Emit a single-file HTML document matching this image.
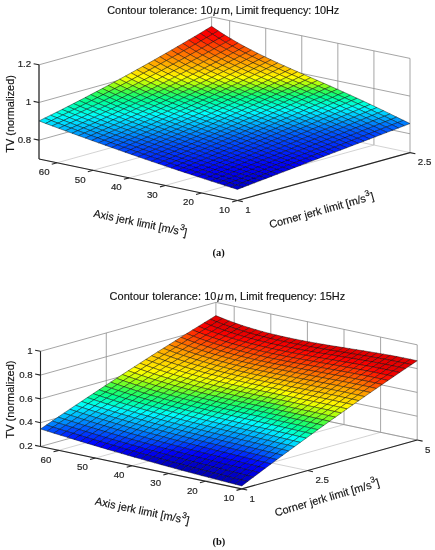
<!DOCTYPE html>
<html><head><meta charset="utf-8"><title>Figure</title>
<style>
html,body{margin:0;padding:0;background:#fff;}
svg{display:block;}
.g{stroke:#8e8e8e;stroke-width:0.8;fill:none}
.f{stroke:#c8c8c8;stroke-width:0.8;fill:none}
.a{stroke:#262626;stroke-width:1.1;fill:none;stroke-linecap:butt}
.s polygon{stroke:#000;stroke-width:0.42;stroke-linejoin:round}
.t{font-family:"Liberation Sans",sans-serif;font-size:9.7px;fill:#262626;stroke:#262626;stroke-width:0.2}
.l{font-family:"Liberation Sans",sans-serif;font-size:10.9px;fill:#111;stroke:#111;stroke-width:0.15}
.c{font-family:"Liberation Serif",serif;font-weight:bold;font-size:10.5px;fill:#111}
</style></head><body>
<svg width="435" height="550" viewBox="0 0 435 550">
<rect width="435" height="550" fill="#fff"/>
<g id="plot-a">
<line class="f" x1="237.4" y1="200.5" x2="410" y2="152.6"/>
<line class="g" x1="410" y1="152.6" x2="410" y2="58.4"/>
<line class="f" x1="201.33" y1="192.95" x2="373.93" y2="145.05"/>
<line class="g" x1="373.93" y1="145.05" x2="373.93" y2="50.85"/>
<line class="f" x1="165.25" y1="185.41" x2="337.85" y2="137.51"/>
<line class="g" x1="337.85" y1="137.51" x2="337.85" y2="43.31"/>
<line class="f" x1="129.18" y1="177.86" x2="301.78" y2="129.96"/>
<line class="g" x1="301.78" y1="129.96" x2="301.78" y2="35.76"/>
<line class="f" x1="93.11" y1="170.32" x2="265.71" y2="122.42"/>
<line class="g" x1="265.71" y1="122.42" x2="265.71" y2="28.22"/>
<line class="f" x1="57.04" y1="162.77" x2="229.64" y2="114.87"/>
<line class="g" x1="229.64" y1="114.87" x2="229.64" y2="20.67"/>
<line class="f" x1="237.4" y1="200.5" x2="39" y2="159"/>
<line class="g" x1="39" y1="159" x2="39" y2="64.8"/>
<line class="f" x1="410" y1="152.6" x2="211.6" y2="111.1"/>
<line class="g" x1="211.6" y1="111.1" x2="211.6" y2="16.9"/>
<line class="g" x1="39" y1="140.16" x2="211.6" y2="92.26"/>
<line class="g" x1="211.6" y1="92.26" x2="410" y2="133.76"/>
<line class="g" x1="39" y1="102.48" x2="211.6" y2="54.58"/>
<line class="g" x1="211.6" y1="54.58" x2="410" y2="96.08"/>
<line class="g" x1="39" y1="64.8" x2="211.6" y2="16.9"/>
<line class="g" x1="211.6" y1="16.9" x2="410" y2="58.4"/>
<g class="s">
<polygon fill="#f60000" points="212.46,34.22 205.85,29.79 211.6,26.32 218.21,30.82"/>
<polygon fill="#ff0000" points="219.07,38.4 212.46,34.22 218.21,30.82 224.83,35.08"/>
<polygon fill="#fd0000" points="206.71,37.59 200.09,33.24 205.85,29.79 212.46,34.22"/>
<polygon fill="#ff1200" points="225.69,42.36 219.07,38.4 224.83,35.08 231.44,39.1"/>
<polygon fill="#ff0c00" points="213.32,41.7 206.71,37.59 212.46,34.22 219.07,38.4"/>
<polygon fill="#ff0600" points="200.95,40.94 194.34,36.66 200.09,33.24 206.71,37.59"/>
<polygon fill="#ff2e00" points="232.3,46.13 225.69,42.36 231.44,39.1 238.05,42.93"/>
<polygon fill="#ff2a00" points="219.93,45.6 213.32,41.7 219.07,38.4 225.69,42.36"/>
<polygon fill="#ff2400" points="207.57,44.98 200.95,40.94 206.71,37.59 213.32,41.7"/>
<polygon fill="#ff1e00" points="195.2,44.27 188.59,40.07 194.34,36.66 200.95,40.94"/>
<polygon fill="#ff4600" points="238.91,49.72 232.3,46.13 238.05,42.93 244.67,46.57"/>
<polygon fill="#ff4300" points="226.55,49.31 219.93,45.6 225.69,42.36 232.3,46.13"/>
<polygon fill="#ff4000" points="214.18,48.82 207.57,44.98 213.32,41.7 219.93,45.6"/>
<polygon fill="#ff3c00" points="201.81,48.24 195.2,44.27 200.95,40.94 207.57,44.98"/>
<polygon fill="#ff3700" points="189.45,47.57 182.83,43.45 188.59,40.07 195.2,44.27"/>
<polygon fill="#ff5a00" points="245.53,53.17 238.91,49.72 244.67,46.57 251.28,50.06"/>
<polygon fill="#ff5800" points="233.16,52.86 226.55,49.31 232.3,46.13 238.91,49.72"/>
<polygon fill="#ff5600" points="220.79,52.48 214.18,48.82 219.93,45.6 226.55,49.31"/>
<polygon fill="#ff5200" points="208.43,52.02 201.81,48.24 207.57,44.98 214.18,48.82"/>
<polygon fill="#ff4f00" points="196.06,51.48 189.45,47.57 195.2,44.27 201.81,48.24"/>
<polygon fill="#ff4b00" points="183.69,50.86 177.08,46.81 182.83,43.45 189.45,47.57"/>
<polygon fill="#ff6e00" points="252.14,56.48 245.53,53.17 251.28,50.06 257.89,53.42"/>
<polygon fill="#ff6d00" points="239.77,56.26 233.16,52.86 238.91,49.72 245.53,53.17"/>
<polygon fill="#ff6b00" points="227.41,55.97 220.79,52.48 226.55,49.31 233.16,52.86"/>
<polygon fill="#ff6800" points="215.04,55.62 208.43,52.02 214.18,48.82 220.79,52.48"/>
<polygon fill="#ff6500" points="202.67,55.2 196.06,51.48 201.81,48.24 208.43,52.02"/>
<polygon fill="#ff6200" points="190.31,54.7 183.69,50.86 189.45,47.57 196.06,51.48"/>
<polygon fill="#ff5e00" points="177.94,54.13 171.33,50.15 177.08,46.81 183.69,50.86"/>
<polygon fill="#ff8100" points="258.75,59.69 252.14,56.48 257.89,53.42 264.51,56.66"/>
<polygon fill="#ff8000" points="246.39,59.53 239.77,56.26 245.53,53.17 252.14,56.48"/>
<polygon fill="#ff7f00" points="234.02,59.33 227.41,55.97 233.16,52.86 239.77,56.26"/>
<polygon fill="#ff7d00" points="221.65,59.07 215.04,55.62 220.79,52.48 227.41,55.97"/>
<polygon fill="#ff7b00" points="209.29,58.75 202.67,55.2 208.43,52.02 215.04,55.62"/>
<polygon fill="#ff7800" points="196.92,58.36 190.31,54.7 196.06,51.48 202.67,55.2"/>
<polygon fill="#ff7500" points="184.55,57.9 177.94,54.13 183.69,50.86 190.31,54.7"/>
<polygon fill="#ff7100" points="172.19,57.37 165.57,53.47 171.33,50.15 177.94,54.13"/>
<polygon fill="#ff9400" points="265.37,62.8 258.75,59.69 264.51,56.66 271.12,59.81"/>
<polygon fill="#ff9300" points="253,62.7 246.39,59.53 252.14,56.48 258.75,59.69"/>
<polygon fill="#ff9200" points="240.63,62.56 234.02,59.33 239.77,56.26 246.39,59.53"/>
<polygon fill="#ff9100" points="228.27,62.38 221.65,59.07 227.41,55.97 234.02,59.33"/>
<polygon fill="#ff8f00" points="215.9,62.15 209.29,58.75 215.04,55.62 221.65,59.07"/>
<polygon fill="#ff8d00" points="203.53,61.86 196.92,58.36 202.67,55.2 209.29,58.75"/>
<polygon fill="#ff8a00" points="191.17,61.51 184.55,57.9 190.31,54.7 196.92,58.36"/>
<polygon fill="#ff8700" points="178.8,61.08 172.19,57.37 177.94,54.13 184.55,57.9"/>
<polygon fill="#ff8400" points="166.43,60.59 159.82,56.76 165.57,53.47 172.19,57.37"/>
<polygon fill="#ffa600" points="271.98,65.83 265.37,62.8 271.12,59.81 277.73,62.88"/>
<polygon fill="#ffa500" points="259.61,65.77 253,62.7 258.75,59.69 265.37,62.8"/>
<polygon fill="#ffa500" points="247.25,65.69 240.63,62.56 246.39,59.53 253,62.7"/>
<polygon fill="#ffa400" points="234.88,65.57 228.27,62.38 234.02,59.33 240.63,62.56"/>
<polygon fill="#ffa300" points="222.51,65.42 215.9,62.15 221.65,59.07 228.27,62.38"/>
<polygon fill="#ffa100" points="210.15,65.21 203.53,61.86 209.29,58.75 215.9,62.15"/>
<polygon fill="#ff9f00" points="197.78,64.95 191.17,61.51 196.92,58.36 203.53,61.86"/>
<polygon fill="#ff9d00" points="185.41,64.63 178.8,61.08 184.55,57.9 191.17,61.51"/>
<polygon fill="#ff9a00" points="173.05,64.24 166.43,60.59 172.19,57.37 178.8,61.08"/>
<polygon fill="#ff9700" points="160.68,63.8 154.07,60.04 159.82,56.76 166.43,60.59"/>
<polygon fill="#ffb700" points="278.59,68.81 271.98,65.83 277.73,62.88 284.35,65.89"/>
<polygon fill="#ffb700" points="266.23,68.77 259.61,65.77 265.37,62.8 271.98,65.83"/>
<polygon fill="#ffb700" points="253.86,68.73 247.25,65.69 253,62.7 259.61,65.77"/>
<polygon fill="#ffb600" points="241.49,68.67 234.88,65.57 240.63,62.56 247.25,65.69"/>
<polygon fill="#ffb500" points="229.13,68.57 222.51,65.42 228.27,62.38 234.88,65.57"/>
<polygon fill="#ffb400" points="216.76,68.44 210.15,65.21 215.9,62.15 222.51,65.42"/>
<polygon fill="#ffb300" points="204.39,68.26 197.78,64.95 203.53,61.86 210.15,65.21"/>
<polygon fill="#ffb100" points="192.03,68.02 185.41,64.63 191.17,61.51 197.78,64.95"/>
<polygon fill="#ffaf00" points="179.66,67.73 173.05,64.24 178.8,61.08 185.41,64.63"/>
<polygon fill="#ffad00" points="167.29,67.38 160.68,63.8 166.43,60.59 173.05,64.24"/>
<polygon fill="#ffaa00" points="154.93,66.98 148.31,63.29 154.07,60.04 160.68,63.8"/>
<polygon fill="#ffc900" points="285.21,71.74 278.59,68.81 284.35,65.89 290.96,68.85"/>
<polygon fill="#ffc900" points="272.84,71.72 266.23,68.77 271.98,65.83 278.59,68.81"/>
<polygon fill="#ffc800" points="260.47,71.7 253.86,68.73 259.61,65.77 266.23,68.77"/>
<polygon fill="#ffc800" points="248.11,71.67 241.49,68.67 247.25,65.69 253.86,68.73"/>
<polygon fill="#ffc800" points="235.74,71.63 229.13,68.57 234.88,65.57 241.49,68.67"/>
<polygon fill="#ffc700" points="223.37,71.55 216.76,68.44 222.51,65.42 229.13,68.57"/>
<polygon fill="#ffc600" points="211.01,71.44 204.39,68.26 210.15,65.21 216.76,68.44"/>
<polygon fill="#ffc500" points="198.64,71.28 192.03,68.02 197.78,64.95 204.39,68.26"/>
<polygon fill="#ffc300" points="186.27,71.07 179.66,67.73 185.41,64.63 192.03,68.02"/>
<polygon fill="#ffc100" points="173.91,70.81 167.29,67.38 173.05,64.24 179.66,67.73"/>
<polygon fill="#ffbf00" points="161.54,70.5 154.93,66.98 160.68,63.8 167.29,67.38"/>
<polygon fill="#ffbd00" points="149.17,70.14 142.56,66.52 148.31,63.29 154.93,66.98"/>
<polygon fill="#ffda00" points="291.82,74.63 285.21,71.74 290.96,68.85 297.57,71.77"/>
<polygon fill="#ffda00" points="279.45,74.61 272.84,71.72 278.59,68.81 285.21,71.74"/>
<polygon fill="#ffda00" points="267.09,74.61 260.47,71.7 266.23,68.77 272.84,71.72"/>
<polygon fill="#ffd900" points="254.72,74.61 248.11,71.67 253.86,68.73 260.47,71.7"/>
<polygon fill="#ffd900" points="242.35,74.6 235.74,71.63 241.49,68.67 248.11,71.67"/>
<polygon fill="#ffd900" points="229.99,74.57 223.37,71.55 229.13,68.57 235.74,71.63"/>
<polygon fill="#ffd800" points="217.62,74.51 211.01,71.44 216.76,68.44 223.37,71.55"/>
<polygon fill="#ffd800" points="205.25,74.42 198.64,71.28 204.39,68.26 211.01,71.44"/>
<polygon fill="#ffd600" points="192.89,74.29 186.27,71.07 192.03,68.02 198.64,71.28"/>
<polygon fill="#ffd500" points="180.52,74.11 173.91,70.81 179.66,67.73 186.27,71.07"/>
<polygon fill="#ffd300" points="168.15,73.88 161.54,70.5 167.29,67.38 173.91,70.81"/>
<polygon fill="#ffd100" points="155.79,73.6 149.17,70.14 154.93,66.98 161.54,70.5"/>
<polygon fill="#ffcf00" points="143.42,73.28 136.81,69.73 142.56,66.52 149.17,70.14"/>
<polygon fill="#ffed00" points="298.43,77.51 291.82,74.63 297.57,71.77 304.19,74.68"/>
<polygon fill="#ffec00" points="286.07,77.48 279.45,74.61 285.21,71.74 291.82,74.63"/>
<polygon fill="#ffec00" points="273.7,77.48 267.09,74.61 272.84,71.72 279.45,74.61"/>
<polygon fill="#ffec00" points="261.33,77.49 254.72,74.61 260.47,71.7 267.09,74.61"/>
<polygon fill="#ffec00" points="248.97,77.5 242.35,74.6 248.11,71.67 254.72,74.61"/>
<polygon fill="#ffec00" points="236.6,77.51 229.99,74.57 235.74,71.63 242.35,74.6"/>
<polygon fill="#ffec00" points="224.23,77.5 217.62,74.51 223.37,71.55 229.99,74.57"/>
<polygon fill="#ffeb00" points="211.87,77.46 205.25,74.42 211.01,71.44 217.62,74.51"/>
<polygon fill="#ffeb00" points="199.5,77.39 192.89,74.29 198.64,71.28 205.25,74.42"/>
<polygon fill="#ffea00" points="187.13,77.28 180.52,74.11 186.27,71.07 192.89,74.29"/>
<polygon fill="#ffe800" points="174.77,77.12 168.15,73.88 173.91,70.81 180.52,74.11"/>
<polygon fill="#ffe700" points="162.4,76.92 155.79,73.6 161.54,70.5 168.15,73.88"/>
<polygon fill="#ffe500" points="150.03,76.68 143.42,73.28 149.17,70.14 155.79,73.6"/>
<polygon fill="#ffe200" points="137.67,76.4 131.05,72.92 136.81,69.73 143.42,73.28"/>
<polygon fill="#feff00" points="305.05,80.37 298.43,77.51 304.19,74.68 310.8,77.57"/>
<polygon fill="#ffff00" points="292.68,80.32 286.07,77.48 291.82,74.63 298.43,77.51"/>
<polygon fill="#ffff00" points="280.31,80.31 273.7,77.48 279.45,74.61 286.07,77.48"/>
<polygon fill="#ffff00" points="267.95,80.33 261.33,77.49 267.09,74.61 273.7,77.48"/>
<polygon fill="#ffff00" points="255.58,80.36 248.97,77.5 254.72,74.61 261.33,77.49"/>
<polygon fill="#feff00" points="243.21,80.39 236.6,77.51 242.35,74.6 248.97,77.5"/>
<polygon fill="#feff00" points="230.85,80.41 224.23,77.5 229.99,74.57 236.6,77.51"/>
<polygon fill="#ffff00" points="218.48,80.41 211.87,77.46 217.62,74.51 224.23,77.5"/>
<polygon fill="#ffff00" points="206.11,80.39 199.5,77.39 205.25,74.42 211.87,77.46"/>
<polygon fill="#fffe00" points="193.75,80.34 187.13,77.28 192.89,74.29 199.5,77.39"/>
<polygon fill="#fffd00" points="181.38,80.25 174.77,77.12 180.52,74.11 187.13,77.28"/>
<polygon fill="#fffc00" points="169.01,80.12 162.4,76.92 168.15,73.88 174.77,77.12"/>
<polygon fill="#fffb00" points="156.65,79.95 150.03,76.68 155.79,73.6 162.4,76.92"/>
<polygon fill="#fff900" points="144.28,79.74 137.67,76.4 143.42,73.28 150.03,76.68"/>
<polygon fill="#fff700" points="131.91,79.49 125.3,76.08 131.05,72.92 137.67,76.4"/>
<polygon fill="#dcff07" points="311.66,83.23 305.05,80.37 310.8,77.57 317.41,80.47"/>
<polygon fill="#ddff07" points="299.29,83.16 292.68,80.32 298.43,77.51 305.05,80.37"/>
<polygon fill="#ddff06" points="286.93,83.13 280.31,80.31 286.07,77.48 292.68,80.32"/>
<polygon fill="#ddff06" points="274.56,83.13 267.95,80.33 273.7,77.48 280.31,80.31"/>
<polygon fill="#ddff06" points="262.19,83.16 255.58,80.36 261.33,77.49 267.95,80.33"/>
<polygon fill="#dcff07" points="249.83,83.21 243.21,80.39 248.97,77.5 255.58,80.36"/>
<polygon fill="#dcff07" points="237.46,83.25 230.85,80.41 236.6,77.51 243.21,80.39"/>
<polygon fill="#dcff07" points="225.09,83.29 218.48,80.41 224.23,77.5 230.85,80.41"/>
<polygon fill="#dcff07" points="212.73,83.31 206.11,80.39 211.87,77.46 218.48,80.41"/>
<polygon fill="#ddff07" points="200.36,83.3 193.75,80.34 199.5,77.39 206.11,80.39"/>
<polygon fill="#deff06" points="187.99,83.27 181.38,80.25 187.13,77.28 193.75,80.34"/>
<polygon fill="#dfff06" points="175.63,83.2 169.01,80.12 174.77,77.12 181.38,80.25"/>
<polygon fill="#e1ff06" points="163.26,83.09 156.65,79.95 162.4,76.92 169.01,80.12"/>
<polygon fill="#e4ff05" points="150.89,82.95 144.28,79.74 150.03,76.68 156.65,79.95"/>
<polygon fill="#e7ff05" points="138.53,82.78 131.91,79.49 137.67,76.4 144.28,79.74"/>
<polygon fill="#eaff04" points="126.16,82.57 119.55,79.22 125.3,76.08 131.91,79.49"/>
<polygon fill="#b5ff0e" points="318.27,86.1 311.66,83.23 317.41,80.47 324.03,83.37"/>
<polygon fill="#b6ff0e" points="305.91,85.99 299.29,83.16 305.05,80.37 311.66,83.23"/>
<polygon fill="#b7ff0e" points="293.54,85.93 286.93,83.13 292.68,80.32 299.29,83.16"/>
<polygon fill="#b7ff0e" points="281.17,85.92 274.56,83.13 280.31,80.31 286.93,83.13"/>
<polygon fill="#b7ff0e" points="268.81,85.94 262.19,83.16 267.95,80.33 274.56,83.13"/>
<polygon fill="#b7ff0e" points="256.44,85.99 249.83,83.21 255.58,80.36 262.19,83.16"/>
<polygon fill="#b6ff0e" points="244.07,86.05 237.46,83.25 243.21,80.39 249.83,83.21"/>
<polygon fill="#b5ff0e" points="231.71,86.1 225.09,83.29 230.85,80.41 237.46,83.25"/>
<polygon fill="#b5ff0e" points="219.34,86.15 212.73,83.31 218.48,80.41 225.09,83.29"/>
<polygon fill="#b5ff0e" points="206.97,86.19 200.36,83.3 206.11,80.39 212.73,83.31"/>
<polygon fill="#b5ff0e" points="194.61,86.2 187.99,83.27 193.75,80.34 200.36,83.3"/>
<polygon fill="#b6ff0e" points="182.24,86.18 175.63,83.2 181.38,80.25 187.99,83.27"/>
<polygon fill="#b7ff0e" points="169.87,86.13 163.26,83.09 169.01,80.12 175.63,83.2"/>
<polygon fill="#b9ff0d" points="157.51,86.05 150.89,82.95 156.65,79.95 163.26,83.09"/>
<polygon fill="#bbff0d" points="145.14,85.94 138.53,82.78 144.28,79.74 150.89,82.95"/>
<polygon fill="#beff0c" points="132.77,85.79 126.16,82.57 131.91,79.49 138.53,82.78"/>
<polygon fill="#c1ff0c" points="120.41,85.63 113.79,82.35 119.55,79.22 126.16,82.57"/>
<polygon fill="#89ff1c" points="324.89,88.99 318.27,86.1 324.03,83.37 330.64,86.29"/>
<polygon fill="#8cff1a" points="312.52,88.83 305.91,85.99 311.66,83.23 318.27,86.1"/>
<polygon fill="#8eff19" points="300.15,88.74 293.54,85.93 299.29,83.16 305.91,85.99"/>
<polygon fill="#8fff18" points="287.79,88.7 281.17,85.92 286.93,83.13 293.54,85.93"/>
<polygon fill="#8fff18" points="275.42,88.7 268.81,85.94 274.56,83.13 281.17,85.92"/>
<polygon fill="#8eff19" points="263.05,88.74 256.44,85.99 262.19,83.16 268.81,85.94"/>
<polygon fill="#8eff19" points="250.69,88.8 244.07,86.05 249.83,83.21 256.44,85.99"/>
<polygon fill="#8dff19" points="238.32,88.87 231.71,86.1 237.46,83.25 244.07,86.05"/>
<polygon fill="#8dff1a" points="225.95,88.94 219.34,86.15 225.09,83.29 231.71,86.1"/>
<polygon fill="#8cff1a" points="213.59,89.01 206.97,86.19 212.73,83.31 219.34,86.15"/>
<polygon fill="#8cff1a" points="201.22,89.05 194.61,86.2 200.36,83.3 206.97,86.19"/>
<polygon fill="#8cff1a" points="188.85,89.08 182.24,86.18 187.99,83.27 194.61,86.2"/>
<polygon fill="#8dff19" points="176.49,89.08 169.87,86.13 175.63,83.2 182.24,86.18"/>
<polygon fill="#8eff19" points="164.12,89.05 157.51,86.05 163.26,83.09 169.87,86.13"/>
<polygon fill="#90ff18" points="151.75,88.99 145.14,85.94 150.89,82.95 157.51,86.05"/>
<polygon fill="#92ff16" points="139.39,88.9 132.77,85.79 138.53,82.78 145.14,85.94"/>
<polygon fill="#94ff15" points="127.02,88.79 120.41,85.63 126.16,82.57 132.77,85.79"/>
<polygon fill="#97ff14" points="114.65,88.66 108.04,85.45 113.79,82.35 120.41,85.63"/>
<polygon fill="#53ff3c" points="331.5,91.9 324.89,88.99 330.64,86.29 337.25,89.23"/>
<polygon fill="#58ff39" points="319.13,91.68 312.52,88.83 318.27,86.1 324.89,88.99"/>
<polygon fill="#5cff37" points="306.77,91.54 300.15,88.74 305.91,85.99 312.52,88.83"/>
<polygon fill="#5eff36" points="294.4,91.47 287.79,88.7 293.54,85.93 300.15,88.74"/>
<polygon fill="#5fff35" points="282.03,91.45 275.42,88.7 281.17,85.92 287.79,88.7"/>
<polygon fill="#60ff34" points="269.67,91.47 263.05,88.74 268.81,85.94 275.42,88.7"/>
<polygon fill="#60ff34" points="257.3,91.53 250.69,88.8 256.44,85.99 263.05,88.74"/>
<polygon fill="#60ff34" points="244.93,91.6 238.32,88.87 244.07,86.05 250.69,88.8"/>
<polygon fill="#60ff34" points="232.57,91.68 225.95,88.94 231.71,86.1 238.32,88.87"/>
<polygon fill="#60ff34" points="220.2,91.77 213.59,89.01 219.34,86.15 225.95,88.94"/>
<polygon fill="#61ff34" points="207.83,91.84 201.22,89.05 206.97,86.19 213.59,89.01"/>
<polygon fill="#61ff34" points="195.47,91.9 188.85,89.08 194.61,86.2 201.22,89.05"/>
<polygon fill="#61ff34" points="183.1,91.94 176.49,89.08 182.24,86.18 188.85,89.08"/>
<polygon fill="#62ff33" points="170.73,91.96 164.12,89.05 169.87,86.13 176.49,89.08"/>
<polygon fill="#63ff33" points="158.37,91.95 151.75,88.99 157.51,86.05 164.12,89.05"/>
<polygon fill="#65ff32" points="146,91.91 139.39,88.9 145.14,85.94 151.75,88.99"/>
<polygon fill="#67ff30" points="133.63,91.85 127.02,88.79 132.77,85.79 139.39,88.9"/>
<polygon fill="#69ff2f" points="121.27,91.77 114.65,88.66 120.41,85.63 127.02,88.79"/>
<polygon fill="#6bff2e" points="108.9,91.67 102.29,88.52 108.04,85.45 114.65,88.66"/>
<polygon fill="#29ff5d" points="338.11,94.83 331.5,91.9 337.25,89.23 343.87,92.2"/>
<polygon fill="#2cff59" points="325.75,94.56 319.13,91.68 324.89,88.99 331.5,91.9"/>
<polygon fill="#2eff55" points="313.38,94.37 306.77,91.54 312.52,88.83 319.13,91.68"/>
<polygon fill="#30ff53" points="301.01,94.25 294.4,91.47 300.15,88.74 306.77,91.54"/>
<polygon fill="#31ff51" points="288.65,94.2 282.03,91.45 287.79,88.7 294.4,91.47"/>
<polygon fill="#32ff50" points="276.28,94.19 269.67,91.47 275.42,88.7 282.03,91.45"/>
<polygon fill="#33ff4f" points="263.91,94.23 257.3,91.53 263.05,88.74 269.67,91.47"/>
<polygon fill="#34ff4f" points="251.55,94.3 244.93,91.6 250.69,88.8 257.3,91.53"/>
<polygon fill="#34ff4f" points="239.18,94.38 232.57,91.68 238.32,88.87 244.93,91.6"/>
<polygon fill="#35ff4e" points="226.81,94.48 220.2,91.77 225.95,88.94 232.57,91.68"/>
<polygon fill="#36ff4e" points="214.45,94.57 207.83,91.84 213.59,89.01 220.2,91.77"/>
<polygon fill="#36ff4e" points="202.08,94.66 195.47,91.9 201.22,89.05 207.83,91.84"/>
<polygon fill="#36ff4e" points="189.71,94.73 183.1,91.94 188.85,89.08 195.47,91.9"/>
<polygon fill="#37ff4d" points="177.35,94.79 170.73,91.96 176.49,89.08 183.1,91.94"/>
<polygon fill="#37ff4d" points="164.98,94.82 158.37,91.95 164.12,89.05 170.73,91.96"/>
<polygon fill="#38ff4c" points="152.61,94.83 146,91.91 151.75,88.99 158.37,91.95"/>
<polygon fill="#3aff4b" points="140.25,94.81 133.63,91.85 139.39,88.9 146,91.91"/>
<polygon fill="#3cff4a" points="127.88,94.77 121.27,91.77 127.02,88.79 133.63,91.85"/>
<polygon fill="#3eff49" points="115.51,94.72 108.9,91.67 114.65,88.66 121.27,91.77"/>
<polygon fill="#40ff47" points="103.15,94.67 96.53,91.58 102.29,88.52 108.9,91.67"/>
<polygon fill="#0fff80" points="344.73,97.79 338.11,94.83 343.87,92.2 350.48,95.2"/>
<polygon fill="#13ff7b" points="332.36,97.46 325.75,94.56 331.5,91.9 338.11,94.83"/>
<polygon fill="#17ff76" points="319.99,97.21 313.38,94.37 319.13,91.68 325.75,94.56"/>
<polygon fill="#19ff73" points="307.63,97.04 301.01,94.25 306.77,91.54 313.38,94.37"/>
<polygon fill="#1bff70" points="295.26,96.95 288.65,94.2 294.4,91.47 301.01,94.25"/>
<polygon fill="#1cff6e" points="282.89,96.91 276.28,94.19 282.03,91.45 288.65,94.2"/>
<polygon fill="#1dff6d" points="270.53,96.93 263.91,94.23 269.67,91.47 276.28,94.19"/>
<polygon fill="#1eff6c" points="258.16,96.98 251.55,94.3 257.3,91.53 263.91,94.23"/>
<polygon fill="#1fff6b" points="245.79,97.06 239.18,94.38 244.93,91.6 251.55,94.3"/>
<polygon fill="#20ff6a" points="233.43,97.16 226.81,94.48 232.57,91.68 239.18,94.38"/>
<polygon fill="#20ff69" points="221.06,97.26 214.45,94.57 220.2,91.77 226.81,94.48"/>
<polygon fill="#21ff68" points="208.69,97.37 202.08,94.66 207.83,91.84 214.45,94.57"/>
<polygon fill="#21ff68" points="196.33,97.47 189.71,94.73 195.47,91.9 202.08,94.66"/>
<polygon fill="#21ff68" points="183.96,97.55 177.35,94.79 183.1,91.94 189.71,94.73"/>
<polygon fill="#21ff68" points="171.59,97.62 164.98,94.82 170.73,91.96 177.35,94.79"/>
<polygon fill="#22ff67" points="159.23,97.66 152.61,94.83 158.37,91.95 164.98,94.82"/>
<polygon fill="#22ff66" points="146.86,97.69 140.25,94.81 146,91.91 152.61,94.83"/>
<polygon fill="#23ff65" points="134.49,97.69 127.88,94.77 133.63,91.85 140.25,94.81"/>
<polygon fill="#24ff64" points="122.13,97.68 115.51,94.72 121.27,91.77 127.88,94.77"/>
<polygon fill="#25ff62" points="109.76,97.66 103.15,94.67 108.9,91.67 115.51,94.72"/>
<polygon fill="#26ff61" points="97.39,97.64 90.78,94.61 96.53,91.58 103.15,94.67"/>
<polygon fill="#00ff9b" points="351.34,100.79 344.73,97.79 350.48,95.2 357.09,98.23"/>
<polygon fill="#01ff95" points="338.97,100.38 332.36,97.46 338.11,94.83 344.73,97.79"/>
<polygon fill="#03ff92" points="326.61,100.07 319.99,97.21 325.75,94.56 332.36,97.46"/>
<polygon fill="#05ff8e" points="314.24,99.85 307.63,97.04 313.38,94.37 319.99,97.21"/>
<polygon fill="#07ff8c" points="301.87,99.71 295.26,96.95 301.01,94.25 307.63,97.04"/>
<polygon fill="#09ff8a" points="289.51,99.63 282.89,96.91 288.65,94.2 295.26,96.95"/>
<polygon fill="#0aff89" points="277.14,99.62 270.53,96.93 276.28,94.19 282.89,96.91"/>
<polygon fill="#0aff87" points="264.77,99.65 258.16,96.98 263.91,94.23 270.53,96.93"/>
<polygon fill="#0bff86" points="252.41,99.71 245.79,97.06 251.55,94.3 258.16,96.98"/>
<polygon fill="#0cff85" points="240.04,99.81 233.43,97.16 239.18,94.38 245.79,97.06"/>
<polygon fill="#0cff85" points="227.67,99.92 221.06,97.26 226.81,94.48 233.43,97.16"/>
<polygon fill="#0dff83" points="215.31,100.03 208.69,97.37 214.45,94.57 221.06,97.26"/>
<polygon fill="#0eff83" points="202.94,100.15 196.33,97.47 202.08,94.66 208.69,97.37"/>
<polygon fill="#0eff83" points="190.57,100.26 183.96,97.55 189.71,94.73 196.33,97.47"/>
<polygon fill="#0eff82" points="178.21,100.35 171.59,97.62 177.35,94.79 183.96,97.55"/>
<polygon fill="#0eff82" points="165.84,100.43 159.23,97.66 164.98,94.82 171.59,97.62"/>
<polygon fill="#0fff81" points="153.47,100.49 146.86,97.69 152.61,94.83 159.23,97.66"/>
<polygon fill="#10ff80" points="141.11,100.53 134.49,97.69 140.25,94.81 146.86,97.69"/>
<polygon fill="#10ff7f" points="128.74,100.56 122.13,97.68 127.88,94.77 134.49,97.69"/>
<polygon fill="#11ff7e" points="116.37,100.57 109.76,97.66 115.51,94.72 122.13,97.68"/>
<polygon fill="#12ff7d" points="104.01,100.58 97.39,97.64 103.15,94.67 109.76,97.66"/>
<polygon fill="#13ff7b" points="91.64,100.59 85.03,97.63 90.78,94.61 97.39,97.64"/>
<polygon fill="#00ffbd" points="357.95,103.81 351.34,100.79 357.09,98.23 363.71,101.3"/>
<polygon fill="#00ffb6" points="345.59,103.34 338.97,100.38 344.73,97.79 351.34,100.79"/>
<polygon fill="#00ffaf" points="333.22,102.96 326.61,100.07 332.36,97.46 338.97,100.38"/>
<polygon fill="#00ffaa" points="320.85,102.68 314.24,99.85 319.99,97.21 326.61,100.07"/>
<polygon fill="#00ffa6" points="308.49,102.49 301.87,99.71 307.63,97.04 314.24,99.85"/>
<polygon fill="#00ffa2" points="296.12,102.37 289.51,99.63 295.26,96.95 301.87,99.71"/>
<polygon fill="#00ff9f" points="283.75,102.31 277.14,99.62 282.89,96.91 289.51,99.63"/>
<polygon fill="#00ff9d" points="271.39,102.31 264.77,99.65 270.53,96.93 277.14,99.62"/>
<polygon fill="#00ff9b" points="259.02,102.36 252.41,99.71 258.16,96.98 264.77,99.65"/>
<polygon fill="#00ff99" points="246.65,102.44 240.04,99.81 245.79,97.06 252.41,99.71"/>
<polygon fill="#00ff97" points="234.29,102.54 227.67,99.92 233.43,97.16 240.04,99.81"/>
<polygon fill="#00ff96" points="221.92,102.66 215.31,100.03 221.06,97.26 227.67,99.92"/>
<polygon fill="#01ff95" points="209.55,102.79 202.94,100.15 208.69,97.37 215.31,100.03"/>
<polygon fill="#01ff95" points="197.19,102.91 190.57,100.26 196.33,97.47 202.94,100.15"/>
<polygon fill="#01ff95" points="184.82,103.03 178.21,100.35 183.96,97.55 190.57,100.26"/>
<polygon fill="#01ff94" points="172.45,103.14 165.84,100.43 171.59,97.62 178.21,100.35"/>
<polygon fill="#02ff94" points="160.09,103.23 153.47,100.49 159.23,97.66 165.84,100.43"/>
<polygon fill="#02ff93" points="147.72,103.3 141.11,100.53 146.86,97.69 153.47,100.49"/>
<polygon fill="#02ff93" points="135.35,103.36 128.74,100.56 134.49,97.69 141.11,100.53"/>
<polygon fill="#03ff92" points="122.99,103.4 116.37,100.57 122.13,97.68 128.74,100.56"/>
<polygon fill="#04ff91" points="110.62,103.44 104.01,100.58 109.76,97.66 116.37,100.57"/>
<polygon fill="#04ff90" points="98.25,103.47 91.64,100.59 97.39,97.64 104.01,100.58"/>
<polygon fill="#05ff8f" points="85.89,103.52 79.27,100.62 85.03,97.63 91.64,100.59"/>
<polygon fill="#00ffd9" points="364.57,106.88 357.95,103.81 363.71,101.3 370.32,104.4"/>
<polygon fill="#00ffd2" points="352.2,106.33 345.59,103.34 351.34,100.79 357.95,103.81"/>
<polygon fill="#00ffcc" points="339.83,105.88 333.22,102.96 338.97,100.38 345.59,103.34"/>
<polygon fill="#00ffc7" points="327.47,105.54 320.85,102.68 326.61,100.07 333.22,102.96"/>
<polygon fill="#00ffc3" points="315.1,105.28 308.49,102.49 314.24,99.85 320.85,102.68"/>
<polygon fill="#00ffbf" points="302.73,105.11 296.12,102.37 301.87,99.71 308.49,102.49"/>
<polygon fill="#00ffbb" points="290.37,105.02 283.75,102.31 289.51,99.63 296.12,102.37"/>
<polygon fill="#00ffb8" points="278,104.98 271.39,102.31 277.14,99.62 283.75,102.31"/>
<polygon fill="#00ffb5" points="265.63,105 259.02,102.36 264.77,99.65 271.39,102.31"/>
<polygon fill="#00ffb3" points="253.27,105.06 246.65,102.44 252.41,99.71 259.02,102.36"/>
<polygon fill="#00ffb1" points="240.9,105.15 234.29,102.54 240.04,99.81 246.65,102.44"/>
<polygon fill="#00ffaf" points="228.53,105.27 221.92,102.66 227.67,99.92 234.29,102.54"/>
<polygon fill="#00ffad" points="216.17,105.39 209.55,102.79 215.31,100.03 221.92,102.66"/>
<polygon fill="#00ffac" points="203.8,105.53 197.19,102.91 202.94,100.15 209.55,102.79"/>
<polygon fill="#00ffac" points="191.43,105.66 184.82,103.03 190.57,100.26 197.19,102.91"/>
<polygon fill="#00ffac" points="179.07,105.79 172.45,103.14 178.21,100.35 184.82,103.03"/>
<polygon fill="#00ffab" points="166.7,105.91 160.09,103.23 165.84,100.43 172.45,103.14"/>
<polygon fill="#00ffaa" points="154.33,106.01 147.72,103.3 153.47,100.49 160.09,103.23"/>
<polygon fill="#00ffa9" points="141.97,106.09 135.35,103.36 141.11,100.53 147.72,103.3"/>
<polygon fill="#00ffa8" points="129.6,106.16 122.99,103.4 128.74,100.56 135.35,103.36"/>
<polygon fill="#00ffa7" points="117.23,106.23 110.62,103.44 116.37,100.57 122.99,103.4"/>
<polygon fill="#00ffa6" points="104.87,106.28 98.25,103.47 104.01,100.58 110.62,103.44"/>
<polygon fill="#00ffa5" points="92.5,106.35 85.89,103.52 91.64,100.59 98.25,103.47"/>
<polygon fill="#00ffa4" points="80.13,106.42 73.52,103.59 79.27,100.62 85.89,103.52"/>
<polygon fill="#00fff9" points="371.18,109.97 364.57,106.88 370.32,104.4 376.93,107.54"/>
<polygon fill="#00ffee" points="358.81,109.34 352.2,106.33 357.95,103.81 364.57,106.88"/>
<polygon fill="#00ffe7" points="346.45,108.83 339.83,105.88 345.59,103.34 352.2,106.33"/>
<polygon fill="#00ffe1" points="334.08,108.42 327.47,105.54 333.22,102.96 339.83,105.88"/>
<polygon fill="#00ffdb" points="321.71,108.11 315.1,105.28 320.85,102.68 327.47,105.54"/>
<polygon fill="#00ffd7" points="309.35,107.88 302.73,105.11 308.49,102.49 315.1,105.28"/>
<polygon fill="#00ffd3" points="296.98,107.73 290.37,105.02 296.12,102.37 302.73,105.11"/>
<polygon fill="#00ffd0" points="284.61,107.66 278,104.98 283.75,102.31 290.37,105.02"/>
<polygon fill="#00ffcd" points="272.25,107.64 265.63,105 271.39,102.31 278,104.98"/>
<polygon fill="#00ffcb" points="259.88,107.67 253.27,105.06 259.02,102.36 265.63,105"/>
<polygon fill="#00ffc8" points="247.51,107.75 240.9,105.15 246.65,102.44 253.27,105.06"/>
<polygon fill="#00ffc6" points="235.15,107.85 228.53,105.27 234.29,102.54 240.9,105.15"/>
<polygon fill="#00ffc5" points="222.78,107.98 216.17,105.39 221.92,102.66 228.53,105.27"/>
<polygon fill="#00ffc3" points="210.41,108.11 203.8,105.53 209.55,102.79 216.17,105.39"/>
<polygon fill="#00ffc3" points="198.05,108.26 191.43,105.66 197.19,102.91 203.8,105.53"/>
<polygon fill="#00ffc2" points="185.68,108.4 179.07,105.79 184.82,103.03 191.43,105.66"/>
<polygon fill="#00ffc2" points="173.31,108.53 166.7,105.91 172.45,103.14 179.07,105.79"/>
<polygon fill="#00ffc1" points="160.95,108.66 154.33,106.01 160.09,103.23 166.7,105.91"/>
<polygon fill="#00ffc1" points="148.58,108.77 141.97,106.09 147.72,103.3 154.33,106.01"/>
<polygon fill="#00ffc0" points="136.21,108.87 129.6,106.16 135.35,103.36 141.97,106.09"/>
<polygon fill="#00ffbf" points="123.85,108.95 117.23,106.23 122.99,103.4 129.6,106.16"/>
<polygon fill="#00ffbe" points="111.48,109.03 104.87,106.28 110.62,103.44 117.23,106.23"/>
<polygon fill="#00ffbd" points="99.11,109.11 92.5,106.35 98.25,103.47 104.87,106.28"/>
<polygon fill="#00ffbc" points="86.75,109.2 80.13,106.42 85.89,103.52 92.5,106.35"/>
<polygon fill="#00ffbb" points="74.38,109.31 67.77,106.53 73.52,103.59 80.13,106.42"/>
<polygon fill="#00e9ff" points="377.79,113.09 371.18,109.97 376.93,107.54 383.55,110.7"/>
<polygon fill="#00f1ff" points="365.43,112.39 358.81,109.34 364.57,106.88 371.18,109.97"/>
<polygon fill="#00f9ff" points="353.06,111.81 346.45,108.83 352.2,106.33 358.81,109.34"/>
<polygon fill="#00ffff" points="340.69,111.33 334.08,108.42 339.83,105.88 346.45,108.83"/>
<polygon fill="#00fff7" points="328.33,110.95 321.71,108.11 327.47,105.54 334.08,108.42"/>
<polygon fill="#00ffef" points="315.96,110.67 309.35,107.88 315.1,105.28 321.71,108.11"/>
<polygon fill="#00ffea" points="303.59,110.47 296.98,107.73 302.73,105.11 309.35,107.88"/>
<polygon fill="#00ffe7" points="291.23,110.35 284.61,107.66 290.37,105.02 296.98,107.73"/>
<polygon fill="#00ffe3" points="278.86,110.29 272.25,107.64 278,104.98 284.61,107.66"/>
<polygon fill="#00ffe0" points="266.49,110.29 259.88,107.67 265.63,105 272.25,107.64"/>
<polygon fill="#00ffdd" points="254.13,110.34 247.51,107.75 253.27,105.06 259.88,107.67"/>
<polygon fill="#00ffdb" points="241.76,110.42 235.15,107.85 240.9,105.15 247.51,107.75"/>
<polygon fill="#00ffd9" points="229.39,110.54 222.78,107.98 228.53,105.27 235.15,107.85"/>
<polygon fill="#00ffd7" points="217.03,110.67 210.41,108.11 216.17,105.39 222.78,107.98"/>
<polygon fill="#00ffd5" points="204.66,110.82 198.05,108.26 203.8,105.53 210.41,108.11"/>
<polygon fill="#00ffd5" points="192.29,110.97 185.68,108.4 191.43,105.66 198.05,108.26"/>
<polygon fill="#00ffd4" points="179.93,111.12 173.31,108.53 179.07,105.79 185.68,108.4"/>
<polygon fill="#00ffd4" points="167.56,111.26 160.95,108.66 166.7,105.91 173.31,108.53"/>
<polygon fill="#00ffd3" points="155.19,111.39 148.58,108.77 154.33,106.01 160.95,108.66"/>
<polygon fill="#00ffd3" points="142.83,111.52 136.21,108.87 141.97,106.09 148.58,108.77"/>
<polygon fill="#00ffd2" points="130.46,111.62 123.85,108.95 129.6,106.16 136.21,108.87"/>
<polygon fill="#00ffd1" points="118.09,111.72 111.48,109.03 117.23,106.23 123.85,108.95"/>
<polygon fill="#00ffd0" points="105.73,111.82 99.11,109.11 104.87,106.28 111.48,109.03"/>
<polygon fill="#00ffcf" points="93.36,111.92 86.75,109.2 92.5,106.35 99.11,109.11"/>
<polygon fill="#00ffce" points="80.99,112.04 74.38,109.31 80.13,106.42 86.75,109.2"/>
<polygon fill="#00ffcd" points="68.63,112.18 62.01,109.46 67.77,106.53 74.38,109.31"/>
<polygon fill="#00cfff" points="384.41,116.24 377.79,113.09 383.55,110.7 390.16,113.9"/>
<polygon fill="#00d8ff" points="372.04,115.47 365.43,112.39 371.18,109.97 377.79,113.09"/>
<polygon fill="#00e0ff" points="359.67,114.82 353.06,111.81 358.81,109.34 365.43,112.39"/>
<polygon fill="#00e7ff" points="347.31,114.27 340.69,111.33 346.45,108.83 353.06,111.81"/>
<polygon fill="#00eeff" points="334.94,113.83 328.33,110.95 334.08,108.42 340.69,111.33"/>
<polygon fill="#00f3ff" points="322.57,113.48 315.96,110.67 321.71,108.11 328.33,110.95"/>
<polygon fill="#00f8ff" points="310.21,113.22 303.59,110.47 309.35,107.88 315.96,110.67"/>
<polygon fill="#00fcff" points="297.84,113.05 291.23,110.35 296.98,107.73 303.59,110.47"/>
<polygon fill="#00fffe" points="285.47,112.95 278.86,110.29 284.61,107.66 291.23,110.35"/>
<polygon fill="#00fff9" points="273.11,112.91 266.49,110.29 272.25,107.64 278.86,110.29"/>
<polygon fill="#00fff4" points="260.74,112.93 254.13,110.34 259.88,107.67 266.49,110.29"/>
<polygon fill="#00fff0" points="248.37,112.99 241.76,110.42 247.51,107.75 254.13,110.34"/>
<polygon fill="#00ffed" points="236.01,113.09 229.39,110.54 235.15,107.85 241.76,110.42"/>
<polygon fill="#00ffeb" points="223.64,113.22 217.03,110.67 222.78,107.98 229.39,110.54"/>
<polygon fill="#00ffe8" points="211.27,113.36 204.66,110.82 210.41,108.11 217.03,110.67"/>
<polygon fill="#00ffe8" points="198.91,113.52 192.29,110.97 198.05,108.26 204.66,110.82"/>
<polygon fill="#00ffe7" points="186.54,113.67 179.93,111.12 185.68,108.4 192.29,110.97"/>
<polygon fill="#00ffe6" points="174.17,113.83 167.56,111.26 173.31,108.53 179.93,111.12"/>
<polygon fill="#00ffe6" points="161.81,113.98 155.19,111.39 160.95,108.66 167.56,111.26"/>
<polygon fill="#00ffe5" points="149.44,114.12 142.83,111.52 148.58,108.77 155.19,111.39"/>
<polygon fill="#00ffe4" points="137.07,114.24 130.46,111.62 136.21,108.87 142.83,111.52"/>
<polygon fill="#00ffe3" points="124.71,114.36 118.09,111.72 123.85,108.95 130.46,111.62"/>
<polygon fill="#00ffe2" points="112.34,114.48 105.73,111.82 111.48,109.03 118.09,111.72"/>
<polygon fill="#00ffe1" points="99.97,114.59 93.36,111.92 99.11,109.11 105.73,111.82"/>
<polygon fill="#00ffe0" points="87.61,114.71 80.99,112.04 86.75,109.2 93.36,111.92"/>
<polygon fill="#00ffdf" points="75.24,114.85 68.63,112.18 74.38,109.31 80.99,112.04"/>
<polygon fill="#00ffdf" points="62.87,115.02 56.26,112.36 62.01,109.46 68.63,112.18"/>
<polygon fill="#00b4ff" points="391.02,119.4 384.41,116.24 390.16,113.9 396.77,117.11"/>
<polygon fill="#00beff" points="378.65,118.57 372.04,115.47 377.79,113.09 384.41,116.24"/>
<polygon fill="#00c7ff" points="366.29,117.85 359.67,114.82 365.43,112.39 372.04,115.47"/>
<polygon fill="#00cfff" points="353.92,117.24 347.31,114.27 353.06,111.81 359.67,114.82"/>
<polygon fill="#00d7ff" points="341.55,116.73 334.94,113.83 340.69,111.33 347.31,114.27"/>
<polygon fill="#00ddff" points="329.19,116.32 322.57,113.48 328.33,110.95 334.94,113.83"/>
<polygon fill="#00e2ff" points="316.82,116 310.21,113.22 315.96,110.67 322.57,113.48"/>
<polygon fill="#00e7ff" points="304.45,115.77 297.84,113.05 303.59,110.47 310.21,113.22"/>
<polygon fill="#00ecff" points="292.09,115.62 285.47,112.95 291.23,110.35 297.84,113.05"/>
<polygon fill="#00efff" points="279.72,115.54 273.11,112.91 278.86,110.29 285.47,112.95"/>
<polygon fill="#00f3ff" points="267.35,115.53 260.74,112.93 266.49,110.29 273.11,112.91"/>
<polygon fill="#00f6ff" points="254.99,115.56 248.37,112.99 254.13,110.34 260.74,112.93"/>
<polygon fill="#00f9ff" points="242.62,115.64 236.01,113.09 241.76,110.42 248.37,112.99"/>
<polygon fill="#00fbff" points="230.25,115.75 223.64,113.22 229.39,110.54 236.01,113.09"/>
<polygon fill="#00feff" points="217.89,115.88 211.27,113.36 217.03,110.67 223.64,113.22"/>
<polygon fill="#00ffff" points="205.52,116.04 198.91,113.52 204.66,110.82 211.27,113.36"/>
<polygon fill="#00fffe" points="193.15,116.2 186.54,113.67 192.29,110.97 198.91,113.52"/>
<polygon fill="#00fffd" points="180.79,116.36 174.17,113.83 179.93,111.12 186.54,113.67"/>
<polygon fill="#00fffc" points="168.42,116.52 161.81,113.98 167.56,111.26 174.17,113.83"/>
<polygon fill="#00fffb" points="156.05,116.67 149.44,114.12 155.19,111.39 161.81,113.98"/>
<polygon fill="#00fff9" points="143.69,116.82 137.07,114.24 142.83,111.52 149.44,114.12"/>
<polygon fill="#00fff8" points="131.32,116.96 124.71,114.36 130.46,111.62 137.07,114.24"/>
<polygon fill="#00fff7" points="118.95,117.09 112.34,114.48 118.09,111.72 124.71,114.36"/>
<polygon fill="#00fff5" points="106.59,117.21 99.97,114.59 105.73,111.82 112.34,114.48"/>
<polygon fill="#00fff4" points="94.22,117.34 87.61,114.71 93.36,111.92 99.97,114.59"/>
<polygon fill="#00fff2" points="81.85,117.48 75.24,114.85 80.99,112.04 87.61,114.71"/>
<polygon fill="#00fff1" points="69.49,117.64 62.87,115.02 68.63,112.18 75.24,114.85"/>
<polygon fill="#00fff0" points="57.12,117.85 50.51,115.24 56.26,112.36 62.87,115.02"/>
<polygon fill="#0099ff" points="397.63,122.59 391.02,119.4 396.77,117.11 403.39,120.35"/>
<polygon fill="#00a4ff" points="385.27,121.69 378.65,118.57 384.41,116.24 391.02,119.4"/>
<polygon fill="#00aeff" points="372.9,120.91 366.29,117.85 372.04,115.47 378.65,118.57"/>
<polygon fill="#00b7ff" points="360.53,120.23 353.92,117.24 359.67,114.82 366.29,117.85"/>
<polygon fill="#00bfff" points="348.17,119.65 341.55,116.73 347.31,114.27 353.92,117.24"/>
<polygon fill="#00c6ff" points="335.8,119.18 329.19,116.32 334.94,113.83 341.55,116.73"/>
<polygon fill="#00ccff" points="323.43,118.8 316.82,116 322.57,113.48 329.19,116.32"/>
<polygon fill="#00d2ff" points="311.07,118.52 304.45,115.77 310.21,113.22 316.82,116"/>
<polygon fill="#00d7ff" points="298.7,118.32 292.09,115.62 297.84,113.05 304.45,115.77"/>
<polygon fill="#00dbff" points="286.33,118.19 279.72,115.54 285.47,112.95 292.09,115.62"/>
<polygon fill="#00dfff" points="273.97,118.13 267.35,115.53 273.11,112.91 279.72,115.54"/>
<polygon fill="#00e3ff" points="261.6,118.13 254.99,115.56 260.74,112.93 267.35,115.53"/>
<polygon fill="#00e6ff" points="249.23,118.18 242.62,115.64 248.37,112.99 254.99,115.56"/>
<polygon fill="#00e9ff" points="236.87,118.27 230.25,115.75 236.01,113.09 242.62,115.64"/>
<polygon fill="#00ecff" points="224.5,118.39 217.89,115.88 223.64,113.22 230.25,115.75"/>
<polygon fill="#00efff" points="212.13,118.54 205.52,116.04 211.27,113.36 217.89,115.88"/>
<polygon fill="#00f0ff" points="199.77,118.7 193.15,116.2 198.91,113.52 205.52,116.04"/>
<polygon fill="#00f0ff" points="187.4,118.86 180.79,116.36 186.54,113.67 193.15,116.2"/>
<polygon fill="#00f1ff" points="175.03,119.03 168.42,116.52 174.17,113.83 180.79,116.36"/>
<polygon fill="#00f2ff" points="162.67,119.2 156.05,116.67 161.81,113.98 168.42,116.52"/>
<polygon fill="#00f3ff" points="150.3,119.36 143.69,116.82 149.44,114.12 156.05,116.67"/>
<polygon fill="#00f3ff" points="137.93,119.51 131.32,116.96 137.07,114.24 143.69,116.82"/>
<polygon fill="#00f4ff" points="125.57,119.65 118.95,117.09 124.71,114.36 131.32,116.96"/>
<polygon fill="#00f5ff" points="113.2,119.79 106.59,117.21 112.34,114.48 118.95,117.09"/>
<polygon fill="#00f6ff" points="100.83,119.93 94.22,117.34 99.97,114.59 106.59,117.21"/>
<polygon fill="#00f7ff" points="88.47,120.07 81.85,117.48 87.61,114.71 94.22,117.34"/>
<polygon fill="#00f8ff" points="76.1,120.23 69.49,117.64 75.24,114.85 81.85,117.48"/>
<polygon fill="#00f9ff" points="63.73,120.42 57.12,117.85 62.87,115.02 69.49,117.64"/>
<polygon fill="#00f9ff" points="51.37,120.65 44.75,118.1 50.51,115.24 57.12,117.85"/>
<polygon fill="#007dff" points="404.25,125.78 397.63,122.59 403.39,120.35 410,123.59"/>
<polygon fill="#0089ff" points="391.88,124.83 385.27,121.69 391.02,119.4 397.63,122.59"/>
<polygon fill="#0094ff" points="379.51,123.98 372.9,120.91 378.65,118.57 385.27,121.69"/>
<polygon fill="#009eff" points="367.15,123.24 360.53,120.23 366.29,117.85 372.9,120.91"/>
<polygon fill="#00a7ff" points="354.78,122.6 348.17,119.65 353.92,117.24 360.53,120.23"/>
<polygon fill="#00afff" points="342.41,122.06 335.8,119.18 341.55,116.73 348.17,119.65"/>
<polygon fill="#00b6ff" points="330.05,121.63 323.43,118.8 329.19,116.32 335.8,119.18"/>
<polygon fill="#00bcff" points="317.68,121.28 311.07,118.52 316.82,116 323.43,118.8"/>
<polygon fill="#00c2ff" points="305.31,121.03 298.7,118.32 304.45,115.77 311.07,118.52"/>
<polygon fill="#00c7ff" points="292.95,120.85 286.33,118.19 292.09,115.62 298.7,118.32"/>
<polygon fill="#00ccff" points="280.58,120.75 273.97,118.13 279.72,115.54 286.33,118.19"/>
<polygon fill="#00d0ff" points="268.21,120.71 261.6,118.13 267.35,115.53 273.97,118.13"/>
<polygon fill="#00d3ff" points="255.85,120.73 249.23,118.18 254.99,115.56 261.6,118.13"/>
<polygon fill="#00d7ff" points="243.48,120.79 236.87,118.27 242.62,115.64 249.23,118.18"/>
<polygon fill="#00daff" points="231.11,120.9 224.5,118.39 230.25,115.75 236.87,118.27"/>
<polygon fill="#00ddff" points="218.75,121.03 212.13,118.54 217.89,115.88 224.5,118.39"/>
<polygon fill="#00dfff" points="206.38,121.18 199.77,118.7 205.52,116.04 212.13,118.54"/>
<polygon fill="#00e0ff" points="194.01,121.35 187.4,118.86 193.15,116.2 199.77,118.7"/>
<polygon fill="#00e1ff" points="181.65,121.52 175.03,119.03 180.79,116.36 187.4,118.86"/>
<polygon fill="#00e2ff" points="169.28,121.69 162.67,119.2 168.42,116.52 175.03,119.03"/>
<polygon fill="#00e3ff" points="156.91,121.86 150.3,119.36 156.05,116.67 162.67,119.2"/>
<polygon fill="#00e4ff" points="144.55,122.03 137.93,119.51 143.69,116.82 150.3,119.36"/>
<polygon fill="#00e5ff" points="132.18,122.18 125.57,119.65 131.32,116.96 137.93,119.51"/>
<polygon fill="#00e6ff" points="119.81,122.33 113.2,119.79 118.95,117.09 125.57,119.65"/>
<polygon fill="#00e7ff" points="107.45,122.48 100.83,119.93 106.59,117.21 113.2,119.79"/>
<polygon fill="#00e8ff" points="95.08,122.63 88.47,120.07 94.22,117.34 100.83,119.93"/>
<polygon fill="#00e9ff" points="82.71,122.78 76.1,120.23 81.85,117.48 88.47,120.07"/>
<polygon fill="#00eaff" points="70.35,122.96 63.73,120.42 69.49,117.64 76.1,120.23"/>
<polygon fill="#00eaff" points="57.98,123.17 51.37,120.65 57.12,117.85 63.73,120.42"/>
<polygon fill="#00ebff" points="45.61,123.43 39,120.94 44.75,118.1 51.37,120.65"/>
<polygon fill="#006eff" points="398.49,127.97 391.88,124.83 397.63,122.59 404.25,125.78"/>
<polygon fill="#0079ff" points="386.13,127.07 379.51,123.98 385.27,121.69 391.88,124.83"/>
<polygon fill="#0084ff" points="373.76,126.27 367.15,123.24 372.9,120.91 379.51,123.98"/>
<polygon fill="#008eff" points="361.39,125.57 354.78,122.6 360.53,120.23 367.15,123.24"/>
<polygon fill="#0097ff" points="349.03,124.97 342.41,122.06 348.17,119.65 354.78,122.6"/>
<polygon fill="#009fff" points="336.66,124.47 330.05,121.63 335.8,119.18 342.41,122.06"/>
<polygon fill="#00a6ff" points="324.29,124.07 317.68,121.28 323.43,118.8 330.05,121.63"/>
<polygon fill="#00acff" points="311.93,123.76 305.31,121.03 311.07,118.52 317.68,121.28"/>
<polygon fill="#00b2ff" points="299.56,123.53 292.95,120.85 298.7,118.32 305.31,121.03"/>
<polygon fill="#00b7ff" points="287.19,123.38 280.58,120.75 286.33,118.19 292.95,120.85"/>
<polygon fill="#00bcff" points="274.83,123.3 268.21,120.71 273.97,118.13 280.58,120.75"/>
<polygon fill="#00c0ff" points="262.46,123.28 255.85,120.73 261.6,118.13 268.21,120.71"/>
<polygon fill="#00c4ff" points="250.09,123.32 243.48,120.79 249.23,118.18 255.85,120.73"/>
<polygon fill="#00c8ff" points="237.73,123.4 231.11,120.9 236.87,118.27 243.48,120.79"/>
<polygon fill="#00ccff" points="225.36,123.51 218.75,121.03 224.5,118.39 231.11,120.9"/>
<polygon fill="#00cfff" points="212.99,123.65 206.38,121.18 212.13,118.54 218.75,121.03"/>
<polygon fill="#00d0ff" points="200.63,123.81 194.01,121.35 199.77,118.7 206.38,121.18"/>
<polygon fill="#00d1ff" points="188.26,123.98 181.65,121.52 187.4,118.86 194.01,121.35"/>
<polygon fill="#00d2ff" points="175.89,124.16 169.28,121.69 175.03,119.03 181.65,121.52"/>
<polygon fill="#00d3ff" points="163.53,124.34 156.91,121.86 162.67,119.2 169.28,121.69"/>
<polygon fill="#00d4ff" points="151.16,124.51 144.55,122.03 150.3,119.36 156.91,121.86"/>
<polygon fill="#00d5ff" points="138.79,124.68 132.18,122.18 137.93,119.51 144.55,122.03"/>
<polygon fill="#00d6ff" points="126.43,124.84 119.81,122.33 125.57,119.65 132.18,122.18"/>
<polygon fill="#00d7ff" points="114.06,125 107.45,122.48 113.2,119.79 119.81,122.33"/>
<polygon fill="#00d8ff" points="101.69,125.15 95.08,122.63 100.83,119.93 107.45,122.48"/>
<polygon fill="#00d9ff" points="89.33,125.31 82.71,122.78 88.47,120.07 95.08,122.63"/>
<polygon fill="#00dbff" points="76.96,125.48 70.35,122.96 76.1,120.23 82.71,122.78"/>
<polygon fill="#00dbff" points="64.59,125.67 57.98,123.17 63.73,120.42 70.35,122.96"/>
<polygon fill="#00dcff" points="52.23,125.9 45.61,123.43 51.37,120.65 57.98,123.17"/>
<polygon fill="#0063ff" points="392.74,130.17 386.13,127.07 391.88,124.83 398.49,127.97"/>
<polygon fill="#006cff" points="380.37,129.31 373.76,126.27 379.51,123.98 386.13,127.07"/>
<polygon fill="#0074ff" points="368.01,128.56 361.39,125.57 367.15,123.24 373.76,126.27"/>
<polygon fill="#007eff" points="355.64,127.9 349.03,124.97 354.78,122.6 361.39,125.57"/>
<polygon fill="#0087ff" points="343.27,127.34 336.66,124.47 342.41,122.06 349.03,124.97"/>
<polygon fill="#008fff" points="330.91,126.88 324.29,124.07 330.05,121.63 336.66,124.47"/>
<polygon fill="#0096ff" points="318.54,126.51 311.93,123.76 317.68,121.28 324.29,124.07"/>
<polygon fill="#009dff" points="306.17,126.23 299.56,123.53 305.31,121.03 311.93,123.76"/>
<polygon fill="#00a3ff" points="293.81,126.03 287.19,123.38 292.95,120.85 299.56,123.53"/>
<polygon fill="#00a8ff" points="281.44,125.9 274.83,123.3 280.58,120.75 287.19,123.38"/>
<polygon fill="#00adff" points="269.07,125.85 262.46,123.28 268.21,120.71 274.83,123.3"/>
<polygon fill="#00b1ff" points="256.71,125.85 250.09,123.32 255.85,120.73 262.46,123.28"/>
<polygon fill="#00b6ff" points="244.34,125.9 237.73,123.4 243.48,120.79 250.09,123.32"/>
<polygon fill="#00b9ff" points="231.97,125.99 225.36,123.51 231.11,120.9 237.73,123.4"/>
<polygon fill="#00bdff" points="219.61,126.11 212.99,123.65 218.75,121.03 225.36,123.51"/>
<polygon fill="#00c0ff" points="207.24,126.26 200.63,123.81 206.38,121.18 212.99,123.65"/>
<polygon fill="#00c1ff" points="194.87,126.43 188.26,123.98 194.01,121.35 200.63,123.81"/>
<polygon fill="#00c2ff" points="182.51,126.61 175.89,124.16 181.65,121.52 188.26,123.98"/>
<polygon fill="#00c3ff" points="170.14,126.79 163.53,124.34 169.28,121.69 175.89,124.16"/>
<polygon fill="#00c4ff" points="157.77,126.97 151.16,124.51 156.91,121.86 163.53,124.34"/>
<polygon fill="#00c5ff" points="145.41,127.15 138.79,124.68 144.55,122.03 151.16,124.51"/>
<polygon fill="#00c6ff" points="133.04,127.32 126.43,124.84 132.18,122.18 138.79,124.68"/>
<polygon fill="#00c8ff" points="120.67,127.48 114.06,125 119.81,122.33 126.43,124.84"/>
<polygon fill="#00c9ff" points="108.31,127.64 101.69,125.15 107.45,122.48 114.06,125"/>
<polygon fill="#00caff" points="95.94,127.8 89.33,125.31 95.08,122.63 101.69,125.15"/>
<polygon fill="#00cbff" points="83.57,127.97 76.96,125.48 82.71,122.78 89.33,125.31"/>
<polygon fill="#00ccff" points="71.21,128.15 64.59,125.67 70.35,122.96 76.96,125.48"/>
<polygon fill="#00cdff" points="58.84,128.36 52.23,125.9 57.98,123.17 64.59,125.67"/>
<polygon fill="#0059ff" points="386.99,132.36 380.37,129.31 386.13,127.07 392.74,130.17"/>
<polygon fill="#0061ff" points="374.62,131.55 368.01,128.56 373.76,126.27 380.37,129.31"/>
<polygon fill="#0068ff" points="362.25,130.84 355.64,127.9 361.39,125.57 368.01,128.56"/>
<polygon fill="#006fff" points="349.89,130.22 343.27,127.34 349.03,124.97 355.64,127.9"/>
<polygon fill="#0078ff" points="337.52,129.7 330.91,126.88 336.66,124.47 343.27,127.34"/>
<polygon fill="#0080ff" points="325.15,129.28 318.54,126.51 324.29,124.07 330.91,126.88"/>
<polygon fill="#0087ff" points="312.79,128.94 306.17,126.23 311.93,123.76 318.54,126.51"/>
<polygon fill="#008eff" points="300.42,128.69 293.81,126.03 299.56,123.53 306.17,126.23"/>
<polygon fill="#0094ff" points="288.05,128.52 281.44,125.9 287.19,123.38 293.81,126.03"/>
<polygon fill="#0099ff" points="275.69,128.42 269.07,125.85 274.83,123.3 281.44,125.9"/>
<polygon fill="#009eff" points="263.32,128.38 256.71,125.85 262.46,123.28 269.07,125.85"/>
<polygon fill="#00a3ff" points="250.95,128.4 244.34,125.9 250.09,123.32 256.71,125.85"/>
<polygon fill="#00a7ff" points="238.59,128.47 231.97,125.99 237.73,123.4 244.34,125.9"/>
<polygon fill="#00abff" points="226.22,128.57 219.61,126.11 225.36,123.51 231.97,125.99"/>
<polygon fill="#00afff" points="213.85,128.71 207.24,126.26 212.99,123.65 219.61,126.11"/>
<polygon fill="#00b1ff" points="201.49,128.87 194.87,126.43 200.63,123.81 207.24,126.26"/>
<polygon fill="#00b2ff" points="189.12,129.04 182.51,126.61 188.26,123.98 194.87,126.43"/>
<polygon fill="#00b3ff" points="176.75,129.22 170.14,126.79 175.89,124.16 182.51,126.61"/>
<polygon fill="#00b4ff" points="164.39,129.4 157.77,126.97 163.53,124.34 170.14,126.79"/>
<polygon fill="#00b6ff" points="152.02,129.59 145.41,127.15 151.16,124.51 157.77,126.97"/>
<polygon fill="#00b7ff" points="139.65,129.77 133.04,127.32 138.79,124.68 145.41,127.15"/>
<polygon fill="#00b8ff" points="127.29,129.94 120.67,127.48 126.43,124.84 133.04,127.32"/>
<polygon fill="#00b9ff" points="114.92,130.11 108.31,127.64 114.06,125 120.67,127.48"/>
<polygon fill="#00bbff" points="102.55,130.27 95.94,127.8 101.69,125.15 108.31,127.64"/>
<polygon fill="#00bcff" points="90.19,130.44 83.57,127.97 89.33,125.31 95.94,127.8"/>
<polygon fill="#00bdff" points="77.82,130.61 71.21,128.15 76.96,125.48 83.57,127.97"/>
<polygon fill="#00bfff" points="65.45,130.81 58.84,128.36 64.59,125.67 71.21,128.15"/>
<polygon fill="#004eff" points="381.23,134.55 374.62,131.55 380.37,129.31 386.99,132.36"/>
<polygon fill="#0056ff" points="368.87,133.79 362.25,130.84 368.01,128.56 374.62,131.55"/>
<polygon fill="#005eff" points="356.5,133.12 349.89,130.22 355.64,127.9 362.25,130.84"/>
<polygon fill="#0065ff" points="344.13,132.55 337.52,129.7 343.27,127.34 349.89,130.22"/>
<polygon fill="#006bff" points="331.77,132.07 325.15,129.28 330.91,126.88 337.52,129.7"/>
<polygon fill="#0071ff" points="319.4,131.68 312.79,128.94 318.54,126.51 325.15,129.28"/>
<polygon fill="#0078ff" points="307.03,131.37 300.42,128.69 306.17,126.23 312.79,128.94"/>
<polygon fill="#007fff" points="294.67,131.15 288.05,128.52 293.81,126.03 300.42,128.69"/>
<polygon fill="#0085ff" points="282.3,131.01 275.69,128.42 281.44,125.9 288.05,128.52"/>
<polygon fill="#008aff" points="269.93,130.93 263.32,128.38 269.07,125.85 275.69,128.42"/>
<polygon fill="#008fff" points="257.57,130.91 250.95,128.4 256.71,125.85 263.32,128.38"/>
<polygon fill="#0094ff" points="245.2,130.95 238.59,128.47 244.34,125.9 250.95,128.4"/>
<polygon fill="#0099ff" points="232.83,131.03 226.22,128.57 231.97,125.99 238.59,128.47"/>
<polygon fill="#009dff" points="220.47,131.15 213.85,128.71 219.61,126.11 226.22,128.57"/>
<polygon fill="#00a1ff" points="208.1,131.29 201.49,128.87 207.24,126.26 213.85,128.71"/>
<polygon fill="#00a2ff" points="195.73,131.46 189.12,129.04 194.87,126.43 201.49,128.87"/>
<polygon fill="#00a3ff" points="183.37,131.63 176.75,129.22 182.51,126.61 189.12,129.04"/>
<polygon fill="#00a5ff" points="171,131.82 164.39,129.4 170.14,126.79 176.75,129.22"/>
<polygon fill="#00a6ff" points="158.63,132.01 152.02,129.59 157.77,126.97 164.39,129.4"/>
<polygon fill="#00a7ff" points="146.27,132.19 139.65,129.77 145.41,127.15 152.02,129.59"/>
<polygon fill="#00a9ff" points="133.9,132.37 127.29,129.94 133.04,127.32 139.65,129.77"/>
<polygon fill="#00aaff" points="121.53,132.55 114.92,130.11 120.67,127.48 127.29,129.94"/>
<polygon fill="#00acff" points="109.17,132.72 102.55,130.27 108.31,127.64 114.92,130.11"/>
<polygon fill="#00adff" points="96.8,132.88 90.19,130.44 95.94,127.8 102.55,130.27"/>
<polygon fill="#00aeff" points="84.43,133.06 77.82,130.61 83.57,127.97 90.19,130.44"/>
<polygon fill="#00b0ff" points="72.07,133.24 65.45,130.81 71.21,128.15 77.82,130.61"/>
<polygon fill="#0046ff" points="375.48,136.75 368.87,133.79 374.62,131.55 381.23,134.55"/>
<polygon fill="#004cff" points="363.11,136.03 356.5,133.12 362.25,130.84 368.87,133.79"/>
<polygon fill="#0053ff" points="350.75,135.4 344.13,132.55 349.89,130.22 356.5,133.12"/>
<polygon fill="#005aff" points="338.38,134.87 331.77,132.07 337.52,129.7 344.13,132.55"/>
<polygon fill="#0060ff" points="326.01,134.43 319.4,131.68 325.15,129.28 331.77,132.07"/>
<polygon fill="#0066ff" points="313.65,134.07 307.03,131.37 312.79,128.94 319.4,131.68"/>
<polygon fill="#006bff" points="301.28,133.8 294.67,131.15 300.42,128.69 307.03,131.37"/>
<polygon fill="#0070ff" points="288.91,133.61 282.3,131.01 288.05,128.52 294.67,131.15"/>
<polygon fill="#0076ff" points="276.55,133.49 269.93,130.93 275.69,128.42 282.3,131.01"/>
<polygon fill="#007cff" points="264.18,133.43 257.57,130.91 263.32,128.38 269.93,130.93"/>
<polygon fill="#0081ff" points="251.81,133.44 245.2,130.95 250.95,128.4 257.57,130.91"/>
<polygon fill="#0086ff" points="239.45,133.49 232.83,131.03 238.59,128.47 245.2,130.95"/>
<polygon fill="#008bff" points="227.08,133.58 220.47,131.15 226.22,128.57 232.83,131.03"/>
<polygon fill="#0090ff" points="214.71,133.71 208.1,131.29 213.85,128.71 220.47,131.15"/>
<polygon fill="#0092ff" points="202.35,133.86 195.73,131.46 201.49,128.87 208.1,131.29"/>
<polygon fill="#0094ff" points="189.98,134.04 183.37,131.63 189.12,129.04 195.73,131.46"/>
<polygon fill="#0095ff" points="177.61,134.22 171,131.82 176.75,129.22 183.37,131.63"/>
<polygon fill="#0096ff" points="165.25,134.41 158.63,132.01 164.39,129.4 171,131.82"/>
<polygon fill="#0098ff" points="152.88,134.6 146.27,132.19 152.02,129.59 158.63,132.01"/>
<polygon fill="#0099ff" points="140.51,134.78 133.9,132.37 139.65,129.77 146.27,132.19"/>
<polygon fill="#009bff" points="128.15,134.96 121.53,132.55 127.29,129.94 133.9,132.37"/>
<polygon fill="#009cff" points="115.78,135.14 109.17,132.72 114.92,130.11 121.53,132.55"/>
<polygon fill="#009eff" points="103.41,135.31 96.8,132.88 102.55,130.27 109.17,132.72"/>
<polygon fill="#009fff" points="91.05,135.48 84.43,133.06 90.19,130.44 96.8,132.88"/>
<polygon fill="#00a1ff" points="78.68,135.66 72.07,133.24 77.82,130.61 84.43,133.06"/>
<polygon fill="#0040ff" points="369.73,138.94 363.11,136.03 368.87,133.79 375.48,136.75"/>
<polygon fill="#0045ff" points="357.36,138.27 350.75,135.4 356.5,133.12 363.11,136.03"/>
<polygon fill="#004aff" points="344.99,137.68 338.38,134.87 344.13,132.55 350.75,135.4"/>
<polygon fill="#0050ff" points="332.63,137.19 326.01,134.43 331.77,132.07 338.38,134.87"/>
<polygon fill="#0056ff" points="320.26,136.78 313.65,134.07 319.4,131.68 326.01,134.43"/>
<polygon fill="#005cff" points="307.89,136.46 301.28,133.8 307.03,131.37 313.65,134.07"/>
<polygon fill="#0061ff" points="295.53,136.22 288.91,133.61 294.67,131.15 301.28,133.8"/>
<polygon fill="#0066ff" points="283.16,136.06 276.55,133.49 282.3,131.01 288.91,133.61"/>
<polygon fill="#006aff" points="270.79,135.96 264.18,133.43 269.93,130.93 276.55,133.49"/>
<polygon fill="#006fff" points="258.43,135.93 251.81,133.44 257.57,130.91 264.18,133.43"/>
<polygon fill="#0073ff" points="246.06,135.95 239.45,133.49 245.2,130.95 251.81,133.44"/>
<polygon fill="#0079ff" points="233.69,136.02 227.08,133.58 232.83,131.03 239.45,133.49"/>
<polygon fill="#007eff" points="221.33,136.13 214.71,133.71 220.47,131.15 227.08,133.58"/>
<polygon fill="#0082ff" points="208.96,136.27 202.35,133.86 208.1,131.29 214.71,133.71"/>
<polygon fill="#0084ff" points="196.59,136.43 189.98,134.04 195.73,131.46 202.35,133.86"/>
<polygon fill="#0085ff" points="184.23,136.6 177.61,134.22 183.37,131.63 189.98,134.04"/>
<polygon fill="#0087ff" points="171.86,136.79 165.25,134.41 171,131.82 177.61,134.22"/>
<polygon fill="#0088ff" points="159.49,136.98 152.88,134.6 158.63,132.01 165.25,134.41"/>
<polygon fill="#008aff" points="147.13,137.17 140.51,134.78 146.27,132.19 152.88,134.6"/>
<polygon fill="#008bff" points="134.76,137.36 128.15,134.96 133.9,132.37 140.51,134.78"/>
<polygon fill="#008dff" points="122.39,137.54 115.78,135.14 121.53,132.55 128.15,134.96"/>
<polygon fill="#008eff" points="110.03,137.71 103.41,135.31 109.17,132.72 115.78,135.14"/>
<polygon fill="#0090ff" points="97.66,137.89 91.05,135.48 96.8,132.88 103.41,135.31"/>
<polygon fill="#0092ff" points="85.29,138.06 78.68,135.66 84.43,133.06 91.05,135.48"/>
<polygon fill="#003bff" points="363.97,141.13 357.36,138.27 363.11,136.03 369.73,138.94"/>
<polygon fill="#0040ff" points="351.61,140.5 344.99,137.68 350.75,135.4 357.36,138.27"/>
<polygon fill="#0044ff" points="339.24,139.96 332.63,137.19 338.38,134.87 344.99,137.68"/>
<polygon fill="#0049ff" points="326.87,139.51 320.26,136.78 326.01,134.43 332.63,137.19"/>
<polygon fill="#004dff" points="314.51,139.14 307.89,136.46 313.65,134.07 320.26,136.78"/>
<polygon fill="#0053ff" points="302.14,138.85 295.53,136.22 301.28,133.8 307.89,136.46"/>
<polygon fill="#0058ff" points="289.77,138.64 283.16,136.06 288.91,133.61 295.53,136.22"/>
<polygon fill="#005cff" points="277.41,138.5 270.79,135.96 276.55,133.49 283.16,136.06"/>
<polygon fill="#0061ff" points="265.04,138.43 258.43,135.93 264.18,133.43 270.79,135.96"/>
<polygon fill="#0065ff" points="252.67,138.42 246.06,135.95 251.81,133.44 258.43,135.93"/>
<polygon fill="#0069ff" points="240.31,138.46 233.69,136.02 239.45,133.49 246.06,135.95"/>
<polygon fill="#006dff" points="227.94,138.54 221.33,136.13 227.08,133.58 233.69,136.02"/>
<polygon fill="#0071ff" points="215.57,138.66 208.96,136.27 214.71,133.71 221.33,136.13"/>
<polygon fill="#0074ff" points="203.21,138.81 196.59,136.43 202.35,133.86 208.96,136.27"/>
<polygon fill="#0075ff" points="190.84,138.98 184.23,136.6 189.98,134.04 196.59,136.43"/>
<polygon fill="#0077ff" points="178.47,139.16 171.86,136.79 177.61,134.22 184.23,136.6"/>
<polygon fill="#0078ff" points="166.11,139.35 159.49,136.98 165.25,134.41 171.86,136.79"/>
<polygon fill="#007aff" points="153.74,139.54 147.13,137.17 152.88,134.6 159.49,136.98"/>
<polygon fill="#007bff" points="141.37,139.73 134.76,137.36 140.51,134.78 147.13,137.17"/>
<polygon fill="#007dff" points="129.01,139.92 122.39,137.54 128.15,134.96 134.76,137.36"/>
<polygon fill="#007eff" points="116.64,140.1 110.03,137.71 115.78,135.14 122.39,137.54"/>
<polygon fill="#0080ff" points="104.27,140.27 97.66,137.89 103.41,135.31 110.03,137.71"/>
<polygon fill="#0082ff" points="91.91,140.45 85.29,138.06 91.05,135.48 97.66,137.89"/>
<polygon fill="#0035ff" points="358.22,143.33 351.61,140.5 357.36,138.27 363.97,141.13"/>
<polygon fill="#003aff" points="345.85,142.74 339.24,139.96 344.99,137.68 351.61,140.5"/>
<polygon fill="#003fff" points="333.49,142.24 326.87,139.51 332.63,137.19 339.24,139.96"/>
<polygon fill="#0043ff" points="321.12,141.82 314.51,139.14 320.26,136.78 326.87,139.51"/>
<polygon fill="#0047ff" points="308.75,141.49 302.14,138.85 307.89,136.46 314.51,139.14"/>
<polygon fill="#004bff" points="296.39,141.23 289.77,138.64 295.53,136.22 302.14,138.85"/>
<polygon fill="#004fff" points="284.02,141.05 277.41,138.5 283.16,136.06 289.77,138.64"/>
<polygon fill="#0054ff" points="271.65,140.94 265.04,138.43 270.79,135.96 277.41,138.5"/>
<polygon fill="#0058ff" points="259.29,140.89 252.67,138.42 258.43,135.93 265.04,138.43"/>
<polygon fill="#005cff" points="246.92,140.9 240.31,138.46 246.06,135.95 252.67,138.42"/>
<polygon fill="#0060ff" points="234.55,140.96 227.94,138.54 233.69,136.02 240.31,138.46"/>
<polygon fill="#0064ff" points="222.19,141.06 215.57,138.66 221.33,136.13 227.94,138.54"/>
<polygon fill="#0067ff" points="209.82,141.19 203.21,138.81 208.96,136.27 215.57,138.66"/>
<polygon fill="#0068ff" points="197.45,141.35 190.84,138.98 196.59,136.43 203.21,138.81"/>
<polygon fill="#0069ff" points="185.09,141.52 178.47,139.16 184.23,136.6 190.84,138.98"/>
<polygon fill="#006bff" points="172.72,141.71 166.11,139.35 171.86,136.79 178.47,139.16"/>
<polygon fill="#006cff" points="160.35,141.9 153.74,139.54 159.49,136.98 166.11,139.35"/>
<polygon fill="#006dff" points="147.99,142.1 141.37,139.73 147.13,137.17 153.74,139.54"/>
<polygon fill="#006eff" points="135.62,142.29 129.01,139.92 134.76,137.36 141.37,139.73"/>
<polygon fill="#006fff" points="123.25,142.47 116.64,140.1 122.39,137.54 129.01,139.92"/>
<polygon fill="#0070ff" points="110.89,142.65 104.27,140.27 110.03,137.71 116.64,140.1"/>
<polygon fill="#0071ff" points="98.52,142.82 91.91,140.45 97.66,137.89 104.27,140.27"/>
<polygon fill="#0030ff" points="352.47,145.52 345.85,142.74 351.61,140.5 358.22,143.33"/>
<polygon fill="#0035ff" points="340.1,144.97 333.49,142.24 339.24,139.96 345.85,142.74"/>
<polygon fill="#0039ff" points="327.73,144.51 321.12,141.82 326.87,139.51 333.49,142.24"/>
<polygon fill="#003dff" points="315.37,144.13 308.75,141.49 314.51,139.14 321.12,141.82"/>
<polygon fill="#0041ff" points="303,143.83 296.39,141.23 302.14,138.85 308.75,141.49"/>
<polygon fill="#0045ff" points="290.63,143.61 284.02,141.05 289.77,138.64 296.39,141.23"/>
<polygon fill="#0048ff" points="278.27,143.46 271.65,140.94 277.41,138.5 284.02,141.05"/>
<polygon fill="#004bff" points="265.9,143.38 259.29,140.89 265.04,138.43 271.65,140.94"/>
<polygon fill="#004fff" points="253.53,143.35 246.92,140.9 252.67,138.42 259.29,140.89"/>
<polygon fill="#0053ff" points="241.17,143.38 234.55,140.96 240.31,138.46 246.92,140.9"/>
<polygon fill="#0057ff" points="228.8,143.45 222.19,141.06 227.94,138.54 234.55,140.96"/>
<polygon fill="#005bff" points="216.43,143.57 209.82,141.19 215.57,138.66 222.19,141.06"/>
<polygon fill="#005dff" points="204.07,143.71 197.45,141.35 203.21,138.81 209.82,141.19"/>
<polygon fill="#005eff" points="191.7,143.88 185.09,141.52 190.84,138.98 197.45,141.35"/>
<polygon fill="#005fff" points="179.33,144.06 172.72,141.71 178.47,139.16 185.09,141.52"/>
<polygon fill="#0060ff" points="166.97,144.25 160.35,141.9 166.11,139.35 172.72,141.71"/>
<polygon fill="#0061ff" points="154.6,144.44 147.99,142.1 153.74,139.54 160.35,141.9"/>
<polygon fill="#0062ff" points="142.23,144.63 135.62,142.29 141.37,139.73 147.99,142.1"/>
<polygon fill="#0063ff" points="129.87,144.82 123.25,142.47 129.01,139.92 135.62,142.29"/>
<polygon fill="#0065ff" points="117.5,145 110.89,142.65 116.64,140.1 123.25,142.47"/>
<polygon fill="#0066ff" points="105.13,145.18 98.52,142.82 104.27,140.27 110.89,142.65"/>
<polygon fill="#002bff" points="346.71,147.71 340.1,144.97 345.85,142.74 352.47,145.52"/>
<polygon fill="#002fff" points="334.35,147.21 327.73,144.51 333.49,142.24 340.1,144.97"/>
<polygon fill="#0033ff" points="321.98,146.79 315.37,144.13 321.12,141.82 327.73,144.51"/>
<polygon fill="#0037ff" points="309.61,146.44 303,143.83 308.75,141.49 315.37,144.13"/>
<polygon fill="#003bff" points="297.25,146.18 290.63,143.61 296.39,141.23 303,143.83"/>
<polygon fill="#003fff" points="284.88,145.99 278.27,143.46 284.02,141.05 290.63,143.61"/>
<polygon fill="#0042ff" points="272.51,145.86 265.9,143.38 271.65,140.94 278.27,143.46"/>
<polygon fill="#0045ff" points="260.15,145.8 253.53,143.35 259.29,140.89 265.9,143.38"/>
<polygon fill="#0048ff" points="247.78,145.8 241.17,143.38 246.92,140.9 253.53,143.35"/>
<polygon fill="#004bff" points="235.41,145.85 228.8,143.45 234.55,140.96 241.17,143.38"/>
<polygon fill="#004eff" points="223.05,145.94 216.43,143.57 222.19,141.06 228.8,143.45"/>
<polygon fill="#0052ff" points="210.68,146.07 204.07,143.71 209.82,141.19 216.43,143.57"/>
<polygon fill="#0053ff" points="198.31,146.22 191.7,143.88 197.45,141.35 204.07,143.71"/>
<polygon fill="#0054ff" points="185.95,146.39 179.33,144.06 185.09,141.52 191.7,143.88"/>
<polygon fill="#0055ff" points="173.58,146.58 166.97,144.25 172.72,141.71 179.33,144.06"/>
<polygon fill="#0056ff" points="161.21,146.77 154.6,144.44 160.35,141.9 166.97,144.25"/>
<polygon fill="#0057ff" points="148.85,146.97 142.23,144.63 147.99,142.1 154.6,144.44"/>
<polygon fill="#0058ff" points="136.48,147.16 129.87,144.82 135.62,142.29 142.23,144.63"/>
<polygon fill="#0059ff" points="124.11,147.35 117.5,145 123.25,142.47 129.87,144.82"/>
<polygon fill="#005aff" points="111.75,147.53 105.13,145.18 110.89,142.65 117.5,145"/>
<polygon fill="#0025ff" points="340.96,149.91 334.35,147.21 340.1,144.97 346.71,147.71"/>
<polygon fill="#0029ff" points="328.59,149.44 321.98,146.79 327.73,144.51 334.35,147.21"/>
<polygon fill="#002eff" points="316.23,149.06 309.61,146.44 315.37,144.13 321.98,146.79"/>
<polygon fill="#0032ff" points="303.86,148.75 297.25,146.18 303,143.83 309.61,146.44"/>
<polygon fill="#0035ff" points="291.49,148.52 284.88,145.99 290.63,143.61 297.25,146.18"/>
<polygon fill="#0039ff" points="279.13,148.36 272.51,145.86 278.27,143.46 284.88,145.99"/>
<polygon fill="#003cff" points="266.76,148.26 260.15,145.8 265.9,143.38 272.51,145.86"/>
<polygon fill="#003fff" points="254.39,148.23 247.78,145.8 253.53,143.35 260.15,145.8"/>
<polygon fill="#0042ff" points="242.03,148.25 235.41,145.85 241.17,143.38 247.78,145.8"/>
<polygon fill="#0045ff" points="229.66,148.31 223.05,145.94 228.8,143.45 235.41,145.85"/>
<polygon fill="#0047ff" points="217.29,148.42 210.68,146.07 216.43,143.57 223.05,145.94"/>
<polygon fill="#0049ff" points="204.93,148.56 198.31,146.22 204.07,143.71 210.68,146.07"/>
<polygon fill="#004aff" points="192.56,148.72 185.95,146.39 191.7,143.88 198.31,146.22"/>
<polygon fill="#004bff" points="180.19,148.9 173.58,146.58 179.33,144.06 185.95,146.39"/>
<polygon fill="#004bff" points="167.83,149.09 161.21,146.77 166.97,144.25 173.58,146.58"/>
<polygon fill="#004cff" points="155.46,149.29 148.85,146.97 154.6,144.44 161.21,146.77"/>
<polygon fill="#004dff" points="143.09,149.48 136.48,147.16 142.23,144.63 148.85,146.97"/>
<polygon fill="#004eff" points="130.73,149.67 124.11,147.35 129.87,144.82 136.48,147.16"/>
<polygon fill="#004fff" points="118.36,149.86 111.75,147.53 117.5,145 124.11,147.35"/>
<polygon fill="#0020ff" points="335.21,152.1 328.59,149.44 334.35,147.21 340.96,149.91"/>
<polygon fill="#0024ff" points="322.84,151.68 316.23,149.06 321.98,146.79 328.59,149.44"/>
<polygon fill="#0028ff" points="310.47,151.33 303.86,148.75 309.61,146.44 316.23,149.06"/>
<polygon fill="#002cff" points="298.11,151.06 291.49,148.52 297.25,146.18 303.86,148.75"/>
<polygon fill="#002fff" points="285.74,150.86 279.13,148.36 284.88,145.99 291.49,148.52"/>
<polygon fill="#0033ff" points="273.37,150.73 266.76,148.26 272.51,145.86 279.13,148.36"/>
<polygon fill="#0036ff" points="261.01,150.66 254.39,148.23 260.15,145.8 266.76,148.26"/>
<polygon fill="#0039ff" points="248.64,150.65 242.03,148.25 247.78,145.8 254.39,148.23"/>
<polygon fill="#003cff" points="236.27,150.69 229.66,148.31 235.41,145.85 242.03,148.25"/>
<polygon fill="#003eff" points="223.91,150.77 217.29,148.42 223.05,145.94 229.66,148.31"/>
<polygon fill="#0041ff" points="211.54,150.89 204.93,148.56 210.68,146.07 217.29,148.42"/>
<polygon fill="#0042ff" points="199.17,151.04 192.56,148.72 198.31,146.22 204.93,148.56"/>
<polygon fill="#0043ff" points="186.81,151.21 180.19,148.9 185.95,146.39 192.56,148.72"/>
<polygon fill="#0044ff" points="174.44,151.4 167.83,149.09 173.58,146.58 180.19,148.9"/>
<polygon fill="#0044ff" points="162.07,151.59 155.46,149.29 161.21,146.77 167.83,149.09"/>
<polygon fill="#0045ff" points="149.71,151.79 143.09,149.48 148.85,146.97 155.46,149.29"/>
<polygon fill="#0046ff" points="137.34,151.99 130.73,149.67 136.48,147.16 143.09,149.48"/>
<polygon fill="#0047ff" points="124.97,152.17 118.36,149.86 124.11,147.35 130.73,149.67"/>
<polygon fill="#001bff" points="329.45,154.29 322.84,151.68 328.59,149.44 335.21,152.1"/>
<polygon fill="#001fff" points="317.09,153.91 310.47,151.33 316.23,149.06 322.84,151.68"/>
<polygon fill="#0022ff" points="304.72,153.6 298.11,151.06 303.86,148.75 310.47,151.33"/>
<polygon fill="#0026ff" points="292.35,153.36 285.74,150.86 291.49,148.52 298.11,151.06"/>
<polygon fill="#0029ff" points="279.99,153.19 273.37,150.73 279.13,148.36 285.74,150.86"/>
<polygon fill="#002dff" points="267.62,153.09 261.01,150.66 266.76,148.26 273.37,150.73"/>
<polygon fill="#0030ff" points="255.25,153.05 248.64,150.65 254.39,148.23 261.01,150.66"/>
<polygon fill="#0033ff" points="242.89,153.06 236.27,150.69 242.03,148.25 248.64,150.65"/>
<polygon fill="#0036ff" points="230.52,153.12 223.91,150.77 229.66,148.31 236.27,150.69"/>
<polygon fill="#0038ff" points="218.15,153.22 211.54,150.89 217.29,148.42 223.91,150.77"/>
<polygon fill="#003aff" points="205.79,153.36 199.17,151.04 204.93,148.56 211.54,150.89"/>
<polygon fill="#003bff" points="193.42,153.52 186.81,151.21 192.56,148.72 199.17,151.04"/>
<polygon fill="#003cff" points="181.05,153.7 174.44,151.4 180.19,148.9 186.81,151.21"/>
<polygon fill="#003cff" points="168.69,153.89 162.07,151.59 167.83,149.09 174.44,151.4"/>
<polygon fill="#003dff" points="156.32,154.09 149.71,151.79 155.46,149.29 162.07,151.59"/>
<polygon fill="#003eff" points="143.95,154.28 137.34,151.99 143.09,149.48 149.71,151.79"/>
<polygon fill="#003fff" points="131.59,154.48 124.97,152.17 130.73,149.67 137.34,151.99"/>
<polygon fill="#0016ff" points="323.7,156.49 317.09,153.91 322.84,151.68 329.45,154.29"/>
<polygon fill="#0019ff" points="311.33,156.14 304.72,153.6 310.47,151.33 317.09,153.91"/>
<polygon fill="#001dff" points="298.97,155.87 292.35,153.36 298.11,151.06 304.72,153.6"/>
<polygon fill="#0020ff" points="286.6,155.66 279.99,153.19 285.74,150.86 292.35,153.36"/>
<polygon fill="#0024ff" points="274.23,155.53 267.62,153.09 273.37,150.73 279.99,153.19"/>
<polygon fill="#0027ff" points="261.87,155.45 255.25,153.05 261.01,150.66 267.62,153.09"/>
<polygon fill="#002aff" points="249.5,155.44 242.89,153.06 248.64,150.65 255.25,153.05"/>
<polygon fill="#002dff" points="237.13,155.47 230.52,153.12 236.27,150.69 242.89,153.06"/>
<polygon fill="#002fff" points="224.77,155.55 218.15,153.22 223.91,150.77 230.52,153.12"/>
<polygon fill="#0032ff" points="212.4,155.67 205.79,153.36 211.54,150.89 218.15,153.22"/>
<polygon fill="#0033ff" points="200.03,155.82 193.42,153.52 199.17,151.04 205.79,153.36"/>
<polygon fill="#0034ff" points="187.67,155.99 181.05,153.7 186.81,151.21 193.42,153.52"/>
<polygon fill="#0035ff" points="175.3,156.17 168.69,153.89 174.44,151.4 181.05,153.7"/>
<polygon fill="#0035ff" points="162.93,156.37 156.32,154.09 162.07,151.59 168.69,153.89"/>
<polygon fill="#0036ff" points="150.57,156.57 143.95,154.28 149.71,151.79 156.32,154.09"/>
<polygon fill="#0037ff" points="138.2,156.77 131.59,154.48 137.34,151.99 143.95,154.28"/>
<polygon fill="#0010ff" points="317.95,158.68 311.33,156.14 317.09,153.91 323.7,156.49"/>
<polygon fill="#0014ff" points="305.58,158.37 298.97,155.87 304.72,153.6 311.33,156.14"/>
<polygon fill="#0018ff" points="293.21,158.13 286.6,155.66 292.35,153.36 298.97,155.87"/>
<polygon fill="#001bff" points="280.85,157.96 274.23,155.53 279.99,153.19 286.6,155.66"/>
<polygon fill="#001eff" points="268.48,157.86 261.87,155.45 267.62,153.09 274.23,155.53"/>
<polygon fill="#0021ff" points="256.11,157.81 249.5,155.44 255.25,153.05 261.87,155.45"/>
<polygon fill="#0024ff" points="243.75,157.82 237.13,155.47 242.89,153.06 249.5,155.44"/>
<polygon fill="#0027ff" points="231.38,157.88 224.77,155.55 230.52,153.12 237.13,155.47"/>
<polygon fill="#0029ff" points="219.01,157.97 212.4,155.67 218.15,153.22 224.77,155.55"/>
<polygon fill="#002bff" points="206.65,158.11 200.03,155.82 205.79,153.36 212.4,155.67"/>
<polygon fill="#002cff" points="194.28,158.27 187.67,155.99 193.42,153.52 200.03,155.82"/>
<polygon fill="#002dff" points="181.91,158.45 175.3,156.17 181.05,153.7 187.67,155.99"/>
<polygon fill="#002eff" points="169.55,158.64 162.93,156.37 168.69,153.89 175.3,156.17"/>
<polygon fill="#002eff" points="157.18,158.84 150.57,156.57 156.32,154.09 162.93,156.37"/>
<polygon fill="#002fff" points="144.81,159.04 138.2,156.77 143.95,154.28 150.57,156.57"/>
<polygon fill="#000bff" points="312.19,160.87 305.58,158.37 311.33,156.14 317.95,158.68"/>
<polygon fill="#000fff" points="299.83,160.6 293.21,158.13 298.97,155.87 305.58,158.37"/>
<polygon fill="#0012ff" points="287.46,160.4 280.85,157.96 286.6,155.66 293.21,158.13"/>
<polygon fill="#0016ff" points="275.09,160.26 268.48,157.86 274.23,155.53 280.85,157.96"/>
<polygon fill="#0019ff" points="262.73,160.18 256.11,157.81 261.87,155.45 268.48,157.86"/>
<polygon fill="#001bff" points="250.36,160.17 243.75,157.82 249.5,155.44 256.11,157.81"/>
<polygon fill="#001eff" points="237.99,160.2 231.38,157.88 237.13,155.47 243.75,157.82"/>
<polygon fill="#0021ff" points="225.63,160.27 219.01,157.97 224.77,155.55 231.38,157.88"/>
<polygon fill="#0023ff" points="213.26,160.39 206.65,158.11 212.4,155.67 219.01,157.97"/>
<polygon fill="#0024ff" points="200.89,160.54 194.28,158.27 200.03,155.82 206.65,158.11"/>
<polygon fill="#0025ff" points="188.53,160.71 181.91,158.45 187.67,155.99 194.28,158.27"/>
<polygon fill="#0026ff" points="176.16,160.9 169.55,158.64 175.3,156.17 181.91,158.45"/>
<polygon fill="#0027ff" points="163.79,161.1 157.18,158.84 162.93,156.37 169.55,158.64"/>
<polygon fill="#0027ff" points="151.43,161.3 144.81,159.04 150.57,156.57 157.18,158.84"/>
<polygon fill="#0006ff" points="306.44,163.07 299.83,160.6 305.58,158.37 312.19,160.87"/>
<polygon fill="#000aff" points="294.07,162.83 287.46,160.4 293.21,158.13 299.83,160.6"/>
<polygon fill="#000dff" points="281.71,162.66 275.09,160.26 280.85,157.96 287.46,160.4"/>
<polygon fill="#0010ff" points="269.34,162.56 262.73,160.18 268.48,157.86 275.09,160.26"/>
<polygon fill="#0013ff" points="256.97,162.51 250.36,160.17 256.11,157.81 262.73,160.18"/>
<polygon fill="#0016ff" points="244.61,162.52 237.99,160.2 243.75,157.82 250.36,160.17"/>
<polygon fill="#0018ff" points="232.24,162.57 225.63,160.27 231.38,157.88 237.99,160.2"/>
<polygon fill="#001bff" points="219.87,162.67 213.26,160.39 219.01,157.97 225.63,160.27"/>
<polygon fill="#001dff" points="207.51,162.8 200.89,160.54 206.65,158.11 213.26,160.39"/>
<polygon fill="#001eff" points="195.14,162.96 188.53,160.71 194.28,158.27 200.89,160.54"/>
<polygon fill="#001eff" points="182.77,163.14 176.16,160.9 181.91,158.45 188.53,160.71"/>
<polygon fill="#001fff" points="170.41,163.34 163.79,161.1 169.55,158.64 176.16,160.9"/>
<polygon fill="#0020ff" points="158.04,163.55 151.43,161.3 157.18,158.84 163.79,161.1"/>
<polygon fill="#0001ff" points="300.69,165.26 294.07,162.83 299.83,160.6 306.44,163.07"/>
<polygon fill="#0004ff" points="288.32,165.06 281.71,162.66 287.46,160.4 294.07,162.83"/>
<polygon fill="#0008ff" points="275.95,164.93 269.34,162.56 275.09,160.26 281.71,162.66"/>
<polygon fill="#000bff" points="263.59,164.85 256.97,162.51 262.73,160.18 269.34,162.56"/>
<polygon fill="#000eff" points="251.22,164.83 244.61,162.52 250.36,160.17 256.97,162.51"/>
<polygon fill="#0010ff" points="238.85,164.86 232.24,162.57 237.99,160.2 244.61,162.52"/>
<polygon fill="#0013ff" points="226.49,164.94 219.87,162.67 225.63,160.27 232.24,162.57"/>
<polygon fill="#0015ff" points="214.12,165.06 207.51,162.8 213.26,160.39 219.87,162.67"/>
<polygon fill="#0016ff" points="201.75,165.21 195.14,162.96 200.89,160.54 207.51,162.8"/>
<polygon fill="#0017ff" points="189.39,165.38 182.77,163.14 188.53,160.71 195.14,162.96"/>
<polygon fill="#0018ff" points="177.02,165.57 170.41,163.34 176.16,160.9 182.77,163.14"/>
<polygon fill="#0019ff" points="164.65,165.78 158.04,163.55 163.79,161.1 170.41,163.34"/>
<polygon fill="#0000fb" points="294.93,167.45 288.32,165.06 294.07,162.83 300.69,165.26"/>
<polygon fill="#0000fe" points="282.57,167.29 275.95,164.93 281.71,162.66 288.32,165.06"/>
<polygon fill="#0002ff" points="270.2,167.19 263.59,164.85 269.34,162.56 275.95,164.93"/>
<polygon fill="#0005ff" points="257.83,167.14 251.22,164.83 256.97,162.51 263.59,164.85"/>
<polygon fill="#0008ff" points="245.47,167.15 238.85,164.86 244.61,162.52 251.22,164.83"/>
<polygon fill="#000bff" points="233.1,167.21 226.49,164.94 232.24,162.57 238.85,164.86"/>
<polygon fill="#000dff" points="220.73,167.3 214.12,165.06 219.87,162.67 226.49,164.94"/>
<polygon fill="#000fff" points="208.37,167.44 201.75,165.21 207.51,162.8 214.12,165.06"/>
<polygon fill="#0010ff" points="196,167.6 189.39,165.38 195.14,162.96 201.75,165.21"/>
<polygon fill="#0011ff" points="183.63,167.79 177.02,165.57 182.77,163.14 189.39,165.38"/>
<polygon fill="#0011ff" points="171.27,167.99 164.65,165.78 170.41,163.34 177.02,165.57"/>
<polygon fill="#0000f7" points="289.18,169.64 282.57,167.29 288.32,165.06 294.93,167.45"/>
<polygon fill="#0000fa" points="276.81,169.52 270.2,167.19 275.95,164.93 282.57,167.29"/>
<polygon fill="#0000fc" points="264.45,169.45 257.83,167.14 263.59,164.85 270.2,167.19"/>
<polygon fill="#0000ff" points="252.08,169.43 245.47,167.15 251.22,164.83 257.83,167.14"/>
<polygon fill="#0003ff" points="239.71,169.46 233.1,167.21 238.85,164.86 245.47,167.15"/>
<polygon fill="#0005ff" points="227.35,169.55 220.73,167.3 226.49,164.94 233.1,167.21"/>
<polygon fill="#0008ff" points="214.98,169.67 208.37,167.44 214.12,165.06 220.73,167.3"/>
<polygon fill="#0009ff" points="202.61,169.82 196,167.6 201.75,165.21 208.37,167.44"/>
<polygon fill="#000aff" points="190.25,170 183.63,167.79 189.39,165.38 196,167.6"/>
<polygon fill="#000aff" points="177.88,170.2 171.27,167.99 177.02,165.57 183.63,167.79"/>
<polygon fill="#0000f3" points="283.43,171.84 276.81,169.52 282.57,167.29 289.18,169.64"/>
<polygon fill="#0000f5" points="271.06,171.74 264.45,169.45 270.2,167.19 276.81,169.52"/>
<polygon fill="#0000f8" points="258.69,171.7 252.08,169.43 257.83,167.14 264.45,169.45"/>
<polygon fill="#0000fa" points="246.33,171.72 239.71,169.46 245.47,167.15 252.08,169.43"/>
<polygon fill="#0000fc" points="233.96,171.78 227.35,169.55 233.1,167.21 239.71,169.46"/>
<polygon fill="#0000ff" points="221.59,171.88 214.98,169.67 220.73,167.3 227.35,169.55"/>
<polygon fill="#0002ff" points="209.23,172.02 202.61,169.82 208.37,167.44 214.98,169.67"/>
<polygon fill="#0002ff" points="196.86,172.19 190.25,170 196,167.6 202.61,169.82"/>
<polygon fill="#0003ff" points="184.49,172.39 177.88,170.2 183.63,167.79 190.25,170"/>
<polygon fill="#0000ef" points="277.67,174.03 271.06,171.74 276.81,169.52 283.43,171.84"/>
<polygon fill="#0000f1" points="265.31,173.97 258.69,171.7 264.45,169.45 271.06,171.74"/>
<polygon fill="#0000f4" points="252.94,173.96 246.33,171.72 252.08,169.43 258.69,171.7"/>
<polygon fill="#0000f6" points="240.57,174 233.96,171.78 239.71,169.46 246.33,171.72"/>
<polygon fill="#0000f8" points="228.21,174.09 221.59,171.88 227.35,169.55 233.96,171.78"/>
<polygon fill="#0000fa" points="215.84,174.21 209.23,172.02 214.98,169.67 221.59,171.88"/>
<polygon fill="#0000fb" points="203.47,174.37 196.86,172.19 202.61,169.82 209.23,172.02"/>
<polygon fill="#0000fc" points="191.11,174.56 184.49,172.39 190.25,170 196.86,172.19"/>
<polygon fill="#0000eb" points="271.92,176.22 265.31,173.97 271.06,171.74 277.67,174.03"/>
<polygon fill="#0000ed" points="259.55,176.19 252.94,173.96 258.69,171.7 265.31,173.97"/>
<polygon fill="#0000ef" points="247.19,176.21 240.57,174 246.33,171.72 252.94,173.96"/>
<polygon fill="#0000f1" points="234.82,176.28 228.21,174.09 233.96,171.78 240.57,174"/>
<polygon fill="#0000f3" points="222.45,176.39 215.84,174.21 221.59,171.88 228.21,174.09"/>
<polygon fill="#0000f5" points="210.09,176.54 203.47,174.37 209.23,172.02 215.84,174.21"/>
<polygon fill="#0000f6" points="197.72,176.72 191.11,174.56 196.86,172.19 203.47,174.37"/>
<polygon fill="#0000e6" points="266.17,178.42 259.55,176.19 265.31,173.97 271.92,176.22"/>
<polygon fill="#0000e9" points="253.8,178.42 247.19,176.21 252.94,173.96 259.55,176.19"/>
<polygon fill="#0000eb" points="241.43,178.47 234.82,176.28 240.57,174 247.19,176.21"/>
<polygon fill="#0000ed" points="229.07,178.56 222.45,176.39 228.21,174.09 234.82,176.28"/>
<polygon fill="#0000ef" points="216.7,178.7 210.09,176.54 215.84,174.21 222.45,176.39"/>
<polygon fill="#0000f0" points="204.33,178.87 197.72,176.72 203.47,174.37 210.09,176.54"/>
<polygon fill="#0000e2" points="260.41,180.61 253.8,178.42 259.55,176.19 266.17,178.42"/>
<polygon fill="#0000e4" points="248.05,180.64 241.43,178.47 247.19,176.21 253.8,178.42"/>
<polygon fill="#0000e7" points="235.68,180.72 229.07,178.56 234.82,176.28 241.43,178.47"/>
<polygon fill="#0000e9" points="223.31,180.84 216.7,178.7 222.45,176.39 229.07,178.56"/>
<polygon fill="#0000ea" points="210.95,181 204.33,178.87 210.09,176.54 216.7,178.7"/>
<polygon fill="#0000de" points="254.66,182.8 248.05,180.64 253.8,178.42 260.41,180.61"/>
<polygon fill="#0000e0" points="242.29,182.87 235.68,180.72 241.43,178.47 248.05,180.64"/>
<polygon fill="#0000e2" points="229.93,182.97 223.31,180.84 229.07,178.56 235.68,180.72"/>
<polygon fill="#0000e4" points="217.56,183.12 210.95,181 216.7,178.7 223.31,180.84"/>
<polygon fill="#0000da" points="248.91,185 242.29,182.87 248.05,180.64 254.66,182.8"/>
<polygon fill="#0000dc" points="236.54,185.09 229.93,182.97 235.68,180.72 242.29,182.87"/>
<polygon fill="#0000de" points="224.17,185.22 217.56,183.12 223.31,180.84 229.93,182.97"/>
<polygon fill="#0000d6" points="243.15,187.19 236.54,185.09 242.29,182.87 248.91,185"/>
<polygon fill="#0000d8" points="230.79,187.31 224.17,185.22 229.93,182.97 236.54,185.09"/>
<polygon fill="#0000d2" points="237.4,189.38 230.79,187.31 236.54,185.09 243.15,187.19"/>
</g>
<line class="a" x1="39" y1="159" x2="39" y2="64.8"/>
<line class="a" x1="39" y1="159" x2="237.4" y2="200.5"/>
<line class="a" x1="237.4" y1="200.5" x2="410" y2="152.6"/>
<line class="a" x1="237.4" y1="200.5" x2="232.1" y2="201.97"/>
<text class="t" x="229.9" y="212.9" text-anchor="end">10</text>
<line class="a" x1="201.33" y1="192.95" x2="196.03" y2="194.43"/>
<text class="t" x="193.83" y="205.35" text-anchor="end">20</text>
<line class="a" x1="165.25" y1="185.41" x2="159.95" y2="186.88"/>
<text class="t" x="157.75" y="197.81" text-anchor="end">30</text>
<line class="a" x1="129.18" y1="177.86" x2="123.88" y2="179.33"/>
<text class="t" x="121.68" y="190.26" text-anchor="end">40</text>
<line class="a" x1="93.11" y1="170.32" x2="87.81" y2="171.79"/>
<text class="t" x="85.61" y="182.72" text-anchor="end">50</text>
<line class="a" x1="57.04" y1="162.77" x2="51.74" y2="164.24"/>
<text class="t" x="49.54" y="175.17" text-anchor="end">60</text>
<line class="a" x1="237.4" y1="200.5" x2="242.78" y2="201.63"/>
<text class="t" x="245.2" y="212.9">1</text>
<line class="a" x1="410" y1="152.6" x2="415.38" y2="153.73"/>
<text class="t" x="417.8" y="165">2.5</text>
<line class="a" x1="39" y1="140.16" x2="33.62" y2="139.03"/>
<text class="t" x="31.2" y="142.76" text-anchor="end">0.8</text>
<line class="a" x1="39" y1="102.48" x2="33.62" y2="101.35"/>
<text class="t" x="31.2" y="105.08" text-anchor="end">1</text>
<line class="a" x1="39" y1="64.8" x2="33.62" y2="63.67"/>
<text class="t" x="31.2" y="67.4" text-anchor="end">1.2</text>
<text class="l" style="font-size:10.9px" text-anchor="middle" transform="translate(14.3 113.9) rotate(-90)">TV (normalized)</text>
<text class="l" style="font-size:10.9px" text-anchor="middle" transform="translate(139.6 226.5) rotate(11.8)">Axis jerk limit [m/s<tspan dy="-5.3" dx="0.4" font-size="8.4">3</tspan><tspan dy="5.3" dx="0.2">]</tspan></text>
<text class="l" style="font-size:10.9px" text-anchor="middle" transform="translate(322.5 213.9) rotate(-15.5)">Corner jerk limit [m/s<tspan dy="-5.3" dx="0.4" font-size="8.4">3</tspan><tspan dy="5.3" dx="0.2">]</tspan></text>
<text class="l" style="font-size:10.9px" x="107.2" y="14.4" textLength="105.4" lengthAdjust="spacing">Contour tolerance: 10</text>
<text class="l" style="font-size:10.4px;font-style:italic" text-anchor="middle" x="216.4" y="14.4">μ</text>
<text class="l" style="font-size:10.9px" x="221" y="14.4" textLength="118.3" lengthAdjust="spacing">m, Limit frequency: 10Hz</text>
<text class="c" text-anchor="middle" x="218.7" y="255.6">(a)</text>
</g>
<g id="plot-b">
<line class="f" x1="241.8" y1="488.9" x2="417.2" y2="440"/>
<line class="g" x1="417.2" y1="440" x2="417.2" y2="344.8"/>
<line class="f" x1="205.2" y1="481.19" x2="380.6" y2="432.29"/>
<line class="g" x1="380.6" y1="432.29" x2="380.6" y2="337.09"/>
<line class="f" x1="168.6" y1="473.48" x2="344" y2="424.58"/>
<line class="g" x1="344" y1="424.58" x2="344" y2="329.38"/>
<line class="f" x1="132" y1="465.77" x2="307.4" y2="416.87"/>
<line class="g" x1="307.4" y1="416.87" x2="307.4" y2="321.67"/>
<line class="f" x1="95.4" y1="458.06" x2="270.8" y2="409.16"/>
<line class="g" x1="270.8" y1="409.16" x2="270.8" y2="313.96"/>
<line class="f" x1="58.8" y1="450.35" x2="234.2" y2="401.45"/>
<line class="g" x1="234.2" y1="401.45" x2="234.2" y2="306.25"/>
<line class="f" x1="241.8" y1="488.9" x2="40.5" y2="446.5"/>
<line class="g" x1="40.5" y1="446.5" x2="40.5" y2="351.3"/>
<line class="f" x1="307.57" y1="470.56" x2="106.27" y2="428.16"/>
<line class="g" x1="106.27" y1="428.16" x2="106.27" y2="332.96"/>
<line class="f" x1="417.2" y1="440" x2="215.9" y2="397.6"/>
<line class="g" x1="215.9" y1="397.6" x2="215.9" y2="302.4"/>
<line class="g" x1="40.5" y1="446.5" x2="215.9" y2="397.6"/>
<line class="g" x1="215.9" y1="397.6" x2="417.2" y2="440"/>
<line class="g" x1="40.5" y1="422.7" x2="215.9" y2="373.8"/>
<line class="g" x1="215.9" y1="373.8" x2="417.2" y2="416.2"/>
<line class="g" x1="40.5" y1="398.9" x2="215.9" y2="350"/>
<line class="g" x1="215.9" y1="350" x2="417.2" y2="392.4"/>
<line class="g" x1="40.5" y1="375.1" x2="215.9" y2="326.2"/>
<line class="g" x1="215.9" y1="326.2" x2="417.2" y2="368.6"/>
<line class="g" x1="40.5" y1="351.3" x2="215.9" y2="302.4"/>
<line class="g" x1="215.9" y1="302.4" x2="417.2" y2="344.8"/>
<g class="s">
<polygon fill="#e60000" points="216.76,321.92 210.05,319.19 215.9,315.61 222.61,318.36"/>
<polygon fill="#e60000" points="223.47,324.48 216.76,321.92 222.61,318.36 229.32,320.94"/>
<polygon fill="#e60000" points="210.92,325.49 204.21,322.78 210.05,319.19 216.76,321.92"/>
<polygon fill="#e60000" points="230.18,326.89 223.47,324.48 229.32,320.94 236.03,323.36"/>
<polygon fill="#e60000" points="217.63,328.03 210.92,325.49 216.76,321.92 223.47,324.48"/>
<polygon fill="#fa0000" points="205.07,329.07 198.36,326.39 204.21,322.78 210.92,325.49"/>
<polygon fill="#e60000" points="236.89,329.15 230.18,326.89 236.03,323.36 242.74,325.63"/>
<polygon fill="#e60000" points="224.34,330.43 217.63,328.03 223.47,324.48 230.18,326.89"/>
<polygon fill="#f50000" points="211.78,331.6 205.07,329.07 210.92,325.49 217.63,328.03"/>
<polygon fill="#ff1500" points="199.22,332.67 192.51,330.01 198.36,326.39 205.07,329.07"/>
<polygon fill="#e60000" points="243.6,331.27 236.89,329.15 242.74,325.63 249.45,327.76"/>
<polygon fill="#e60000" points="231.05,332.68 224.34,330.43 230.18,326.89 236.89,329.15"/>
<polygon fill="#f50000" points="218.49,333.98 211.78,331.6 217.63,328.03 224.34,330.43"/>
<polygon fill="#ff1000" points="205.93,335.18 199.22,332.67 205.07,329.07 211.78,331.6"/>
<polygon fill="#ff3000" points="193.38,336.28 186.67,333.65 192.51,330.01 199.22,332.67"/>
<polygon fill="#e60000" points="250.31,333.27 243.6,331.27 249.45,327.76 256.16,329.76"/>
<polygon fill="#e60000" points="237.76,334.8 231.05,332.68 236.89,329.15 243.6,331.27"/>
<polygon fill="#f70000" points="225.2,336.22 218.49,333.98 224.34,330.43 231.05,332.68"/>
<polygon fill="#ff0f00" points="212.64,337.55 205.93,335.18 211.78,331.6 218.49,333.98"/>
<polygon fill="#ff2d00" points="200.09,338.77 193.38,336.28 199.22,332.67 205.93,335.18"/>
<polygon fill="#ff4d00" points="187.53,339.91 180.82,337.3 186.67,333.65 193.38,336.28"/>
<polygon fill="#e60000" points="257.02,335.14 250.31,333.27 256.16,329.76 262.87,331.63"/>
<polygon fill="#e90000" points="244.47,336.79 237.76,334.8 243.6,331.27 250.31,333.27"/>
<polygon fill="#fb0000" points="231.91,338.34 225.2,336.22 231.05,332.68 237.76,334.8"/>
<polygon fill="#ff1100" points="219.35,339.78 212.64,337.55 218.49,333.98 225.2,336.22"/>
<polygon fill="#ff2b00" points="206.8,341.13 200.09,338.77 205.93,335.18 212.64,337.55"/>
<polygon fill="#ff4a00" points="194.24,342.38 187.53,339.91 193.38,336.28 200.09,338.77"/>
<polygon fill="#ff6900" points="181.68,343.55 174.97,340.96 180.82,337.3 187.53,339.91"/>
<polygon fill="#e60000" points="263.73,336.9 257.02,335.14 262.87,331.63 269.58,333.38"/>
<polygon fill="#ed0000" points="251.18,338.67 244.47,336.79 250.31,333.27 257.02,335.14"/>
<polygon fill="#ff0100" points="238.62,340.33 231.91,338.34 237.76,334.8 244.47,336.79"/>
<polygon fill="#ff1600" points="226.06,341.89 219.35,339.78 225.2,336.22 231.91,338.34"/>
<polygon fill="#ff2e00" points="213.51,343.36 206.8,341.13 212.64,337.55 219.35,339.78"/>
<polygon fill="#ff4a00" points="200.95,344.72 194.24,342.38 200.09,338.77 206.8,341.13"/>
<polygon fill="#ff6800" points="188.39,346 181.68,343.55 187.53,339.91 194.24,342.38"/>
<polygon fill="#ff8300" points="175.84,347.2 169.13,344.64 174.97,340.96 181.68,343.55"/>
<polygon fill="#e60000" points="270.44,338.56 263.73,336.9 269.58,333.38 276.29,335.03"/>
<polygon fill="#f00000" points="257.89,340.44 251.18,338.67 257.02,335.14 263.73,336.9"/>
<polygon fill="#ff0500" points="245.33,342.21 238.62,340.33 244.47,336.79 251.18,338.67"/>
<polygon fill="#ff1b00" points="232.77,343.88 226.06,341.89 231.91,338.34 238.62,340.33"/>
<polygon fill="#ff3200" points="220.22,345.46 213.51,343.36 219.35,339.78 226.06,341.89"/>
<polygon fill="#ff4c00" points="207.66,346.94 200.95,344.72 206.8,341.13 213.51,343.36"/>
<polygon fill="#ff6800" points="195.1,348.33 188.39,346 194.24,342.38 200.95,344.72"/>
<polygon fill="#ff8300" points="182.55,349.64 175.84,347.2 181.68,343.55 188.39,346"/>
<polygon fill="#ff9b00" points="169.99,350.87 163.28,348.33 169.13,344.64 175.84,347.2"/>
<polygon fill="#e60000" points="277.15,340.12 270.44,338.56 276.29,335.03 283,336.58"/>
<polygon fill="#f30000" points="264.6,342.1 257.89,340.44 263.73,336.9 270.44,338.56"/>
<polygon fill="#ff0900" points="252.04,343.98 245.33,342.21 251.18,338.67 257.89,340.44"/>
<polygon fill="#ff1f00" points="239.48,345.77 232.77,343.88 238.62,340.33 245.33,342.21"/>
<polygon fill="#ff3600" points="226.93,347.45 220.22,345.46 226.06,341.89 232.77,343.88"/>
<polygon fill="#ff4f00" points="214.37,349.04 207.66,346.94 213.51,343.36 220.22,345.46"/>
<polygon fill="#ff6a00" points="201.81,350.54 195.1,348.33 200.95,344.72 207.66,346.94"/>
<polygon fill="#ff8400" points="189.26,351.96 182.55,349.64 188.39,346 195.1,348.33"/>
<polygon fill="#ff9c00" points="176.7,353.29 169.99,350.87 175.84,347.2 182.55,349.64"/>
<polygon fill="#ffb100" points="164.14,354.55 157.43,352.03 163.28,348.33 169.99,350.87"/>
<polygon fill="#e60000" points="283.86,341.6 277.15,340.12 283,336.58 289.71,338.04"/>
<polygon fill="#f50000" points="271.31,343.68 264.6,342.1 270.44,338.56 277.15,340.12"/>
<polygon fill="#ff0c00" points="258.75,345.66 252.04,343.98 257.89,340.44 264.6,342.1"/>
<polygon fill="#ff2300" points="246.19,347.55 239.48,345.77 245.33,342.21 252.04,343.98"/>
<polygon fill="#ff3b00" points="233.64,349.34 226.93,347.45 232.77,343.88 239.48,345.77"/>
<polygon fill="#ff5300" points="221.08,351.04 214.37,349.04 220.22,345.46 226.93,347.45"/>
<polygon fill="#ff6d00" points="208.52,352.64 201.81,350.54 207.66,346.94 214.37,349.04"/>
<polygon fill="#ff8600" points="195.97,354.16 189.26,351.96 195.1,348.33 201.81,350.54"/>
<polygon fill="#ff9d00" points="183.41,355.6 176.7,353.29 182.55,349.64 189.26,351.96"/>
<polygon fill="#ffb200" points="170.85,356.96 164.14,354.55 169.99,350.87 176.7,353.29"/>
<polygon fill="#ffc200" points="158.3,358.25 151.59,355.75 157.43,352.03 164.14,354.55"/>
<polygon fill="#e60000" points="290.57,343 283.86,341.6 289.71,338.04 296.42,339.42"/>
<polygon fill="#f70000" points="278.02,345.17 271.31,343.68 277.15,340.12 283.86,341.6"/>
<polygon fill="#ff0e00" points="265.46,347.25 258.75,345.66 264.6,342.1 271.31,343.68"/>
<polygon fill="#ff2600" points="252.9,349.23 246.19,347.55 252.04,343.98 258.75,345.66"/>
<polygon fill="#ff3e00" points="240.35,351.13 233.64,349.34 239.48,345.77 246.19,347.55"/>
<polygon fill="#ff5800" points="227.79,352.93 221.08,351.04 226.93,347.45 233.64,349.34"/>
<polygon fill="#ff7100" points="215.23,354.63 208.52,352.64 214.37,349.04 221.08,351.04"/>
<polygon fill="#ff8a00" points="202.68,356.25 195.97,354.16 201.81,350.54 208.52,352.64"/>
<polygon fill="#ffa000" points="190.12,357.79 183.41,355.6 189.26,351.96 195.97,354.16"/>
<polygon fill="#ffb400" points="177.56,359.25 170.85,356.96 176.7,353.29 183.41,355.6"/>
<polygon fill="#ffc400" points="165.01,360.64 158.3,358.25 164.14,354.55 170.85,356.96"/>
<polygon fill="#ffd000" points="152.45,361.96 145.74,359.48 151.59,355.75 158.3,358.25"/>
<polygon fill="#e60000" points="297.28,344.33 290.57,343 296.42,339.42 303.13,340.73"/>
<polygon fill="#f70000" points="284.73,346.58 278.02,345.17 283.86,341.6 290.57,343"/>
<polygon fill="#ff0f00" points="272.17,348.75 265.46,347.25 271.31,343.68 278.02,345.17"/>
<polygon fill="#ff2700" points="259.61,350.83 252.9,349.23 258.75,345.66 265.46,347.25"/>
<polygon fill="#ff4100" points="247.06,352.82 240.35,351.13 246.19,347.55 252.9,349.23"/>
<polygon fill="#ff5b00" points="234.5,354.72 227.79,352.93 233.64,349.34 240.35,351.13"/>
<polygon fill="#ff7500" points="221.94,356.53 215.23,354.63 221.08,351.04 227.79,352.93"/>
<polygon fill="#ff8f00" points="209.39,358.25 202.68,356.25 208.52,352.64 215.23,354.63"/>
<polygon fill="#ffa500" points="196.83,359.88 190.12,357.79 195.97,354.16 202.68,356.25"/>
<polygon fill="#ffb800" points="184.27,361.43 177.56,359.25 183.41,355.6 190.12,357.79"/>
<polygon fill="#ffc700" points="171.72,362.92 165.01,360.64 170.85,356.96 177.56,359.25"/>
<polygon fill="#ffd300" points="159.16,364.33 152.45,361.96 158.3,358.25 165.01,360.64"/>
<polygon fill="#ffde00" points="146.6,365.68 139.89,363.23 145.74,359.48 152.45,361.96"/>
<polygon fill="#e60000" points="303.99,345.59 297.28,344.33 303.13,340.73 309.84,341.98"/>
<polygon fill="#f50000" points="291.44,347.93 284.73,346.58 290.57,343 297.28,344.33"/>
<polygon fill="#ff0e00" points="278.88,350.19 272.17,348.75 278.02,345.17 284.73,346.58"/>
<polygon fill="#ff2800" points="266.32,352.36 259.61,350.83 265.46,347.25 272.17,348.75"/>
<polygon fill="#ff4200" points="253.77,354.44 247.06,352.82 252.9,349.23 259.61,350.83"/>
<polygon fill="#ff5d00" points="241.21,356.43 234.5,354.72 240.35,351.13 247.06,352.82"/>
<polygon fill="#ff7800" points="228.65,358.33 221.94,356.53 227.79,352.93 234.5,354.72"/>
<polygon fill="#ff9300" points="216.1,360.14 209.39,358.25 215.23,354.63 221.94,356.53"/>
<polygon fill="#ffaa00" points="203.54,361.87 196.83,359.88 202.68,356.25 209.39,358.25"/>
<polygon fill="#ffbc00" points="190.98,363.52 184.27,361.43 190.12,357.79 196.83,359.88"/>
<polygon fill="#ffcc00" points="178.43,365.09 171.72,362.92 177.56,359.25 184.27,361.43"/>
<polygon fill="#ffd800" points="165.87,366.6 159.16,364.33 165.01,360.64 171.72,362.92"/>
<polygon fill="#ffe200" points="153.31,368.04 146.6,365.68 152.45,361.96 159.16,364.33"/>
<polygon fill="#ffed00" points="140.76,369.42 134.05,366.99 139.89,363.23 146.6,365.68"/>
<polygon fill="#e60000" points="310.7,346.81 303.99,345.59 309.84,341.98 316.55,343.18"/>
<polygon fill="#f20000" points="298.15,349.22 291.44,347.93 297.28,344.33 303.99,345.59"/>
<polygon fill="#ff0d00" points="285.59,351.55 278.88,350.19 284.73,346.58 291.44,347.93"/>
<polygon fill="#ff2700" points="273.03,353.8 266.32,352.36 272.17,348.75 278.88,350.19"/>
<polygon fill="#ff4200" points="260.48,355.97 253.77,354.44 259.61,350.83 266.32,352.36"/>
<polygon fill="#ff5d00" points="247.92,358.05 241.21,356.43 247.06,352.82 253.77,354.44"/>
<polygon fill="#ff7900" points="235.36,360.05 228.65,358.33 234.5,354.72 241.21,356.43"/>
<polygon fill="#ff9500" points="222.81,361.95 216.1,360.14 221.94,356.53 228.65,358.33"/>
<polygon fill="#ffae00" points="210.25,363.77 203.54,361.87 209.39,358.25 216.1,360.14"/>
<polygon fill="#ffc100" points="197.69,365.51 190.98,363.52 196.83,359.88 203.54,361.87"/>
<polygon fill="#ffd100" points="185.14,367.18 178.43,365.09 184.27,361.43 190.98,363.52"/>
<polygon fill="#ffdd00" points="172.58,368.77 165.87,366.6 171.72,362.92 178.43,365.09"/>
<polygon fill="#ffe800" points="160.02,370.29 153.31,368.04 159.16,364.33 165.87,366.6"/>
<polygon fill="#fff200" points="147.47,371.76 140.76,369.42 146.6,365.68 153.31,368.04"/>
<polygon fill="#ffff00" points="134.91,373.17 128.2,370.76 134.05,366.99 140.76,369.42"/>
<polygon fill="#e60000" points="317.41,347.98 310.7,346.81 316.55,343.18 323.26,344.33"/>
<polygon fill="#f10000" points="304.86,350.46 298.15,349.22 303.99,345.59 310.7,346.81"/>
<polygon fill="#ff0b00" points="292.3,352.86 285.59,351.55 291.44,347.93 298.15,349.22"/>
<polygon fill="#ff2600" points="279.74,355.19 273.03,353.8 278.88,350.19 285.59,351.55"/>
<polygon fill="#ff4100" points="267.19,357.44 260.48,355.97 266.32,352.36 273.03,353.8"/>
<polygon fill="#ff5d00" points="254.63,359.6 247.92,358.05 253.77,354.44 260.48,355.97"/>
<polygon fill="#ff7900" points="242.07,361.68 235.36,360.05 241.21,356.43 247.92,358.05"/>
<polygon fill="#ff9500" points="229.52,363.68 222.81,361.95 228.65,358.33 235.36,360.05"/>
<polygon fill="#ffb000" points="216.96,365.59 210.25,363.77 216.1,360.14 222.81,361.95"/>
<polygon fill="#ffc600" points="204.4,367.42 197.69,365.51 203.54,361.87 210.25,363.77"/>
<polygon fill="#ffd600" points="191.85,369.17 185.14,367.18 190.98,363.52 197.69,365.51"/>
<polygon fill="#ffe400" points="179.29,370.85 172.58,368.77 178.43,365.09 185.14,367.18"/>
<polygon fill="#ffef00" points="166.73,372.45 160.02,370.29 165.87,366.6 172.58,368.77"/>
<polygon fill="#fff900" points="154.18,374 147.47,371.76 153.31,368.04 160.02,370.29"/>
<polygon fill="#f7ff02" points="141.62,375.49 134.91,373.17 140.76,369.42 147.47,371.76"/>
<polygon fill="#dcff07" points="129.06,376.94 122.35,374.55 128.2,370.76 134.91,373.17"/>
<polygon fill="#e60000" points="324.12,349.12 317.41,347.98 323.26,344.33 329.97,345.44"/>
<polygon fill="#f00000" points="311.57,351.65 304.86,350.46 310.7,346.81 317.41,347.98"/>
<polygon fill="#ff0a00" points="299.01,354.12 292.3,352.86 298.15,349.22 304.86,350.46"/>
<polygon fill="#ff2400" points="286.45,356.52 279.74,355.19 285.59,351.55 292.3,352.86"/>
<polygon fill="#ff4000" points="273.9,358.84 267.19,357.44 273.03,353.8 279.74,355.19"/>
<polygon fill="#ff5c00" points="261.34,361.09 254.63,359.6 260.48,355.97 267.19,357.44"/>
<polygon fill="#ff7800" points="248.78,363.25 242.07,361.68 247.92,358.05 254.63,359.6"/>
<polygon fill="#ff9500" points="236.23,365.33 229.52,363.68 235.36,360.05 242.07,361.68"/>
<polygon fill="#ffb000" points="223.67,367.33 216.96,365.59 222.81,361.95 229.52,363.68"/>
<polygon fill="#ffc900" points="211.11,369.24 204.4,367.42 210.25,363.77 216.96,365.59"/>
<polygon fill="#ffdb00" points="198.56,371.08 191.85,369.17 197.69,365.51 204.4,367.42"/>
<polygon fill="#ffea00" points="186,372.84 179.29,370.85 185.14,367.18 191.85,369.17"/>
<polygon fill="#fff600" points="173.44,374.53 166.73,372.45 172.58,368.77 179.29,370.85"/>
<polygon fill="#fbff01" points="160.89,376.16 154.18,374 160.02,370.29 166.73,372.45"/>
<polygon fill="#e9ff04" points="148.33,377.72 141.62,375.49 147.47,371.76 154.18,374"/>
<polygon fill="#d3ff08" points="135.77,379.24 129.06,376.94 134.91,373.17 141.62,375.49"/>
<polygon fill="#aeff10" points="123.22,380.72 116.51,378.35 122.35,374.55 129.06,376.94"/>
<polygon fill="#e60000" points="330.83,350.23 324.12,349.12 329.97,345.44 336.68,346.53"/>
<polygon fill="#ef0000" points="318.28,352.82 311.57,351.65 317.41,347.98 324.12,349.12"/>
<polygon fill="#ff0900" points="305.72,355.34 299.01,354.12 304.86,350.46 311.57,351.65"/>
<polygon fill="#ff2300" points="293.16,357.8 286.45,356.52 292.3,352.86 299.01,354.12"/>
<polygon fill="#ff3e00" points="280.61,360.2 273.9,358.84 279.74,355.19 286.45,356.52"/>
<polygon fill="#ff5a00" points="268.05,362.51 261.34,361.09 267.19,357.44 273.9,358.84"/>
<polygon fill="#ff7700" points="255.49,364.75 248.78,363.25 254.63,359.6 261.34,361.09"/>
<polygon fill="#ff9400" points="242.94,366.91 236.23,365.33 242.07,361.68 248.78,363.25"/>
<polygon fill="#ffaf00" points="230.38,368.99 223.67,367.33 229.52,363.68 236.23,365.33"/>
<polygon fill="#ffc900" points="217.82,370.99 211.11,369.24 216.96,365.59 223.67,367.33"/>
<polygon fill="#ffde00" points="205.27,372.91 198.56,371.08 204.4,367.42 211.11,369.24"/>
<polygon fill="#ffef00" points="192.71,374.76 186,372.84 191.85,369.17 198.56,371.08"/>
<polygon fill="#fffd00" points="180.15,376.53 173.44,374.53 179.29,370.85 186,372.84"/>
<polygon fill="#eeff03" points="167.6,378.23 160.89,376.16 166.73,372.45 173.44,374.53"/>
<polygon fill="#dbff07" points="155.04,379.87 148.33,377.72 154.18,374 160.89,376.16"/>
<polygon fill="#c5ff0b" points="142.48,381.46 135.77,379.24 141.62,375.49 148.33,377.72"/>
<polygon fill="#a7ff11" points="129.93,383 123.22,380.72 129.06,376.94 135.77,379.24"/>
<polygon fill="#7aff25" points="117.37,384.51 110.66,382.16 116.51,378.35 123.22,380.72"/>
<polygon fill="#e60000" points="337.54,351.33 330.83,350.23 336.68,346.53 343.39,347.6"/>
<polygon fill="#ef0000" points="324.99,353.95 318.28,352.82 324.12,349.12 330.83,350.23"/>
<polygon fill="#ff0800" points="312.43,356.53 305.72,355.34 311.57,351.65 318.28,352.82"/>
<polygon fill="#ff2100" points="299.87,359.05 293.16,357.8 299.01,354.12 305.72,355.34"/>
<polygon fill="#ff3c00" points="287.32,361.5 280.61,360.2 286.45,356.52 293.16,357.8"/>
<polygon fill="#ff5900" points="274.76,363.89 268.05,362.51 273.9,358.84 280.61,360.2"/>
<polygon fill="#ff7600" points="262.2,366.2 255.49,364.75 261.34,361.09 268.05,362.51"/>
<polygon fill="#ff9300" points="249.65,368.43 242.94,366.91 248.78,363.25 255.49,364.75"/>
<polygon fill="#ffae00" points="237.09,370.59 230.38,368.99 236.23,365.33 242.94,366.91"/>
<polygon fill="#ffc900" points="224.53,372.67 217.82,370.99 223.67,367.33 230.38,368.99"/>
<polygon fill="#ffe000" points="211.98,374.67 205.27,372.91 211.11,369.24 217.82,370.99"/>
<polygon fill="#fff300" points="199.42,376.6 192.71,374.76 198.56,371.08 205.27,372.91"/>
<polygon fill="#f9ff01" points="186.86,378.45 180.15,376.53 186,372.84 192.71,374.76"/>
<polygon fill="#e2ff06" points="174.31,380.23 167.6,378.23 173.44,374.53 180.15,376.53"/>
<polygon fill="#ccff0a" points="161.75,381.94 155.04,379.87 160.89,376.16 167.6,378.23"/>
<polygon fill="#b5ff0e" points="149.19,383.6 142.48,381.46 148.33,377.72 155.04,379.87"/>
<polygon fill="#99ff13" points="136.64,385.21 129.93,383 135.77,379.24 142.48,381.46"/>
<polygon fill="#72ff29" points="124.08,386.78 117.37,384.51 123.22,380.72 129.93,383"/>
<polygon fill="#48ff43" points="111.52,388.32 104.81,385.99 110.66,382.16 117.37,384.51"/>
<polygon fill="#e60000" points="344.25,352.41 337.54,351.33 343.39,347.6 350.1,348.66"/>
<polygon fill="#ee0000" points="331.7,355.07 324.99,353.95 330.83,350.23 337.54,351.33"/>
<polygon fill="#ff0700" points="319.14,357.69 312.43,356.53 318.28,352.82 324.99,353.95"/>
<polygon fill="#ff2000" points="306.58,360.25 299.87,359.05 305.72,355.34 312.43,356.53"/>
<polygon fill="#ff3b00" points="294.03,362.76 287.32,361.5 293.16,357.8 299.87,359.05"/>
<polygon fill="#ff5700" points="281.47,365.21 274.76,363.89 280.61,360.2 287.32,361.5"/>
<polygon fill="#ff7500" points="268.91,367.59 262.2,366.2 268.05,362.51 274.76,363.89"/>
<polygon fill="#ff9200" points="256.36,369.9 249.65,368.43 255.49,364.75 262.2,366.2"/>
<polygon fill="#ffae00" points="243.8,372.13 237.09,370.59 242.94,366.91 249.65,368.43"/>
<polygon fill="#ffc800" points="231.24,374.28 224.53,372.67 230.38,368.99 237.09,370.59"/>
<polygon fill="#ffe000" points="218.69,376.36 211.98,374.67 217.82,370.99 224.53,372.67"/>
<polygon fill="#fff500" points="206.13,378.36 199.42,376.6 205.27,372.91 211.98,374.67"/>
<polygon fill="#f1ff03" points="193.57,380.29 186.86,378.45 192.71,374.76 199.42,376.6"/>
<polygon fill="#d7ff08" points="181.02,382.15 174.31,380.23 180.15,376.53 186.86,378.45"/>
<polygon fill="#beff0c" points="168.46,383.94 161.75,381.94 167.6,378.23 174.31,380.23"/>
<polygon fill="#a5ff11" points="155.9,385.67 149.19,383.6 155.04,379.87 161.75,381.94"/>
<polygon fill="#88ff1c" points="143.35,387.35 136.64,385.21 142.48,381.46 149.19,383.6"/>
<polygon fill="#65ff31" points="130.79,388.98 124.08,386.78 129.93,383 136.64,385.21"/>
<polygon fill="#3eff49" points="118.23,390.57 111.52,388.32 117.37,384.51 124.08,386.78"/>
<polygon fill="#25ff62" points="105.68,392.14 98.97,389.83 104.81,385.99 111.52,388.32"/>
<polygon fill="#e60000" points="350.96,353.5 344.25,352.41 350.1,348.66 356.81,349.72"/>
<polygon fill="#ec0000" points="338.41,356.18 331.7,355.07 337.54,351.33 344.25,352.41"/>
<polygon fill="#ff0600" points="325.85,358.83 319.14,357.69 324.99,353.95 331.7,355.07"/>
<polygon fill="#ff2000" points="313.29,361.44 306.58,360.25 312.43,356.53 319.14,357.69"/>
<polygon fill="#ff3a00" points="300.74,364 294.03,362.76 299.87,359.05 306.58,360.25"/>
<polygon fill="#ff5600" points="288.18,366.5 281.47,365.21 287.32,361.5 294.03,362.76"/>
<polygon fill="#ff7400" points="275.62,368.94 268.91,367.59 274.76,363.89 281.47,365.21"/>
<polygon fill="#ff9100" points="263.07,371.31 256.36,369.9 262.2,366.2 268.91,367.59"/>
<polygon fill="#ffad00" points="250.51,373.61 243.8,372.13 249.65,368.43 256.36,369.9"/>
<polygon fill="#ffc900" points="237.95,375.84 231.24,374.28 237.09,370.59 243.8,372.13"/>
<polygon fill="#ffe100" points="225.4,377.99 218.69,376.36 224.53,372.67 231.24,374.28"/>
<polygon fill="#fff700" points="212.84,380.07 206.13,378.36 211.98,374.67 218.69,376.36"/>
<polygon fill="#ecff04" points="200.28,382.07 193.57,380.29 199.42,376.6 206.13,378.36"/>
<polygon fill="#ceff09" points="187.73,384.01 181.02,382.15 186.86,378.45 193.57,380.29"/>
<polygon fill="#b2ff0f" points="175.17,385.87 168.46,383.94 174.31,380.23 181.02,382.15"/>
<polygon fill="#97ff14" points="162.61,387.67 155.9,385.67 161.75,381.94 168.46,383.94"/>
<polygon fill="#79ff25" points="150.06,389.41 143.35,387.35 149.19,383.6 155.9,385.67"/>
<polygon fill="#56ff3a" points="137.5,391.11 130.79,388.98 136.64,385.21 143.35,387.35"/>
<polygon fill="#31ff51" points="124.94,392.76 118.23,390.57 124.08,386.78 130.79,388.98"/>
<polygon fill="#1fff6b" points="112.39,394.38 105.68,392.14 111.52,388.32 118.23,390.57"/>
<polygon fill="#0eff82" points="99.83,395.97 93.12,393.69 98.97,389.83 105.68,392.14"/>
<polygon fill="#e60000" points="357.67,354.59 350.96,353.5 356.81,349.72 363.52,350.8"/>
<polygon fill="#ea0000" points="345.12,357.29 338.41,356.18 344.25,352.41 350.96,353.5"/>
<polygon fill="#ff0500" points="332.56,359.96 325.85,358.83 331.7,355.07 338.41,356.18"/>
<polygon fill="#ff2000" points="320,362.61 313.29,361.44 319.14,357.69 325.85,358.83"/>
<polygon fill="#ff3a00" points="307.45,365.21 300.74,364 306.58,360.25 313.29,361.44"/>
<polygon fill="#ff5600" points="294.89,367.76 288.18,366.5 294.03,362.76 300.74,364"/>
<polygon fill="#ff7300" points="282.33,370.25 275.62,368.94 281.47,365.21 288.18,366.5"/>
<polygon fill="#ff9000" points="269.78,372.68 263.07,371.31 268.91,367.59 275.62,368.94"/>
<polygon fill="#ffad00" points="257.22,375.05 250.51,373.61 256.36,369.9 263.07,371.31"/>
<polygon fill="#ffc900" points="244.66,377.34 237.95,375.84 243.8,372.13 250.51,373.61"/>
<polygon fill="#ffe200" points="232.11,379.57 225.4,377.99 231.24,374.28 237.95,375.84"/>
<polygon fill="#fff900" points="219.55,381.72 212.84,380.07 218.69,376.36 225.4,377.99"/>
<polygon fill="#e8ff04" points="206.99,383.79 200.28,382.07 206.13,378.36 212.84,380.07"/>
<polygon fill="#c7ff0b" points="194.44,385.8 187.73,384.01 193.57,380.29 200.28,382.07"/>
<polygon fill="#a8ff11" points="181.88,387.73 175.17,385.87 181.02,382.15 187.73,384.01"/>
<polygon fill="#8aff1b" points="169.32,389.6 162.61,387.67 168.46,383.94 175.17,385.87"/>
<polygon fill="#6bff2e" points="156.77,391.41 150.06,389.41 155.9,385.67 162.61,387.67"/>
<polygon fill="#49ff42" points="144.21,393.17 137.5,391.11 143.35,387.35 150.06,389.41"/>
<polygon fill="#2aff5b" points="131.65,394.88 124.94,392.76 130.79,388.98 137.5,391.11"/>
<polygon fill="#19ff74" points="119.1,396.55 112.39,394.38 118.23,390.57 124.94,392.76"/>
<polygon fill="#08ff8b" points="106.54,398.2 99.83,395.97 105.68,392.14 112.39,394.38"/>
<polygon fill="#00ffa5" points="93.98,399.82 87.27,397.56 93.12,393.69 99.83,395.97"/>
<polygon fill="#e60000" points="364.38,355.7 357.67,354.59 363.52,350.8 370.23,351.88"/>
<polygon fill="#e70000" points="351.83,358.4 345.12,357.29 350.96,353.5 357.67,354.59"/>
<polygon fill="#ff0400" points="339.27,361.09 332.56,359.96 338.41,356.18 345.12,357.29"/>
<polygon fill="#ff1f00" points="326.71,363.76 320,362.61 325.85,358.83 332.56,359.96"/>
<polygon fill="#ff3a00" points="314.16,366.4 307.45,365.21 313.29,361.44 320,362.61"/>
<polygon fill="#ff5600" points="301.6,368.99 294.89,367.76 300.74,364 307.45,365.21"/>
<polygon fill="#ff7200" points="289.04,371.53 282.33,370.25 288.18,366.5 294.89,367.76"/>
<polygon fill="#ff9000" points="276.49,374.02 269.78,372.68 275.62,368.94 282.33,370.25"/>
<polygon fill="#ffad00" points="263.93,376.44 257.22,375.05 263.07,371.31 269.78,372.68"/>
<polygon fill="#ffca00" points="251.37,378.8 244.66,377.34 250.51,373.61 257.22,375.05"/>
<polygon fill="#ffe500" points="238.82,381.09 232.11,379.57 237.95,375.84 244.66,377.34"/>
<polygon fill="#fffc00" points="226.26,383.31 219.55,381.72 225.4,377.99 232.11,379.57"/>
<polygon fill="#e3ff05" points="213.7,385.45 206.99,383.79 212.84,380.07 219.55,381.72"/>
<polygon fill="#c0ff0c" points="201.15,387.53 194.44,385.8 200.28,382.07 206.99,383.79"/>
<polygon fill="#9eff12" points="188.59,389.54 181.88,387.73 187.73,384.01 194.44,385.8"/>
<polygon fill="#7eff22" points="176.03,391.48 169.32,389.6 175.17,385.87 181.88,387.73"/>
<polygon fill="#5eff35" points="163.48,393.35 156.77,391.41 162.61,387.67 169.32,389.6"/>
<polygon fill="#3dff49" points="150.92,395.17 144.21,393.17 150.06,389.41 156.77,391.41"/>
<polygon fill="#25ff62" points="138.36,396.94 131.65,394.88 137.5,391.11 144.21,393.17"/>
<polygon fill="#13ff7c" points="125.81,398.67 119.1,396.55 124.94,392.76 131.65,394.88"/>
<polygon fill="#01ff94" points="113.25,400.36 106.54,398.2 112.39,394.38 119.1,396.55"/>
<polygon fill="#00ffb3" points="100.69,402.03 93.98,399.82 99.83,395.97 106.54,398.2"/>
<polygon fill="#00ffce" points="88.14,403.68 81.43,401.44 87.27,397.56 93.98,399.82"/>
<polygon fill="#e60000" points="371.09,356.84 364.38,355.7 370.23,351.88 376.94,353"/>
<polygon fill="#e60000" points="358.54,359.53 351.83,358.4 357.67,354.59 364.38,355.7"/>
<polygon fill="#ff0100" points="345.98,362.23 339.27,361.09 345.12,357.29 351.83,358.4"/>
<polygon fill="#ff1e00" points="333.42,364.92 326.71,363.76 332.56,359.96 339.27,361.09"/>
<polygon fill="#ff3a00" points="320.87,367.58 314.16,366.4 320,362.61 326.71,363.76"/>
<polygon fill="#ff5600" points="308.31,370.21 301.6,368.99 307.45,365.21 314.16,366.4"/>
<polygon fill="#ff7300" points="295.75,372.79 289.04,371.53 294.89,367.76 301.6,368.99"/>
<polygon fill="#ff9000" points="283.2,375.32 276.49,374.02 282.33,370.25 289.04,371.53"/>
<polygon fill="#ffad00" points="270.64,377.8 263.93,376.44 269.78,372.68 276.49,374.02"/>
<polygon fill="#ffcb00" points="258.08,380.22 251.37,378.8 257.22,375.05 263.93,376.44"/>
<polygon fill="#ffe700" points="245.53,382.57 238.82,381.09 244.66,377.34 251.37,378.8"/>
<polygon fill="#feff00" points="232.97,384.85 226.26,383.31 232.11,379.57 238.82,381.09"/>
<polygon fill="#dbff07" points="220.41,387.07 213.7,385.45 219.55,381.72 226.26,383.31"/>
<polygon fill="#b9ff0d" points="207.86,389.21 201.15,387.53 206.99,383.79 213.7,385.45"/>
<polygon fill="#95ff15" points="195.3,391.28 188.59,389.54 194.44,385.8 201.15,387.53"/>
<polygon fill="#72ff29" points="182.74,393.29 176.03,391.48 181.88,387.73 188.59,389.54"/>
<polygon fill="#52ff3d" points="170.19,395.23 163.48,393.35 169.32,389.6 176.03,391.48"/>
<polygon fill="#31ff51" points="157.63,397.12 150.92,395.17 156.77,391.41 163.48,393.35"/>
<polygon fill="#20ff69" points="145.07,398.95 138.36,396.94 144.21,393.17 150.92,395.17"/>
<polygon fill="#0eff82" points="132.52,400.73 125.81,398.67 131.65,394.88 138.36,396.94"/>
<polygon fill="#00ff9e" points="119.96,402.47 113.25,400.36 119.1,396.55 125.81,398.67"/>
<polygon fill="#00ffc0" points="107.4,404.18 100.69,402.03 106.54,398.2 113.25,400.36"/>
<polygon fill="#00ffdf" points="94.85,405.88 88.14,403.68 93.98,399.82 100.69,402.03"/>
<polygon fill="#00fff6" points="82.29,407.56 75.58,405.34 81.43,401.44 88.14,403.68"/>
<polygon fill="#e60000" points="377.8,358 371.09,356.84 376.94,353 383.65,354.15"/>
<polygon fill="#e60000" points="365.25,360.69 358.54,359.53 364.38,355.7 371.09,356.84"/>
<polygon fill="#fd0000" points="352.69,363.39 345.98,362.23 351.83,358.4 358.54,359.53"/>
<polygon fill="#ff1d00" points="340.13,366.08 333.42,364.92 339.27,361.09 345.98,362.23"/>
<polygon fill="#ff3a00" points="327.58,368.76 320.87,367.58 326.71,363.76 333.42,364.92"/>
<polygon fill="#ff5600" points="315.02,371.41 308.31,370.21 314.16,366.4 320.87,367.58"/>
<polygon fill="#ff7300" points="302.46,374.03 295.75,372.79 301.6,368.99 308.31,370.21"/>
<polygon fill="#ff8f00" points="289.91,376.61 283.2,375.32 289.04,371.53 295.75,372.79"/>
<polygon fill="#ffad00" points="277.35,379.13 270.64,377.8 276.49,374.02 283.2,375.32"/>
<polygon fill="#ffcc00" points="264.79,381.6 258.08,380.22 263.93,376.44 270.64,377.8"/>
<polygon fill="#ffe900" points="252.24,384.01 245.53,382.57 251.37,378.8 258.08,380.22"/>
<polygon fill="#f7ff01" points="239.68,386.35 232.97,384.85 238.82,381.09 245.53,382.57"/>
<polygon fill="#d1ff09" points="227.12,388.63 220.41,387.07 226.26,383.31 232.97,384.85"/>
<polygon fill="#aeff0f" points="214.57,390.84 207.86,389.21 213.7,385.45 220.41,387.07"/>
<polygon fill="#8aff1b" points="202.01,392.98 195.3,391.28 201.15,387.53 207.86,389.21"/>
<polygon fill="#66ff31" points="189.45,395.05 182.74,393.29 188.59,389.54 195.3,391.28"/>
<polygon fill="#45ff45" points="176.9,397.06 170.19,395.23 176.03,391.48 182.74,393.29"/>
<polygon fill="#2bff5a" points="164.34,399.01 157.63,397.12 163.48,393.35 170.19,395.23"/>
<polygon fill="#1bff71" points="151.78,400.89 145.07,398.95 150.92,395.17 157.63,397.12"/>
<polygon fill="#09ff89" points="139.23,402.73 132.52,400.73 138.36,396.94 145.07,398.95"/>
<polygon fill="#00ffa7" points="126.67,404.53 119.96,402.47 125.81,398.67 132.52,400.73"/>
<polygon fill="#00ffcc" points="114.11,406.29 107.4,404.18 113.25,400.36 119.96,402.47"/>
<polygon fill="#00ffee" points="101.56,408.02 94.85,405.88 100.69,402.03 107.4,404.18"/>
<polygon fill="#00f8ff" points="89,409.74 82.29,407.56 88.14,403.68 94.85,405.88"/>
<polygon fill="#00ecff" points="76.44,411.45 69.73,409.25 75.58,405.34 82.29,407.56"/>
<polygon fill="#e60000" points="384.51,359.22 377.8,358 383.65,354.15 390.36,355.34"/>
<polygon fill="#e60000" points="371.96,361.88 365.25,360.69 371.09,356.84 377.8,358"/>
<polygon fill="#fb0000" points="359.4,364.56 352.69,363.39 358.54,359.53 365.25,360.69"/>
<polygon fill="#ff1c00" points="346.84,367.25 340.13,366.08 345.98,362.23 352.69,363.39"/>
<polygon fill="#ff3900" points="334.29,369.94 327.58,368.76 333.42,364.92 340.13,366.08"/>
<polygon fill="#ff5500" points="321.73,372.61 315.02,371.41 320.87,367.58 327.58,368.76"/>
<polygon fill="#ff7100" points="309.17,375.26 302.46,374.03 308.31,370.21 315.02,371.41"/>
<polygon fill="#ff8e00" points="296.62,377.87 289.91,376.61 295.75,372.79 302.46,374.03"/>
<polygon fill="#ffac00" points="284.06,380.44 277.35,379.13 283.2,375.32 289.91,376.61"/>
<polygon fill="#ffcb00" points="271.5,382.96 264.79,381.6 270.64,377.8 277.35,379.13"/>
<polygon fill="#ffea00" points="258.95,385.42 252.24,384.01 258.08,380.22 264.79,381.6"/>
<polygon fill="#f2ff02" points="246.39,387.82 239.68,386.35 245.53,382.57 252.24,384.01"/>
<polygon fill="#c8ff0b" points="233.83,390.15 227.12,388.63 232.97,384.85 239.68,386.35"/>
<polygon fill="#a2ff12" points="221.28,392.42 214.57,390.84 220.41,387.07 227.12,388.63"/>
<polygon fill="#7dff23" points="208.72,394.63 202.01,392.98 207.86,389.21 214.57,390.84"/>
<polygon fill="#59ff39" points="196.16,396.76 189.45,395.05 195.3,391.28 202.01,392.98"/>
<polygon fill="#37ff4d" points="183.61,398.83 176.9,397.06 182.74,393.29 189.45,395.05"/>
<polygon fill="#24ff63" points="171.05,400.84 164.34,399.01 170.19,395.23 176.9,397.06"/>
<polygon fill="#14ff7a" points="158.49,402.79 151.78,400.89 157.63,397.12 164.34,399.01"/>
<polygon fill="#04ff91" points="145.94,404.69 139.23,402.73 145.07,398.95 151.78,400.89"/>
<polygon fill="#00ffb0" points="133.38,406.54 126.67,404.53 132.52,400.73 139.23,402.73"/>
<polygon fill="#00ffd5" points="120.82,408.34 114.11,406.29 119.96,402.47 126.67,404.53"/>
<polygon fill="#00fffb" points="108.27,410.12 101.56,408.02 107.4,404.18 114.11,406.29"/>
<polygon fill="#00edff" points="95.71,411.87 89,409.74 94.85,405.88 101.56,408.02"/>
<polygon fill="#00ddff" points="83.15,413.61 76.44,411.45 82.29,407.56 89,409.74"/>
<polygon fill="#00d3ff" points="70.6,415.35 63.89,413.17 69.73,409.25 76.44,411.45"/>
<polygon fill="#e60000" points="391.22,360.48 384.51,359.22 390.36,355.34 397.07,356.59"/>
<polygon fill="#e60000" points="378.67,363.1 371.96,361.88 377.8,358 384.51,359.22"/>
<polygon fill="#f70000" points="366.11,365.77 359.4,364.56 365.25,360.69 371.96,361.88"/>
<polygon fill="#ff1a00" points="353.55,368.45 346.84,367.25 352.69,363.39 359.4,364.56"/>
<polygon fill="#ff3900" points="341,371.14 334.29,369.94 340.13,366.08 346.84,367.25"/>
<polygon fill="#ff5500" points="328.44,373.82 321.73,372.61 327.58,368.76 334.29,369.94"/>
<polygon fill="#ff7000" points="315.88,376.49 309.17,375.26 315.02,371.41 321.73,372.61"/>
<polygon fill="#ff8c00" points="303.33,379.13 296.62,377.87 302.46,374.03 309.17,375.26"/>
<polygon fill="#ffaa00" points="290.77,381.73 284.06,380.44 289.91,376.61 296.62,377.87"/>
<polygon fill="#ffca00" points="278.21,384.29 271.5,382.96 277.35,379.13 284.06,380.44"/>
<polygon fill="#ffea00" points="265.66,386.8 258.95,385.42 264.79,381.6 271.5,382.96"/>
<polygon fill="#eeff03" points="253.1,389.25 246.39,387.82 252.24,384.01 258.95,385.42"/>
<polygon fill="#c0ff0c" points="240.54,391.64 233.83,390.15 239.68,386.35 246.39,387.82"/>
<polygon fill="#96ff14" points="227.99,393.97 221.28,392.42 227.12,388.63 233.83,390.15"/>
<polygon fill="#6eff2c" points="215.43,396.23 208.72,394.63 214.57,390.84 221.28,392.42"/>
<polygon fill="#49ff42" points="202.87,398.43 196.16,396.76 202.01,392.98 208.72,394.63"/>
<polygon fill="#2dff57" points="190.32,400.56 183.61,398.83 189.45,395.05 196.16,396.76"/>
<polygon fill="#1dff6d" points="177.76,402.63 171.05,400.84 176.9,397.06 183.61,398.83"/>
<polygon fill="#0eff83" points="165.2,404.64 158.49,402.79 164.34,399.01 171.05,400.84"/>
<polygon fill="#00ff9b" points="152.65,406.59 145.94,404.69 151.78,400.89 158.49,402.79"/>
<polygon fill="#00ffbc" points="140.09,408.5 133.38,406.54 139.23,402.73 145.94,404.69"/>
<polygon fill="#00ffdf" points="127.53,410.35 120.82,408.34 126.67,404.53 133.38,406.54"/>
<polygon fill="#00faff" points="114.98,412.17 108.27,410.12 114.11,406.29 120.82,408.34"/>
<polygon fill="#00e3ff" points="102.42,413.96 95.71,411.87 101.56,408.02 108.27,410.12"/>
<polygon fill="#00cfff" points="89.86,415.74 83.15,413.61 89,409.74 95.71,411.87"/>
<polygon fill="#00c2ff" points="77.31,417.5 70.6,415.35 76.44,411.45 83.15,413.61"/>
<polygon fill="#00bdff" points="64.75,419.27 58.04,417.11 63.89,413.17 70.6,415.35"/>
<polygon fill="#e60000" points="397.93,361.8 391.22,360.48 397.07,356.59 403.78,357.9"/>
<polygon fill="#e60000" points="385.38,364.38 378.67,363.1 384.51,359.22 391.22,360.48"/>
<polygon fill="#f00000" points="372.82,367.01 366.11,365.77 371.96,361.88 378.67,363.1"/>
<polygon fill="#ff1800" points="360.26,369.67 353.55,368.45 359.4,364.56 366.11,365.77"/>
<polygon fill="#ff3a00" points="347.71,372.35 341,371.14 346.84,367.25 353.55,368.45"/>
<polygon fill="#ff5600" points="335.15,375.04 328.44,373.82 334.29,369.94 341,371.14"/>
<polygon fill="#ff7000" points="322.59,377.72 315.88,376.49 321.73,372.61 328.44,373.82"/>
<polygon fill="#ff8a00" points="310.04,380.38 303.33,379.13 309.17,375.26 315.88,376.49"/>
<polygon fill="#ffa700" points="297.48,383.01 290.77,381.73 296.62,377.87 303.33,379.13"/>
<polygon fill="#ffc700" points="284.92,385.6 278.21,384.29 284.06,380.44 290.77,381.73"/>
<polygon fill="#ffe900" points="272.37,388.15 265.66,386.8 271.5,382.96 278.21,384.29"/>
<polygon fill="#edff03" points="259.81,390.65 253.1,389.25 258.95,385.42 265.66,386.8"/>
<polygon fill="#bbff0d" points="247.25,393.1 240.54,391.64 246.39,387.82 253.1,389.25"/>
<polygon fill="#8cff1a" points="234.7,395.48 227.99,393.97 233.83,390.15 240.54,391.64"/>
<polygon fill="#60ff35" points="222.14,397.8 215.43,396.23 221.28,392.42 227.99,393.97"/>
<polygon fill="#38ff4c" points="209.58,400.06 202.87,398.43 208.72,394.63 215.43,396.23"/>
<polygon fill="#25ff62" points="197.03,402.25 190.32,400.56 196.16,396.76 202.87,398.43"/>
<polygon fill="#16ff77" points="184.47,404.38 177.76,402.63 183.61,398.83 190.32,400.56"/>
<polygon fill="#06ff8d" points="171.91,406.45 165.2,404.64 171.05,400.84 177.76,402.63"/>
<polygon fill="#00ffa9" points="159.36,408.46 152.65,406.59 158.49,402.79 165.2,404.64"/>
<polygon fill="#00ffc9" points="146.8,410.41 140.09,408.5 145.94,404.69 152.65,406.59"/>
<polygon fill="#00ffeb" points="134.24,412.32 127.53,410.35 133.38,406.54 140.09,408.5"/>
<polygon fill="#00f4ff" points="121.69,414.18 114.98,412.17 120.82,408.34 127.53,410.35"/>
<polygon fill="#00daff" points="109.13,416.01 102.42,413.96 108.27,410.12 114.98,412.17"/>
<polygon fill="#00c3ff" points="96.57,417.82 89.86,415.74 95.71,411.87 102.42,413.96"/>
<polygon fill="#00b2ff" points="84.02,419.61 77.31,417.5 83.15,413.61 89.86,415.74"/>
<polygon fill="#00a8ff" points="71.46,421.4 64.75,419.27 70.6,415.35 77.31,417.5"/>
<polygon fill="#00a2ff" points="58.9,423.2 52.19,421.06 58.04,417.11 64.75,419.27"/>
<polygon fill="#e60000" points="404.64,363.19 397.93,361.8 403.78,357.9 410.49,359.28"/>
<polygon fill="#e60000" points="392.09,365.72 385.38,364.38 391.22,360.48 397.93,361.8"/>
<polygon fill="#e60000" points="379.53,368.3 372.82,367.01 378.67,363.1 385.38,364.38"/>
<polygon fill="#ff1100" points="366.97,370.94 360.26,369.67 366.11,365.77 372.82,367.01"/>
<polygon fill="#ff3900" points="354.42,373.6 347.71,372.35 353.55,368.45 360.26,369.67"/>
<polygon fill="#ff5700" points="341.86,376.28 335.15,375.04 341,371.14 347.71,372.35"/>
<polygon fill="#ff7100" points="329.3,378.96 322.59,377.72 328.44,373.82 335.15,375.04"/>
<polygon fill="#ff8a00" points="316.75,381.63 310.04,380.38 315.88,376.49 322.59,377.72"/>
<polygon fill="#ffa500" points="304.19,384.28 297.48,383.01 303.33,379.13 310.04,380.38"/>
<polygon fill="#ffc400" points="291.63,386.91 284.92,385.6 290.77,381.73 297.48,383.01"/>
<polygon fill="#ffe700" points="279.08,389.49 272.37,388.15 278.21,384.29 284.92,385.6"/>
<polygon fill="#eeff03" points="266.52,392.03 259.81,390.65 265.66,386.8 272.37,388.15"/>
<polygon fill="#b8ff0e" points="253.96,394.52 247.25,393.1 253.1,389.25 259.81,390.65"/>
<polygon fill="#85ff1e" points="241.41,396.96 234.7,395.48 240.54,391.64 247.25,393.1"/>
<polygon fill="#56ff3a" points="228.85,399.33 222.14,397.8 227.99,393.97 234.7,395.48"/>
<polygon fill="#2eff55" points="216.29,401.65 209.58,400.06 215.43,396.23 222.14,397.8"/>
<polygon fill="#1dff6e" points="203.74,403.9 197.03,402.25 202.87,398.43 209.58,400.06"/>
<polygon fill="#0eff82" points="191.18,406.08 184.47,404.38 190.32,400.56 197.03,402.25"/>
<polygon fill="#00ff97" points="178.62,408.21 171.91,406.45 177.76,402.63 184.47,404.38"/>
<polygon fill="#00ffb6" points="166.07,410.28 159.36,408.46 165.2,404.64 171.91,406.45"/>
<polygon fill="#00ffd6" points="153.51,412.28 146.8,410.41 152.65,406.59 159.36,408.46"/>
<polygon fill="#00fff8" points="140.95,414.24 134.24,412.32 140.09,408.5 146.8,410.41"/>
<polygon fill="#00ecff" points="128.4,416.16 121.69,414.18 127.53,410.35 134.24,412.32"/>
<polygon fill="#00d3ff" points="115.84,418.03 109.13,416.01 114.98,412.17 121.69,414.18"/>
<polygon fill="#00baff" points="103.28,419.87 96.57,417.82 102.42,413.96 109.13,416.01"/>
<polygon fill="#00a4ff" points="90.73,421.7 84.02,419.61 89.86,415.74 96.57,417.82"/>
<polygon fill="#0094ff" points="78.17,423.51 71.46,421.4 77.31,417.5 84.02,419.61"/>
<polygon fill="#008dff" points="65.61,425.32 58.9,423.2 64.75,419.27 71.46,421.4"/>
<polygon fill="#0081ff" points="53.06,427.15 46.35,425.03 52.19,421.06 58.9,423.2"/>
<polygon fill="#e60000" points="411.35,364.66 404.64,363.19 410.49,359.28 417.2,360.75"/>
<polygon fill="#e60000" points="398.8,367.11 392.09,365.72 397.93,361.8 404.64,363.19"/>
<polygon fill="#e60000" points="386.24,369.65 379.53,368.3 385.38,364.38 392.09,365.72"/>
<polygon fill="#ff0600" points="373.68,372.24 366.97,370.94 372.82,367.01 379.53,368.3"/>
<polygon fill="#ff3400" points="361.13,374.88 354.42,373.6 360.26,369.67 366.97,370.94"/>
<polygon fill="#ff5800" points="348.57,377.54 341.86,376.28 347.71,372.35 354.42,373.6"/>
<polygon fill="#ff7300" points="336.01,380.22 329.3,378.96 335.15,375.04 341.86,376.28"/>
<polygon fill="#ff8b00" points="323.46,382.9 316.75,381.63 322.59,377.72 329.3,378.96"/>
<polygon fill="#ffa300" points="310.9,385.56 304.19,384.28 310.04,380.38 316.75,381.63"/>
<polygon fill="#ffc100" points="298.34,388.21 291.63,386.91 297.48,383.01 304.19,384.28"/>
<polygon fill="#ffe300" points="285.79,390.82 279.08,389.49 284.92,385.6 291.63,386.91"/>
<polygon fill="#f0ff03" points="273.23,393.4 266.52,392.03 272.37,388.15 279.08,389.49"/>
<polygon fill="#b6ff0e" points="260.67,395.93 253.96,394.52 259.81,390.65 266.52,392.03"/>
<polygon fill="#80ff21" points="248.12,398.41 241.41,396.96 247.25,393.1 253.96,394.52"/>
<polygon fill="#4fff3e" points="235.56,400.84 228.85,399.33 234.7,395.48 241.41,396.96"/>
<polygon fill="#2aff5b" points="223,403.2 216.29,401.65 222.14,397.8 228.85,399.33"/>
<polygon fill="#17ff76" points="210.45,405.51 203.74,403.9 209.58,400.06 216.29,401.65"/>
<polygon fill="#07ff8c" points="197.89,407.75 191.18,406.08 197.03,402.25 203.74,403.9"/>
<polygon fill="#00ffa4" points="185.33,409.93 178.62,408.21 184.47,404.38 191.18,406.08"/>
<polygon fill="#00ffc3" points="172.78,412.06 166.07,410.28 171.91,406.45 178.62,408.21"/>
<polygon fill="#00ffe3" points="160.22,414.12 153.51,412.28 159.36,408.46 166.07,410.28"/>
<polygon fill="#00fbff" points="147.66,416.13 140.95,414.24 146.8,410.41 153.51,412.28"/>
<polygon fill="#00e5ff" points="135.11,418.09 128.4,416.16 134.24,412.32 140.95,414.24"/>
<polygon fill="#00ccff" points="122.55,420.01 115.84,418.03 121.69,414.18 128.4,416.16"/>
<polygon fill="#00b3ff" points="109.99,421.89 103.28,419.87 109.13,416.01 115.84,418.03"/>
<polygon fill="#009bff" points="97.44,423.75 90.73,421.7 96.57,417.82 103.28,419.87"/>
<polygon fill="#0086ff" points="84.88,425.58 78.17,423.51 84.02,419.61 90.73,421.7"/>
<polygon fill="#0078ff" points="72.32,427.42 65.61,425.32 71.46,421.4 78.17,423.51"/>
<polygon fill="#006fff" points="59.77,429.25 53.06,427.15 58.9,423.2 65.61,425.32"/>
<polygon fill="#005dff" points="47.21,431.11 40.5,429.01 46.35,425.03 53.06,427.15"/>
<polygon fill="#e60000" points="405.51,368.59 398.8,367.11 404.64,363.19 411.35,364.66"/>
<polygon fill="#e60000" points="392.95,371.06 386.24,369.65 392.09,365.72 398.8,367.11"/>
<polygon fill="#f90000" points="380.39,373.6 373.68,372.24 379.53,368.3 386.24,369.65"/>
<polygon fill="#ff2b00" points="367.84,376.2 361.13,374.88 366.97,370.94 373.68,372.24"/>
<polygon fill="#ff5600" points="355.28,378.84 348.57,377.54 354.42,373.6 361.13,374.88"/>
<polygon fill="#ff7400" points="342.72,381.5 336.01,380.22 341.86,376.28 348.57,377.54"/>
<polygon fill="#ff8c00" points="330.17,384.17 323.46,382.9 329.3,378.96 336.01,380.22"/>
<polygon fill="#ffa300" points="317.61,386.85 310.9,385.56 316.75,381.63 323.46,382.9"/>
<polygon fill="#ffbe00" points="305.05,389.51 298.34,388.21 304.19,384.28 310.9,385.56"/>
<polygon fill="#ffdf00" points="292.5,392.15 285.79,390.82 291.63,386.91 298.34,388.21"/>
<polygon fill="#f5ff02" points="279.94,394.76 273.23,393.4 279.08,389.49 285.79,390.82"/>
<polygon fill="#b6ff0e" points="267.38,397.32 260.67,395.93 266.52,392.03 273.23,393.4"/>
<polygon fill="#7cff23" points="254.83,399.85 248.12,398.41 253.96,394.52 260.67,395.93"/>
<polygon fill="#49ff42" points="242.27,402.32 235.56,400.84 241.41,396.96 248.12,398.41"/>
<polygon fill="#27ff5f" points="229.71,404.73 223,403.2 228.85,399.33 235.56,400.84"/>
<polygon fill="#13ff7b" points="217.16,407.09 210.45,405.51 216.29,401.65 223,403.2"/>
<polygon fill="#02ff93" points="204.6,409.39 197.89,407.75 203.74,403.9 210.45,405.51"/>
<polygon fill="#00ffb0" points="192.04,411.62 185.33,409.93 191.18,406.08 197.89,407.75"/>
<polygon fill="#00ffcf" points="179.49,413.8 172.78,412.06 178.62,408.21 185.33,409.93"/>
<polygon fill="#00fff0" points="166.93,415.92 160.22,414.12 166.07,410.28 172.78,412.06"/>
<polygon fill="#00f3ff" points="154.37,417.98 147.66,416.13 153.51,412.28 160.22,414.12"/>
<polygon fill="#00ddff" points="141.82,419.99 135.11,418.09 140.95,414.24 147.66,416.13"/>
<polygon fill="#00c5ff" points="129.26,421.95 122.55,420.01 128.4,416.16 135.11,418.09"/>
<polygon fill="#00adff" points="116.7,423.87 109.99,421.89 115.84,418.03 122.55,420.01"/>
<polygon fill="#0094ff" points="104.15,425.76 97.44,423.75 103.28,419.87 109.99,421.89"/>
<polygon fill="#007dff" points="91.59,427.63 84.88,425.58 90.73,421.7 97.44,423.75"/>
<polygon fill="#0067ff" points="79.03,429.49 72.32,427.42 78.17,423.51 84.88,425.58"/>
<polygon fill="#005aff" points="66.48,431.34 59.77,429.25 65.61,425.32 72.32,427.42"/>
<polygon fill="#004cff" points="53.92,433.2 47.21,431.11 53.06,427.15 59.77,429.25"/>
<polygon fill="#e60000" points="399.66,372.54 392.95,371.06 398.8,367.11 405.51,368.59"/>
<polygon fill="#f40000" points="387.1,375.02 380.39,373.6 386.24,369.65 392.95,371.06"/>
<polygon fill="#ff2000" points="374.55,377.57 367.84,376.2 373.68,372.24 380.39,373.6"/>
<polygon fill="#ff5000" points="361.99,380.17 355.28,378.84 361.13,374.88 367.84,376.2"/>
<polygon fill="#ff7500" points="349.43,382.81 342.72,381.5 348.57,377.54 355.28,378.84"/>
<polygon fill="#ff8f00" points="336.88,385.48 330.17,384.17 336.01,380.22 342.72,381.5"/>
<polygon fill="#ffa400" points="324.32,388.15 317.61,386.85 323.46,382.9 330.17,384.17"/>
<polygon fill="#ffbc00" points="311.76,390.82 305.05,389.51 310.9,385.56 317.61,386.85"/>
<polygon fill="#ffda00" points="299.21,393.47 292.5,392.15 298.34,388.21 305.05,389.51"/>
<polygon fill="#fcff01" points="286.65,396.11 279.94,394.76 285.79,390.82 292.5,392.15"/>
<polygon fill="#b9ff0d" points="274.09,398.7 267.38,397.32 273.23,393.4 279.94,394.76"/>
<polygon fill="#79ff25" points="261.54,401.26 254.83,399.85 260.67,395.93 267.38,397.32"/>
<polygon fill="#42ff46" points="248.98,403.78 242.27,402.32 248.12,398.41 254.83,399.85"/>
<polygon fill="#24ff64" points="236.42,406.24 229.71,404.73 235.56,400.84 242.27,402.32"/>
<polygon fill="#10ff7f" points="223.87,408.65 217.16,407.09 223,403.2 229.71,404.73"/>
<polygon fill="#00ff98" points="211.31,410.99 204.6,409.39 210.45,405.51 217.16,407.09"/>
<polygon fill="#00ffb8" points="198.75,413.28 192.04,411.62 197.89,407.75 204.6,409.39"/>
<polygon fill="#00ffda" points="186.2,415.51 179.49,413.8 185.33,409.93 192.04,411.62"/>
<polygon fill="#00fffb" points="173.64,417.68 166.93,415.92 172.78,412.06 179.49,413.8"/>
<polygon fill="#00ecff" points="161.08,419.79 154.37,417.98 160.22,414.12 166.93,415.92"/>
<polygon fill="#00d6ff" points="148.53,421.85 141.82,419.99 147.66,416.13 154.37,417.98"/>
<polygon fill="#00bfff" points="135.97,423.86 129.26,421.95 135.11,418.09 141.82,419.99"/>
<polygon fill="#00a7ff" points="123.41,425.83 116.7,423.87 122.55,420.01 129.26,421.95"/>
<polygon fill="#008eff" points="110.86,427.76 104.15,425.76 109.99,421.89 116.7,423.87"/>
<polygon fill="#0077ff" points="98.3,429.65 91.59,427.63 97.44,423.75 104.15,425.76"/>
<polygon fill="#005dff" points="85.74,431.53 79.03,429.49 84.88,425.58 91.59,427.63"/>
<polygon fill="#0048ff" points="73.19,433.4 66.48,431.34 72.32,427.42 79.03,429.49"/>
<polygon fill="#003bff" points="60.63,435.27 53.92,433.2 59.77,429.25 66.48,431.34"/>
<polygon fill="#f10000" points="393.81,376.5 387.1,375.02 392.95,371.06 399.66,372.54"/>
<polygon fill="#ff1600" points="381.26,378.99 374.55,377.57 380.39,373.6 387.1,375.02"/>
<polygon fill="#ff4600" points="368.7,381.55 361.99,380.17 367.84,376.2 374.55,377.57"/>
<polygon fill="#ff7200" points="356.14,384.16 349.43,382.81 355.28,378.84 361.99,380.17"/>
<polygon fill="#ff9000" points="343.59,386.81 336.88,385.48 342.72,381.5 349.43,382.81"/>
<polygon fill="#ffa700" points="331.03,389.47 324.32,388.15 330.17,384.17 336.88,385.48"/>
<polygon fill="#ffbc00" points="318.47,392.14 311.76,390.82 317.61,386.85 324.32,388.15"/>
<polygon fill="#ffd600" points="305.92,394.8 299.21,393.47 305.05,389.51 311.76,390.82"/>
<polygon fill="#fffa00" points="293.36,397.45 286.65,396.11 292.5,392.15 299.21,393.47"/>
<polygon fill="#bfff0c" points="280.8,400.08 274.09,398.7 279.94,394.76 286.65,396.11"/>
<polygon fill="#78ff26" points="268.25,402.67 261.54,401.26 267.38,397.32 274.09,398.7"/>
<polygon fill="#3cff4a" points="255.69,405.22 248.98,403.78 254.83,399.85 261.54,401.26"/>
<polygon fill="#1fff6a" points="243.13,407.72 236.42,406.24 242.27,402.32 248.98,403.78"/>
<polygon fill="#0cff85" points="230.58,410.18 223.87,408.65 229.71,404.73 236.42,406.24"/>
<polygon fill="#00ff9e" points="218.02,412.57 211.31,410.99 217.16,407.09 223.87,408.65"/>
<polygon fill="#00ffbe" points="205.46,414.91 198.75,413.28 204.6,409.39 211.31,410.99"/>
<polygon fill="#00ffe2" points="192.91,417.19 186.2,415.51 192.04,411.62 198.75,413.28"/>
<polygon fill="#00fbff" points="180.35,419.41 173.64,417.68 179.49,413.8 186.2,415.51"/>
<polygon fill="#00e5ff" points="167.79,421.58 161.08,419.79 166.93,415.92 173.64,417.68"/>
<polygon fill="#00cfff" points="155.24,423.69 148.53,421.85 154.37,417.98 161.08,419.79"/>
<polygon fill="#00b8ff" points="142.68,425.74 135.97,423.86 141.82,419.99 148.53,421.85"/>
<polygon fill="#00a1ff" points="130.12,427.75 123.41,425.83 129.26,421.95 135.97,423.86"/>
<polygon fill="#0089ff" points="117.57,429.72 110.86,427.76 116.7,423.87 123.41,425.83"/>
<polygon fill="#0072ff" points="105.01,431.65 98.3,429.65 104.15,425.76 110.86,427.76"/>
<polygon fill="#0057ff" points="92.45,433.56 85.74,431.53 91.59,427.63 98.3,429.65"/>
<polygon fill="#003eff" points="79.9,435.45 73.19,433.4 79.03,429.49 85.74,431.53"/>
<polygon fill="#002cff" points="67.34,437.33 60.63,435.27 66.48,431.34 73.19,433.4"/>
<polygon fill="#ff0e00" points="387.97,380.49 381.26,378.99 387.1,375.02 393.81,376.5"/>
<polygon fill="#ff3a00" points="375.41,382.99 368.7,381.55 374.55,377.57 381.26,378.99"/>
<polygon fill="#ff6c00" points="362.85,385.56 356.14,384.16 361.99,380.17 368.7,381.55"/>
<polygon fill="#ff9000" points="350.3,388.17 343.59,386.81 349.43,382.81 356.14,384.16"/>
<polygon fill="#ffa900" points="337.74,390.82 331.03,389.47 336.88,385.48 343.59,386.81"/>
<polygon fill="#ffbd00" points="325.18,393.48 318.47,392.14 324.32,388.15 331.03,389.47"/>
<polygon fill="#ffd400" points="312.63,396.15 305.92,394.8 311.76,390.82 318.47,392.14"/>
<polygon fill="#fff300" points="300.07,398.81 293.36,397.45 299.21,393.47 305.92,394.8"/>
<polygon fill="#cbff0a" points="287.51,401.45 280.8,400.08 286.65,396.11 293.36,397.45"/>
<polygon fill="#7cff24" points="274.96,404.07 268.25,402.67 274.09,398.7 280.8,400.08"/>
<polygon fill="#37ff4d" points="262.4,406.65 255.69,405.22 261.54,401.26 268.25,402.67"/>
<polygon fill="#1bff71" points="249.84,409.19 243.13,407.72 248.98,403.78 255.69,405.22"/>
<polygon fill="#06ff8d" points="237.29,411.69 230.58,410.18 236.42,406.24 243.13,407.72"/>
<polygon fill="#00ffaa" points="224.73,414.13 218.02,412.57 223.87,408.65 230.58,410.18"/>
<polygon fill="#00ffc5" points="212.17,416.52 205.46,414.91 211.31,410.99 218.02,412.57"/>
<polygon fill="#00ffea" points="199.62,418.85 192.91,417.19 198.75,413.28 205.46,414.91"/>
<polygon fill="#00f5ff" points="187.06,421.12 180.35,419.41 186.2,415.51 192.91,417.19"/>
<polygon fill="#00deff" points="174.5,423.33 167.79,421.58 173.64,417.68 180.35,419.41"/>
<polygon fill="#00c8ff" points="161.95,425.49 155.24,423.69 161.08,419.79 167.79,421.58"/>
<polygon fill="#00b2ff" points="149.39,427.59 142.68,425.74 148.53,421.85 155.24,423.69"/>
<polygon fill="#009bff" points="136.83,429.65 130.12,427.75 135.97,423.86 142.68,425.74"/>
<polygon fill="#0084ff" points="124.28,431.66 117.57,429.72 123.41,425.83 130.12,427.75"/>
<polygon fill="#006dff" points="111.72,433.62 105.01,431.65 110.86,427.76 117.57,429.72"/>
<polygon fill="#0052ff" points="99.16,435.56 92.45,433.56 98.3,429.65 105.01,431.65"/>
<polygon fill="#0037ff" points="86.61,437.48 79.9,435.45 85.74,431.53 92.45,433.56"/>
<polygon fill="#0020ff" points="74.05,439.38 67.34,437.33 73.19,433.4 79.9,435.45"/>
<polygon fill="#ff2f00" points="382.12,384.49 375.41,382.99 381.26,378.99 387.97,380.49"/>
<polygon fill="#ff6000" points="369.56,387 362.85,385.56 368.7,381.55 375.41,382.99"/>
<polygon fill="#ff8c00" points="357.01,389.58 350.3,388.17 356.14,384.16 362.85,385.56"/>
<polygon fill="#ffaa00" points="344.45,392.2 337.74,390.82 343.59,386.81 350.3,388.17"/>
<polygon fill="#ffc000" points="331.89,394.85 325.18,393.48 331.03,389.47 337.74,390.82"/>
<polygon fill="#ffd500" points="319.34,397.51 312.63,396.15 318.47,392.14 325.18,393.48"/>
<polygon fill="#ffee00" points="306.78,400.17 300.07,398.81 305.92,394.8 312.63,396.15"/>
<polygon fill="#dbff07" points="294.22,402.83 287.51,401.45 293.36,397.45 300.07,398.81"/>
<polygon fill="#89ff1c" points="281.67,405.47 274.96,404.07 280.8,400.08 287.51,401.45"/>
<polygon fill="#36ff4e" points="269.11,408.08 262.4,406.65 268.25,402.67 274.96,404.07"/>
<polygon fill="#17ff76" points="256.55,410.65 249.84,409.19 255.69,405.22 262.4,406.65"/>
<polygon fill="#01ff95" points="244,413.18 237.29,411.69 243.13,407.72 249.84,409.19"/>
<polygon fill="#00ffb8" points="231.44,415.67 224.73,414.13 230.58,410.18 237.29,411.69"/>
<polygon fill="#00ffd5" points="218.88,418.1 212.17,416.52 218.02,412.57 224.73,414.13"/>
<polygon fill="#00fff5" points="206.33,420.48 199.62,418.85 205.46,414.91 212.17,416.52"/>
<polygon fill="#00eeff" points="193.77,422.8 187.06,421.12 192.91,417.19 199.62,418.85"/>
<polygon fill="#00d8ff" points="181.21,425.06 174.5,423.33 180.35,419.41 187.06,421.12"/>
<polygon fill="#00c1ff" points="168.66,427.27 161.95,425.49 167.79,421.58 174.5,423.33"/>
<polygon fill="#00acff" points="156.1,429.42 149.39,427.59 155.24,423.69 161.95,425.49"/>
<polygon fill="#0096ff" points="143.54,431.52 136.83,429.65 142.68,425.74 149.39,427.59"/>
<polygon fill="#007fff" points="130.99,433.57 124.28,431.66 130.12,427.75 136.83,429.65"/>
<polygon fill="#0068ff" points="118.43,435.57 111.72,433.62 117.57,429.72 124.28,431.66"/>
<polygon fill="#004cff" points="105.87,437.55 99.16,435.56 105.01,431.65 111.72,433.62"/>
<polygon fill="#0031ff" points="93.32,439.49 86.61,437.48 92.45,433.56 99.16,435.56"/>
<polygon fill="#0019ff" points="80.76,441.41 74.05,439.38 79.9,435.45 86.61,437.48"/>
<polygon fill="#ff5500" points="376.27,388.51 369.56,387 375.41,382.99 382.12,384.49"/>
<polygon fill="#ff8500" points="363.72,391.03 357.01,389.58 362.85,385.56 369.56,387"/>
<polygon fill="#ffa900" points="351.16,393.62 344.45,392.2 350.3,388.17 357.01,389.58"/>
<polygon fill="#ffc200" points="338.6,396.24 331.89,394.85 337.74,390.82 344.45,392.2"/>
<polygon fill="#ffd700" points="326.05,398.89 319.34,397.51 325.18,393.48 331.89,394.85"/>
<polygon fill="#ffed00" points="313.49,401.55 306.78,400.17 312.63,396.15 319.34,397.51"/>
<polygon fill="#e8ff04" points="300.93,404.22 294.22,402.83 300.07,398.81 306.78,400.17"/>
<polygon fill="#9cff13" points="288.38,406.87 281.67,405.47 287.51,401.45 294.22,402.83"/>
<polygon fill="#42ff46" points="275.82,409.5 269.11,408.08 274.96,404.07 281.67,405.47"/>
<polygon fill="#16ff77" points="263.26,412.1 256.55,410.65 262.4,406.65 269.11,408.08"/>
<polygon fill="#00ff9d" points="250.71,414.67 244,413.18 249.84,409.19 256.55,410.65"/>
<polygon fill="#00ffc4" points="238.15,417.19 231.44,415.67 237.29,411.69 244,413.18"/>
<polygon fill="#00ffe5" points="225.59,419.66 218.88,418.1 224.73,414.13 231.44,415.67"/>
<polygon fill="#00fbff" points="213.04,422.08 206.33,420.48 212.17,416.52 218.88,418.1"/>
<polygon fill="#00e6ff" points="200.48,424.45 193.77,422.8 199.62,418.85 206.33,420.48"/>
<polygon fill="#00d0ff" points="187.92,426.76 181.21,425.06 187.06,421.12 193.77,422.8"/>
<polygon fill="#00bbff" points="175.37,429.02 168.66,427.27 174.5,423.33 181.21,425.06"/>
<polygon fill="#00a5ff" points="162.81,431.21 156.1,429.42 161.95,425.49 168.66,427.27"/>
<polygon fill="#0090ff" points="150.25,433.36 143.54,431.52 149.39,427.59 156.1,429.42"/>
<polygon fill="#007aff" points="137.7,435.45 130.99,433.57 136.83,429.65 143.54,431.52"/>
<polygon fill="#0062ff" points="125.14,437.5 118.43,435.57 124.28,431.66 130.99,433.57"/>
<polygon fill="#0047ff" points="112.58,439.51 105.87,437.55 111.72,433.62 118.43,435.57"/>
<polygon fill="#002bff" points="100.03,441.48 93.32,439.49 99.16,435.56 105.87,437.55"/>
<polygon fill="#0011ff" points="87.47,443.43 80.76,441.41 86.61,437.48 93.32,439.49"/>
<polygon fill="#ff7b00" points="370.43,392.54 363.72,391.03 369.56,387 376.27,388.51"/>
<polygon fill="#ffa500" points="357.87,395.08 351.16,393.62 357.01,389.58 363.72,391.03"/>
<polygon fill="#ffc300" points="345.31,397.67 338.6,396.24 344.45,392.2 351.16,393.62"/>
<polygon fill="#ffda00" points="332.76,400.3 326.05,398.89 331.89,394.85 338.6,396.24"/>
<polygon fill="#ffef00" points="320.2,402.95 313.49,401.55 319.34,397.51 326.05,398.89"/>
<polygon fill="#eeff03" points="307.64,405.62 300.93,404.22 306.78,400.17 313.49,401.55"/>
<polygon fill="#adff10" points="295.09,408.28 288.38,406.87 294.22,402.83 300.93,404.22"/>
<polygon fill="#57ff3a" points="282.53,410.92 275.82,409.5 281.67,405.47 288.38,406.87"/>
<polygon fill="#1aff72" points="269.97,413.55 263.26,412.1 269.11,408.08 275.82,409.5"/>
<polygon fill="#00ffa0" points="257.42,416.14 250.71,414.67 256.55,410.65 263.26,412.1"/>
<polygon fill="#00ffce" points="244.86,418.7 238.15,417.19 244,413.18 250.71,414.67"/>
<polygon fill="#00fff3" points="232.3,421.21 225.59,419.66 231.44,415.67 238.15,417.19"/>
<polygon fill="#00f2ff" points="219.75,423.67 213.04,422.08 218.88,418.1 225.59,419.66"/>
<polygon fill="#00ddff" points="207.19,426.09 200.48,424.45 206.33,420.48 213.04,422.08"/>
<polygon fill="#00c8ff" points="194.63,428.44 187.92,426.76 193.77,422.8 200.48,424.45"/>
<polygon fill="#00b3ff" points="182.08,430.74 175.37,429.02 181.21,425.06 187.92,426.76"/>
<polygon fill="#009eff" points="169.52,432.99 162.81,431.21 168.66,427.27 175.37,429.02"/>
<polygon fill="#0089ff" points="156.96,435.18 150.25,433.36 156.1,429.42 162.81,431.21"/>
<polygon fill="#0074ff" points="144.41,437.32 137.7,435.45 143.54,431.52 150.25,433.36"/>
<polygon fill="#005cff" points="131.85,439.41 125.14,437.5 130.99,433.57 137.7,435.45"/>
<polygon fill="#0041ff" points="119.29,441.45 112.58,439.51 118.43,435.57 125.14,437.5"/>
<polygon fill="#0024ff" points="106.74,443.46 100.03,441.48 105.87,437.55 112.58,439.51"/>
<polygon fill="#0009ff" points="94.18,445.43 87.47,443.43 93.32,439.49 100.03,441.48"/>
<polygon fill="#ff9f00" points="364.58,396.6 357.87,395.08 363.72,391.03 370.43,392.54"/>
<polygon fill="#ffc200" points="352.02,399.15 345.31,397.67 351.16,393.62 357.87,395.08"/>
<polygon fill="#ffdc00" points="339.47,401.75 332.76,400.3 338.6,396.24 345.31,397.67"/>
<polygon fill="#fff200" points="326.91,404.38 320.2,402.95 326.05,398.89 332.76,400.3"/>
<polygon fill="#edff03" points="314.35,407.04 307.64,405.62 313.49,401.55 320.2,402.95"/>
<polygon fill="#b9ff0d" points="301.8,409.7 295.09,408.28 300.93,404.22 307.64,405.62"/>
<polygon fill="#6bff2e" points="289.24,412.35 282.53,410.92 288.38,406.87 295.09,408.28"/>
<polygon fill="#22ff66" points="276.68,414.99 269.97,413.55 275.82,409.5 282.53,410.92"/>
<polygon fill="#00ff9c" points="264.13,417.61 257.42,416.14 263.26,412.1 269.97,413.55"/>
<polygon fill="#00ffd3" points="251.57,420.2 244.86,418.7 250.71,414.67 257.42,416.14"/>
<polygon fill="#00fffe" points="239.01,422.75 232.3,421.21 238.15,417.19 244.86,418.7"/>
<polygon fill="#00e9ff" points="226.46,425.25 219.75,423.67 225.59,419.66 232.3,421.21"/>
<polygon fill="#00d4ff" points="213.9,427.7 207.19,426.09 213.04,422.08 219.75,423.67"/>
<polygon fill="#00bfff" points="201.34,430.1 194.63,428.44 200.48,424.45 207.19,426.09"/>
<polygon fill="#00abff" points="188.79,432.45 182.08,430.74 187.92,426.76 194.63,428.44"/>
<polygon fill="#0097ff" points="176.23,434.74 169.52,432.99 175.37,429.02 182.08,430.74"/>
<polygon fill="#0083ff" points="163.67,436.98 156.96,435.18 162.81,431.21 169.52,432.99"/>
<polygon fill="#006eff" points="151.12,439.16 144.41,437.32 150.25,433.36 156.96,435.18"/>
<polygon fill="#0055ff" points="138.56,441.29 131.85,439.41 137.7,435.45 144.41,437.32"/>
<polygon fill="#003aff" points="126,443.38 119.29,441.45 125.14,437.5 131.85,439.41"/>
<polygon fill="#001eff" points="113.45,445.42 106.74,443.46 112.58,439.51 119.29,441.45"/>
<polygon fill="#0002ff" points="100.89,447.42 94.18,445.43 100.03,441.48 106.74,443.46"/>
<polygon fill="#ffbf00" points="358.73,400.67 352.02,399.15 357.87,395.08 364.58,396.6"/>
<polygon fill="#ffdd00" points="346.18,403.23 339.47,401.75 345.31,397.67 352.02,399.15"/>
<polygon fill="#fff500" points="333.62,405.84 326.91,404.38 332.76,400.3 339.47,401.75"/>
<polygon fill="#e9ff04" points="321.06,408.48 314.35,407.04 320.2,402.95 326.91,404.38"/>
<polygon fill="#bbff0d" points="308.51,411.13 301.8,409.7 307.64,405.62 314.35,407.04"/>
<polygon fill="#7bff24" points="295.95,413.79 289.24,412.35 295.09,408.28 301.8,409.7"/>
<polygon fill="#2cff58" points="283.39,416.45 276.68,414.99 282.53,410.92 289.24,412.35"/>
<polygon fill="#03ff92" points="270.84,419.08 264.13,417.61 269.97,413.55 276.68,414.99"/>
<polygon fill="#00ffd1" points="258.28,421.69 251.57,420.2 257.42,416.14 264.13,417.61"/>
<polygon fill="#00fcff" points="245.72,424.27 239.01,422.75 244.86,418.7 251.57,420.2"/>
<polygon fill="#00e2ff" points="233.17,426.81 226.46,425.25 232.3,421.21 239.01,422.75"/>
<polygon fill="#00cbff" points="220.61,429.3 213.9,427.7 219.75,423.67 226.46,425.25"/>
<polygon fill="#00b6ff" points="208.05,431.75 201.34,430.1 207.19,426.09 213.9,427.7"/>
<polygon fill="#00a2ff" points="195.5,434.14 188.79,432.45 194.63,428.44 201.34,430.1"/>
<polygon fill="#008eff" points="182.94,436.47 176.23,434.74 182.08,430.74 188.79,432.45"/>
<polygon fill="#007bff" points="170.38,438.76 163.67,436.98 169.52,432.99 176.23,434.74"/>
<polygon fill="#0066ff" points="157.83,440.98 151.12,439.16 156.96,435.18 163.67,436.98"/>
<polygon fill="#004eff" points="145.27,443.16 138.56,441.29 144.41,437.32 151.12,439.16"/>
<polygon fill="#0033ff" points="132.71,445.28 126,443.38 131.85,439.41 138.56,441.29"/>
<polygon fill="#0017ff" points="120.16,447.36 113.45,445.42 119.29,441.45 126,443.38"/>
<polygon fill="#0000fb" points="107.6,449.4 100.89,447.42 106.74,443.46 113.45,445.42"/>
<polygon fill="#ffdb00" points="352.89,404.77 346.18,403.23 352.02,399.15 358.73,400.67"/>
<polygon fill="#fff700" points="340.33,407.34 333.62,405.84 339.47,401.75 346.18,403.23"/>
<polygon fill="#e4ff05" points="327.77,409.95 321.06,408.48 326.91,404.38 333.62,405.84"/>
<polygon fill="#b9ff0d" points="315.22,412.59 308.51,411.13 314.35,407.04 321.06,408.48"/>
<polygon fill="#82ff20" points="302.66,415.25 295.95,413.79 301.8,409.7 308.51,411.13"/>
<polygon fill="#36ff4e" points="290.1,417.91 283.39,416.45 289.24,412.35 295.95,413.79"/>
<polygon fill="#0bff87" points="277.55,420.56 270.84,419.08 276.68,414.99 283.39,416.45"/>
<polygon fill="#00ffc9" points="264.99,423.19 258.28,421.69 264.13,417.61 270.84,419.08"/>
<polygon fill="#00fbff" points="252.43,425.79 245.72,424.27 251.57,420.2 258.28,421.69"/>
<polygon fill="#00ddff" points="239.88,428.36 233.17,426.81 239.01,422.75 245.72,424.27"/>
<polygon fill="#00c3ff" points="227.32,430.89 220.61,429.3 226.46,425.25 233.17,426.81"/>
<polygon fill="#00adff" points="214.76,433.37 208.05,431.75 213.9,427.7 220.61,429.3"/>
<polygon fill="#0099ff" points="202.21,435.81 195.5,434.14 201.34,430.1 208.05,431.75"/>
<polygon fill="#0086ff" points="189.65,438.19 182.94,436.47 188.79,432.45 195.5,434.14"/>
<polygon fill="#0073ff" points="177.09,440.51 170.38,438.76 176.23,434.74 182.94,436.47"/>
<polygon fill="#005dff" points="164.54,442.78 157.83,440.98 163.67,436.98 170.38,438.76"/>
<polygon fill="#0045ff" points="151.98,445 145.27,443.16 151.12,439.16 157.83,440.98"/>
<polygon fill="#002bff" points="139.42,447.17 132.71,445.28 138.56,441.29 145.27,443.16"/>
<polygon fill="#0010ff" points="126.87,449.29 120.16,447.36 126,443.38 132.71,445.28"/>
<polygon fill="#0000f5" points="114.31,451.36 107.6,449.4 113.45,445.42 120.16,447.36"/>
<polygon fill="#fff600" points="347.04,408.88 340.33,407.34 346.18,403.23 352.89,404.77"/>
<polygon fill="#e1ff06" points="334.48,411.46 327.77,409.95 333.62,405.84 340.33,407.34"/>
<polygon fill="#b5ff0e" points="321.93,414.08 315.22,412.59 321.06,408.48 327.77,409.95"/>
<polygon fill="#81ff21" points="309.37,416.72 302.66,415.25 308.51,411.13 315.22,412.59"/>
<polygon fill="#3eff49" points="296.81,419.38 290.1,417.91 295.95,413.79 302.66,415.25"/>
<polygon fill="#11ff7e" points="284.26,422.04 277.55,420.56 283.39,416.45 290.1,417.91"/>
<polygon fill="#00ffbe" points="271.7,424.69 264.99,423.19 270.84,419.08 277.55,420.56"/>
<polygon fill="#00feff" points="259.14,427.31 252.43,425.79 258.28,421.69 264.99,423.19"/>
<polygon fill="#00daff" points="246.59,429.91 239.88,428.36 245.72,424.27 252.43,425.79"/>
<polygon fill="#00bdff" points="234.03,432.47 227.32,430.89 233.17,426.81 239.88,428.36"/>
<polygon fill="#00a5ff" points="221.47,434.99 214.76,433.37 220.61,429.3 227.32,430.89"/>
<polygon fill="#0090ff" points="208.92,437.46 202.21,435.81 208.05,431.75 214.76,433.37"/>
<polygon fill="#007dff" points="196.36,439.88 189.65,438.19 195.5,434.14 202.21,435.81"/>
<polygon fill="#0069ff" points="183.8,442.25 177.09,440.51 182.94,436.47 189.65,438.19"/>
<polygon fill="#0053ff" points="171.25,444.57 164.54,442.78 170.38,438.76 177.09,440.51"/>
<polygon fill="#003bff" points="158.69,446.83 151.98,445 157.83,440.98 164.54,442.78"/>
<polygon fill="#0022ff" points="146.13,449.04 139.42,447.17 145.27,443.16 151.98,445"/>
<polygon fill="#0008ff" points="133.58,451.19 126.87,449.29 132.71,445.28 139.42,447.17"/>
<polygon fill="#0000ef" points="121.02,453.31 114.31,451.36 120.16,447.36 126.87,449.29"/>
<polygon fill="#e1ff06" points="341.19,413 334.48,411.46 340.33,407.34 347.04,408.88"/>
<polygon fill="#b3ff0e" points="328.64,415.6 321.93,414.08 327.77,409.95 334.48,411.46"/>
<polygon fill="#80ff21" points="316.08,418.22 309.37,416.72 315.22,412.59 321.93,414.08"/>
<polygon fill="#41ff47" points="303.52,420.87 296.81,419.38 302.66,415.25 309.37,416.72"/>
<polygon fill="#16ff77" points="290.97,423.53 284.26,422.04 290.1,417.91 296.81,419.38"/>
<polygon fill="#00ffb4" points="278.41,426.19 271.7,424.69 277.55,420.56 284.26,422.04"/>
<polygon fill="#00fffa" points="265.85,428.83 259.14,427.31 264.99,423.19 271.7,424.69"/>
<polygon fill="#00dbff" points="253.3,431.45 246.59,429.91 252.43,425.79 259.14,427.31"/>
<polygon fill="#00baff" points="240.74,434.04 234.03,432.47 239.88,428.36 246.59,429.91"/>
<polygon fill="#009fff" points="228.18,436.59 221.47,434.99 227.32,430.89 234.03,432.47"/>
<polygon fill="#0087ff" points="215.63,439.1 208.92,437.46 214.76,433.37 221.47,434.99"/>
<polygon fill="#0073ff" points="203.07,441.57 196.36,439.88 202.21,435.81 208.92,437.46"/>
<polygon fill="#005eff" points="190.51,443.98 183.8,442.25 189.65,438.19 196.36,439.88"/>
<polygon fill="#0048ff" points="177.96,446.34 171.25,444.57 177.09,440.51 183.8,442.25"/>
<polygon fill="#0030ff" points="165.4,448.64 158.69,446.83 164.54,442.78 171.25,444.57"/>
<polygon fill="#0018ff" points="152.84,450.89 146.13,449.04 151.98,445 158.69,446.83"/>
<polygon fill="#0000fe" points="140.29,453.09 133.58,451.19 139.42,447.17 146.13,449.04"/>
<polygon fill="#0000e8" points="127.73,455.24 121.02,453.31 126.87,449.29 133.58,451.19"/>
<polygon fill="#b4ff0e" points="335.35,417.15 328.64,415.6 334.48,411.46 341.19,413"/>
<polygon fill="#81ff21" points="322.79,419.75 316.08,418.22 321.93,414.08 328.64,415.6"/>
<polygon fill="#45ff45" points="310.23,422.39 303.52,420.87 309.37,416.72 316.08,418.22"/>
<polygon fill="#19ff73" points="297.68,425.04 290.97,423.53 296.81,419.38 303.52,420.87"/>
<polygon fill="#00ffab" points="285.12,427.7 278.41,426.19 284.26,422.04 290.97,423.53"/>
<polygon fill="#00fff2" points="272.56,430.35 265.85,428.83 271.7,424.69 278.41,426.19"/>
<polygon fill="#00ddff" points="260.01,432.99 253.3,431.45 259.14,427.31 265.85,428.83"/>
<polygon fill="#00b9ff" points="247.45,435.61 240.74,434.04 246.59,429.91 253.3,431.45"/>
<polygon fill="#009aff" points="234.89,438.19 228.18,436.59 234.03,432.47 240.74,434.04"/>
<polygon fill="#0080ff" points="222.34,440.74 215.63,439.1 221.47,434.99 228.18,436.59"/>
<polygon fill="#0069ff" points="209.78,443.24 203.07,441.57 208.92,437.46 215.63,439.1"/>
<polygon fill="#0053ff" points="197.22,445.69 190.51,443.98 196.36,439.88 203.07,441.57"/>
<polygon fill="#003cff" points="184.67,448.09 177.96,446.34 183.8,442.25 190.51,443.98"/>
<polygon fill="#0025ff" points="172.11,450.43 165.4,448.64 171.25,444.57 177.96,446.34"/>
<polygon fill="#000dff" points="159.55,452.73 152.84,450.89 158.69,446.83 165.4,448.64"/>
<polygon fill="#0000f6" points="147,454.97 140.29,453.09 146.13,449.04 152.84,450.89"/>
<polygon fill="#0000e1" points="134.44,457.16 127.73,455.24 133.58,451.19 140.29,453.09"/>
<polygon fill="#83ff20" points="329.5,421.31 322.79,419.75 328.64,415.6 335.35,417.15"/>
<polygon fill="#4aff42" points="316.94,423.93 310.23,422.39 316.08,418.22 322.79,419.75"/>
<polygon fill="#1dff6d" points="304.39,426.57 297.68,425.04 303.52,420.87 310.23,422.39"/>
<polygon fill="#00ffa2" points="291.83,429.22 285.12,427.7 290.97,423.53 297.68,425.04"/>
<polygon fill="#00ffea" points="279.27,431.89 272.56,430.35 278.41,426.19 285.12,427.7"/>
<polygon fill="#00e0ff" points="266.72,434.54 260.01,432.99 265.85,428.83 272.56,430.35"/>
<polygon fill="#00b9ff" points="254.16,437.17 247.45,435.61 253.3,431.45 260.01,432.99"/>
<polygon fill="#0098ff" points="241.6,439.78 234.89,438.19 240.74,434.04 247.45,435.61"/>
<polygon fill="#007cff" points="229.05,442.36 222.34,440.74 228.18,436.59 234.89,438.19"/>
<polygon fill="#0061ff" points="216.49,444.89 209.78,443.24 215.63,439.1 222.34,440.74"/>
<polygon fill="#0047ff" points="203.93,447.38 197.22,445.69 203.07,441.57 209.78,443.24"/>
<polygon fill="#0031ff" points="191.38,449.82 184.67,448.09 190.51,443.98 197.22,445.69"/>
<polygon fill="#001aff" points="178.82,452.21 172.11,450.43 177.96,446.34 184.67,448.09"/>
<polygon fill="#0003ff" points="166.26,454.55 159.55,452.73 165.4,448.64 172.11,450.43"/>
<polygon fill="#0000ed" points="153.71,456.83 147,454.97 152.84,450.89 159.55,452.73"/>
<polygon fill="#0000da" points="141.15,459.06 134.44,457.16 140.29,453.09 147,454.97"/>
<polygon fill="#4fff3f" points="323.65,425.49 316.94,423.93 322.79,419.75 329.5,421.31"/>
<polygon fill="#22ff66" points="311.1,428.12 304.39,426.57 310.23,422.39 316.94,423.93"/>
<polygon fill="#00ff96" points="298.54,430.77 291.83,429.22 297.68,425.04 304.39,426.57"/>
<polygon fill="#00ffdf" points="285.98,433.43 279.27,431.89 285.12,427.7 291.83,429.22"/>
<polygon fill="#00e5ff" points="273.43,436.09 266.72,434.54 272.56,430.35 279.27,431.89"/>
<polygon fill="#00bbff" points="260.87,438.74 254.16,437.17 260.01,432.99 266.72,434.54"/>
<polygon fill="#0097ff" points="248.31,441.37 241.6,439.78 247.45,435.61 254.16,437.17"/>
<polygon fill="#0079ff" points="235.76,443.97 229.05,442.36 234.89,438.19 241.6,439.78"/>
<polygon fill="#005bff" points="223.2,446.54 216.49,444.89 222.34,440.74 229.05,442.36"/>
<polygon fill="#003fff" points="210.64,449.07 203.93,447.38 209.78,443.24 216.49,444.89"/>
<polygon fill="#0026ff" points="198.09,451.55 191.38,449.82 197.22,445.69 203.93,447.38"/>
<polygon fill="#000fff" points="185.53,453.98 178.82,452.21 184.67,448.09 191.38,449.82"/>
<polygon fill="#0000f9" points="172.97,456.36 166.26,454.55 172.11,450.43 178.82,452.21"/>
<polygon fill="#0000e5" points="160.42,458.68 153.71,456.83 159.55,452.73 166.26,454.55"/>
<polygon fill="#0000d3" points="147.86,460.95 141.15,459.06 147,454.97 153.71,456.83"/>
<polygon fill="#26ff61" points="317.81,429.69 311.1,428.12 316.94,423.93 323.65,425.49"/>
<polygon fill="#06ff8e" points="305.25,432.33 298.54,430.77 304.39,426.57 311.1,428.12"/>
<polygon fill="#00ffd1" points="292.69,434.98 285.98,433.43 291.83,429.22 298.54,430.77"/>
<polygon fill="#00ecff" points="280.14,437.65 273.43,436.09 279.27,431.89 285.98,433.43"/>
<polygon fill="#00beff" points="267.58,440.31 260.87,438.74 266.72,434.54 273.43,436.09"/>
<polygon fill="#0098ff" points="255.02,442.96 248.31,441.37 254.16,437.17 260.87,438.74"/>
<polygon fill="#0078ff" points="242.47,445.58 235.76,443.97 241.6,439.78 248.31,441.37"/>
<polygon fill="#0058ff" points="229.91,448.18 223.2,446.54 229.05,442.36 235.76,443.97"/>
<polygon fill="#0039ff" points="217.35,450.74 210.64,449.07 216.49,444.89 223.2,446.54"/>
<polygon fill="#001eff" points="204.8,453.26 198.09,451.55 203.93,447.38 210.64,449.07"/>
<polygon fill="#0006ff" points="192.24,455.73 185.53,453.98 191.38,449.82 198.09,451.55"/>
<polygon fill="#0000f1" points="179.68,458.15 172.97,456.36 178.82,452.21 185.53,453.98"/>
<polygon fill="#0000de" points="167.13,460.51 160.42,458.68 166.26,454.55 172.97,456.36"/>
<polygon fill="#0000cd" points="154.57,462.83 147.86,460.95 153.71,456.83 160.42,458.68"/>
<polygon fill="#0aff88" points="311.96,433.91 305.25,432.33 311.1,428.12 317.81,429.69"/>
<polygon fill="#00ffc4" points="299.4,436.55 292.69,434.98 298.54,430.77 305.25,432.33"/>
<polygon fill="#00f4ff" points="286.85,439.22 280.14,437.65 285.98,433.43 292.69,434.98"/>
<polygon fill="#00c4ff" points="274.29,441.88 267.58,440.31 273.43,436.09 280.14,437.65"/>
<polygon fill="#009aff" points="261.73,444.55 255.02,442.96 260.87,438.74 267.58,440.31"/>
<polygon fill="#0077ff" points="249.18,447.19 242.47,445.58 248.31,441.37 255.02,442.96"/>
<polygon fill="#0055ff" points="236.62,449.82 229.91,448.18 235.76,443.97 242.47,445.58"/>
<polygon fill="#0035ff" points="224.06,452.41 217.35,450.74 223.2,446.54 229.91,448.18"/>
<polygon fill="#0018ff" points="211.51,454.96 204.8,453.26 210.64,449.07 217.35,450.74"/>
<polygon fill="#0000fe" points="198.95,457.47 192.24,455.73 198.09,451.55 204.8,453.26"/>
<polygon fill="#0000ea" points="186.39,459.93 179.68,458.15 185.53,453.98 192.24,455.73"/>
<polygon fill="#0000d8" points="173.84,462.33 167.13,460.51 172.97,456.36 179.68,458.15"/>
<polygon fill="#0000c7" points="161.28,464.69 154.57,462.83 160.42,458.68 167.13,460.51"/>
<polygon fill="#00ffb9" points="306.11,438.15 299.4,436.55 305.25,432.33 311.96,433.91"/>
<polygon fill="#00fdff" points="293.56,440.8 286.85,439.22 292.69,434.98 299.4,436.55"/>
<polygon fill="#00cbff" points="281,443.47 274.29,441.88 280.14,437.65 286.85,439.22"/>
<polygon fill="#009dff" points="268.44,446.14 261.73,444.55 267.58,440.31 274.29,441.88"/>
<polygon fill="#0077ff" points="255.89,448.8 249.18,447.19 255.02,442.96 261.73,444.55"/>
<polygon fill="#0053ff" points="243.33,451.45 236.62,449.82 242.47,445.58 249.18,447.19"/>
<polygon fill="#0032ff" points="230.77,454.06 224.06,452.41 229.91,448.18 236.62,449.82"/>
<polygon fill="#0014ff" points="218.22,456.65 211.51,454.96 217.35,450.74 224.06,452.41"/>
<polygon fill="#0000f9" points="205.66,459.19 198.95,457.47 204.8,453.26 211.51,454.96"/>
<polygon fill="#0000e5" points="193.1,461.69 186.39,459.93 192.24,455.73 198.95,457.47"/>
<polygon fill="#0000d2" points="180.55,464.14 173.84,462.33 179.68,458.15 186.39,459.93"/>
<polygon fill="#0000c2" points="167.99,466.54 161.28,464.69 167.13,460.51 173.84,462.33"/>
<polygon fill="#00fff6" points="300.27,442.4 293.56,440.8 299.4,436.55 306.11,438.15"/>
<polygon fill="#00d3ff" points="287.71,445.06 281,443.47 286.85,439.22 293.56,440.8"/>
<polygon fill="#00a2ff" points="275.15,447.74 268.44,446.14 274.29,441.88 281,443.47"/>
<polygon fill="#0079ff" points="262.6,450.41 255.89,448.8 261.73,444.55 268.44,446.14"/>
<polygon fill="#0052ff" points="250.04,453.07 243.33,451.45 249.18,447.19 255.89,448.8"/>
<polygon fill="#002fff" points="237.48,455.72 230.77,454.06 236.62,449.82 243.33,451.45"/>
<polygon fill="#0010ff" points="224.93,458.33 218.22,456.65 224.06,452.41 230.77,454.06"/>
<polygon fill="#0000f6" points="212.37,460.91 205.66,459.19 211.51,454.96 218.22,456.65"/>
<polygon fill="#0000e1" points="199.81,463.44 193.1,461.69 198.95,457.47 205.66,459.19"/>
<polygon fill="#0000ce" points="187.26,465.93 180.55,464.14 186.39,459.93 193.1,461.69"/>
<polygon fill="#0000be" points="174.7,468.37 167.99,466.54 173.84,462.33 180.55,464.14"/>
<polygon fill="#00dbff" points="294.42,446.67 287.71,445.06 293.56,440.8 300.27,442.4"/>
<polygon fill="#00a9ff" points="281.86,449.34 275.15,447.74 281,443.47 287.71,445.06"/>
<polygon fill="#007cff" points="269.31,452.02 262.6,450.41 268.44,446.14 275.15,447.74"/>
<polygon fill="#0053ff" points="256.75,454.7 250.04,453.07 255.89,448.8 262.6,450.41"/>
<polygon fill="#002dff" points="244.19,457.36 237.48,455.72 243.33,451.45 250.04,453.07"/>
<polygon fill="#000dff" points="231.64,460 224.93,458.33 230.77,454.06 237.48,455.72"/>
<polygon fill="#0000f3" points="219.08,462.61 212.37,460.91 218.22,456.65 224.93,458.33"/>
<polygon fill="#0000de" points="206.52,465.18 199.81,463.44 205.66,459.19 212.37,460.91"/>
<polygon fill="#0000cb" points="193.97,467.71 187.26,465.93 193.1,461.69 199.81,463.44"/>
<polygon fill="#0000bb" points="181.41,470.19 174.7,468.37 180.55,464.14 187.26,465.93"/>
<polygon fill="#00b1ff" points="288.57,450.96 281.86,449.34 287.71,445.06 294.42,446.67"/>
<polygon fill="#0082ff" points="276.02,453.64 269.31,452.02 275.15,447.74 281.86,449.34"/>
<polygon fill="#0055ff" points="263.46,456.33 256.75,454.7 262.6,450.41 269.31,452.02"/>
<polygon fill="#002cff" points="250.9,459.01 244.19,457.36 250.04,453.07 256.75,454.7"/>
<polygon fill="#000bff" points="238.35,461.67 231.64,460 237.48,455.72 244.19,457.36"/>
<polygon fill="#0000f1" points="225.79,464.31 219.08,462.61 224.93,458.33 231.64,460"/>
<polygon fill="#0000dc" points="213.23,466.91 206.52,465.18 212.37,460.91 219.08,462.61"/>
<polygon fill="#0000ca" points="200.68,469.48 193.97,467.71 199.81,463.44 206.52,465.18"/>
<polygon fill="#0000b9" points="188.12,471.99 181.41,470.19 187.26,465.93 193.97,467.71"/>
<polygon fill="#008aff" points="282.73,455.27 276.02,453.64 281.86,449.34 288.57,450.96"/>
<polygon fill="#005bff" points="270.17,457.96 263.46,456.33 269.31,452.02 276.02,453.64"/>
<polygon fill="#002eff" points="257.61,460.65 250.9,459.01 256.75,454.7 263.46,456.33"/>
<polygon fill="#000aff" points="245.06,463.33 238.35,461.67 244.19,457.36 250.9,459.01"/>
<polygon fill="#0000ef" points="232.5,465.99 225.79,464.31 231.64,460 238.35,461.67"/>
<polygon fill="#0000da" points="219.94,468.63 213.23,466.91 219.08,462.61 225.79,464.31"/>
<polygon fill="#0000c8" points="207.39,471.23 200.68,469.48 206.52,465.18 213.23,466.91"/>
<polygon fill="#0000b8" points="194.83,473.79 188.12,471.99 193.97,467.71 200.68,469.48"/>
<polygon fill="#0063ff" points="276.88,459.59 270.17,457.96 276.02,453.64 282.73,455.27"/>
<polygon fill="#0032ff" points="264.32,462.29 257.61,460.65 263.46,456.33 270.17,457.96"/>
<polygon fill="#000bff" points="251.77,464.99 245.06,463.33 250.9,459.01 257.61,460.65"/>
<polygon fill="#0000ef" points="239.21,467.67 232.5,465.99 238.35,461.67 245.06,463.33"/>
<polygon fill="#0000d9" points="226.65,470.34 219.94,468.63 225.79,464.31 232.5,465.99"/>
<polygon fill="#0000c7" points="214.1,472.97 207.39,471.23 213.23,466.91 219.94,468.63"/>
<polygon fill="#0000b7" points="201.54,475.56 194.83,473.79 200.68,469.48 207.39,471.23"/>
<polygon fill="#0039ff" points="271.03,463.94 264.32,462.29 270.17,457.96 276.88,459.59"/>
<polygon fill="#000eff" points="258.48,466.65 251.77,464.99 257.61,460.65 264.32,462.29"/>
<polygon fill="#0000ef" points="245.92,469.35 239.21,467.67 245.06,463.33 251.77,464.99"/>
<polygon fill="#0000d9" points="233.36,472.03 226.65,470.34 232.5,465.99 239.21,467.67"/>
<polygon fill="#0000c6" points="220.81,474.7 214.1,472.97 219.94,468.63 226.65,470.34"/>
<polygon fill="#0000b7" points="208.25,477.32 201.54,475.56 207.39,471.23 214.1,472.97"/>
<polygon fill="#0014ff" points="265.19,468.3 258.48,466.65 264.32,462.29 271.03,463.94"/>
<polygon fill="#0000f2" points="252.63,471.02 245.92,469.35 251.77,464.99 258.48,466.65"/>
<polygon fill="#0000da" points="240.07,473.72 233.36,472.03 239.21,467.67 245.92,469.35"/>
<polygon fill="#0000c7" points="227.52,476.41 220.81,474.7 226.65,470.34 233.36,472.03"/>
<polygon fill="#0000b7" points="214.96,479.07 208.25,477.32 214.1,472.97 220.81,474.7"/>
<polygon fill="#0000f7" points="259.34,472.68 252.63,471.02 258.48,466.65 265.19,468.3"/>
<polygon fill="#0000dd" points="246.78,475.4 240.07,473.72 245.92,469.35 252.63,471.02"/>
<polygon fill="#0000c9" points="234.23,478.12 227.52,476.41 233.36,472.03 240.07,473.72"/>
<polygon fill="#0000b7" points="221.67,480.81 214.96,479.07 220.81,474.7 227.52,476.41"/>
<polygon fill="#0000e1" points="253.49,477.08 246.78,475.4 252.63,471.02 259.34,472.68"/>
<polygon fill="#0000cb" points="240.94,479.81 234.23,478.12 240.07,473.72 246.78,475.4"/>
<polygon fill="#0000b9" points="228.38,482.53 221.67,480.81 227.52,476.41 234.23,478.12"/>
<polygon fill="#0000cf" points="247.65,481.49 240.94,479.81 246.78,475.4 253.49,477.08"/>
<polygon fill="#0000bc" points="235.09,484.23 228.38,482.53 234.23,478.12 240.94,479.81"/>
<polygon fill="#0000c0" points="241.8,485.92 235.09,484.23 240.94,479.81 247.65,481.49"/>
</g>
<line class="a" x1="40.5" y1="446.5" x2="40.5" y2="351.3"/>
<line class="a" x1="40.5" y1="446.5" x2="241.8" y2="488.9"/>
<line class="a" x1="241.8" y1="488.9" x2="417.2" y2="440"/>
<line class="a" x1="241.8" y1="488.9" x2="236.5" y2="490.38"/>
<text class="t" x="234.3" y="501.3" text-anchor="end">10</text>
<line class="a" x1="205.2" y1="481.19" x2="199.9" y2="482.67"/>
<text class="t" x="197.7" y="493.59" text-anchor="end">20</text>
<line class="a" x1="168.6" y1="473.48" x2="163.3" y2="474.96"/>
<text class="t" x="161.1" y="485.88" text-anchor="end">30</text>
<line class="a" x1="132" y1="465.77" x2="126.7" y2="467.25"/>
<text class="t" x="124.5" y="478.17" text-anchor="end">40</text>
<line class="a" x1="95.4" y1="458.06" x2="90.1" y2="459.54"/>
<text class="t" x="87.9" y="470.46" text-anchor="end">50</text>
<line class="a" x1="58.8" y1="450.35" x2="53.5" y2="451.83"/>
<text class="t" x="51.3" y="462.75" text-anchor="end">60</text>
<line class="a" x1="241.8" y1="488.9" x2="247.18" y2="490.03"/>
<text class="t" x="249.6" y="501.7">1</text>
<line class="a" x1="307.57" y1="470.56" x2="312.96" y2="471.7"/>
<text class="t" x="315.38" y="483.36">2.5</text>
<line class="a" x1="417.2" y1="440" x2="422.58" y2="441.13"/>
<text class="t" x="425" y="452.8">5</text>
<line class="a" x1="40.5" y1="446.5" x2="35.12" y2="445.37"/>
<text class="t" x="32.7" y="449.1" text-anchor="end">0.2</text>
<line class="a" x1="40.5" y1="422.7" x2="35.12" y2="421.57"/>
<text class="t" x="32.7" y="425.3" text-anchor="end">0.4</text>
<line class="a" x1="40.5" y1="398.9" x2="35.12" y2="397.77"/>
<text class="t" x="32.7" y="401.5" text-anchor="end">0.6</text>
<line class="a" x1="40.5" y1="375.1" x2="35.12" y2="373.97"/>
<text class="t" x="32.7" y="377.7" text-anchor="end">0.8</text>
<line class="a" x1="40.5" y1="351.3" x2="35.12" y2="350.17"/>
<text class="t" x="32.7" y="353.9" text-anchor="end">1</text>
<text class="l" style="font-size:10.95px" text-anchor="middle" transform="translate(14.2 399.5) rotate(-90)">TV (normalized)</text>
<text class="l" style="font-size:10.95px" text-anchor="middle" transform="translate(141.5 514.4) rotate(11.9)">Axis jerk limit [m/s<tspan dy="-5.3" dx="0.4" font-size="8.4">3</tspan><tspan dy="5.3" dx="0.2">]</tspan></text>
<text class="l" style="font-size:10.95px" text-anchor="middle" transform="translate(328 501.2) rotate(-16.3)">Corner jerk limit [m/s<tspan dy="-5.3" dx="0.4" font-size="8.4">3</tspan><tspan dy="5.3" dx="0.2">]</tspan></text>
<text class="l" style="font-size:10.95px" x="109.5" y="299.9" textLength="106.9" lengthAdjust="spacing">Contour tolerance: 10</text>
<text class="l" style="font-size:10.45px;font-style:italic" text-anchor="middle" x="220.3" y="299.9">μ</text>
<text class="l" style="font-size:10.95px" x="225" y="299.9" textLength="120.1" lengthAdjust="spacing">m, Limit frequency: 15Hz</text>
<text class="c" text-anchor="middle" x="218.9" y="544.8">(b)</text>
</g>
</svg>
</body></html>
